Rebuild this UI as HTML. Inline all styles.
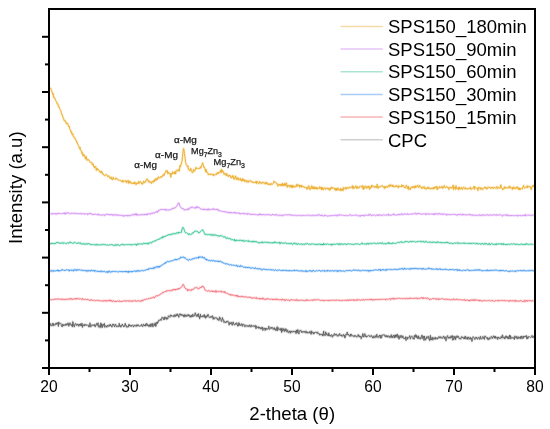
<!DOCTYPE html>
<html><head><meta charset="utf-8"><style>
html,body{margin:0;padding:0;background:#fff;}
svg{display:block;}
text{font-family:"Liberation Sans",sans-serif;fill:#000;}
.tk{font-size:15.6px;}
.al{font-size:18.6px;}
.lg{font-size:18.5px;}
.an{font-size:8.8px;fill:#1a1a1a;stroke:#1a1a1a;stroke-width:0.25px;}
.sb{font-size:6.6px;}
</style></head><body>
<svg width="550" height="429" viewBox="0 0 550 429">
<rect width="550" height="429" fill="#fff"/>
<g>
<polyline fill="none" stroke="#5c5c5c" stroke-opacity="0.22" stroke-width="2.2" stroke-linejoin="round" points="49.6,326.2 50.0,326.0 50.4,323.5 50.8,324.5 51.2,325.3 51.6,326.0 52.0,325.2 52.4,324.0 52.8,323.2 53.2,325.9 53.6,323.7 54.0,324.5 54.4,324.9 54.8,325.4 55.2,324.0 55.6,323.4 56.0,324.4 56.4,323.3 56.8,324.3 57.2,322.7 57.6,323.5 58.0,322.6 58.4,326.4 58.8,322.1 59.2,323.5 59.6,323.8 60.0,323.7 60.4,323.1 60.8,323.5 61.2,324.6 61.6,326.3 62.0,326.1 62.4,326.7 62.8,324.0 63.2,324.7 63.6,325.9 64.0,325.1 64.4,324.9 64.8,324.8 65.2,325.5 65.6,323.9 66.0,324.9 66.4,323.8 66.8,325.3 67.2,325.1 67.6,324.3 68.0,322.9 68.4,324.1 68.8,326.2 69.2,324.1 69.6,325.0 70.0,322.8 70.4,323.6 70.8,324.7 71.2,325.6 71.6,325.6 72.0,324.3 72.4,326.9 72.8,321.7 73.2,323.2 73.6,325.8 74.0,326.2 74.4,326.9 74.8,324.2 75.2,323.6 75.6,323.5 76.0,324.0 76.4,325.5 76.8,324.4 77.2,324.1 77.6,325.2 78.0,324.4 78.4,324.8 78.8,326.3 79.2,324.0 79.6,325.1 80.0,324.1 80.4,325.7 80.8,323.6 81.2,324.1 81.6,326.0 82.0,323.3 82.4,327.4 82.8,325.9 83.2,325.0 83.6,324.7 84.0,325.8 84.4,325.8 84.8,324.2 85.2,325.5 85.6,324.4 86.0,324.8 86.4,325.1 86.8,325.3 87.2,324.8 87.6,325.3 88.0,325.0 88.4,325.2 88.8,327.0 89.2,326.9 89.6,324.4 90.0,322.9 90.4,326.3 90.8,327.1 91.2,324.8 91.6,325.3 92.0,325.1 92.4,325.5 92.8,324.7 93.2,325.5 93.6,325.3 94.0,325.3 94.4,325.9 94.8,324.3 95.2,326.9 95.6,325.8 96.0,325.6 96.4,324.6 96.8,323.3 97.2,325.3 97.6,325.0 98.0,322.9 98.4,326.8 98.8,327.1 99.2,325.4 99.6,326.5 100.0,327.6 100.4,326.8 100.8,322.9 101.2,327.3 101.6,324.0 102.0,325.4 102.4,327.5 102.8,324.8 103.2,324.1 103.6,325.6 104.0,325.3 104.4,323.4 104.8,327.3 105.2,325.9 105.6,325.9 106.0,326.1 106.4,326.0 106.8,327.3 107.2,325.6 107.6,325.2 108.0,326.3 108.4,326.1 108.8,326.3 109.2,324.7 109.6,326.1 110.0,325.9 110.4,324.4 110.8,326.0 111.2,325.5 111.6,326.8 112.0,327.1 112.4,325.5 112.8,324.1 113.2,325.3 113.6,324.3 114.0,324.4 114.4,326.7 114.8,326.0 115.2,325.1 115.6,324.2 116.0,325.5 116.4,326.9 116.8,326.2 117.2,325.9 117.6,325.9 118.0,327.0 118.4,326.6 118.8,325.8 119.2,323.4 119.6,326.4 120.0,326.0 120.4,325.8 120.8,327.2 121.2,325.0 121.6,325.8 122.0,325.7 122.4,324.1 122.8,325.2 123.2,325.8 123.6,327.0 124.0,326.4 124.4,325.7 124.8,326.4 125.2,323.4 125.6,325.2 126.0,324.9 126.4,326.2 126.8,327.4 127.2,326.4 127.6,326.8 128.0,326.5 128.4,327.1 128.8,324.4 129.2,326.0 129.6,324.7 130.0,325.2 130.4,326.3 130.8,326.2 131.2,325.2 131.6,326.4 132.0,325.3 132.4,325.2 132.8,325.3 133.2,325.6 133.6,326.8 134.0,326.5 134.4,325.0 134.8,325.4 135.2,325.2 135.6,326.2 136.0,326.1 136.4,326.3 136.8,324.7 137.2,326.2 137.6,325.1 138.0,324.6 138.4,325.8 138.8,325.4 139.2,326.3 139.6,326.2 140.0,325.6 140.4,325.9 140.8,325.6 141.2,325.5 141.6,324.4 142.0,326.3 142.4,326.4 142.8,326.6 143.2,324.4 143.6,324.3 144.0,325.4 144.4,325.9 144.8,324.9 145.2,326.2 145.6,324.1 146.0,325.8 146.4,323.4 146.8,324.2 147.2,323.8 147.6,325.8 148.0,324.8 148.4,325.4 148.8,326.5 149.2,325.0 149.6,326.3 150.0,324.4 150.4,326.6 150.8,323.9 151.2,323.7 151.6,325.5 152.0,326.6 152.4,323.5 152.8,326.4 153.2,326.7 153.6,325.7 154.0,323.7 154.4,324.4 154.8,325.7 155.2,322.8 155.6,326.3 156.0,326.3 156.4,322.5 156.8,322.4 157.2,323.9 157.6,321.8 158.0,322.6 158.4,320.7 158.8,320.0 159.2,320.2 159.6,320.5 160.0,320.2 160.4,319.2 160.8,320.3 161.2,320.4 161.6,319.4 162.0,317.1 162.4,317.5 162.8,317.7 163.2,318.5 163.6,319.6 164.0,317.5 164.4,319.6 164.8,316.9 165.2,318.5 165.6,317.5 166.0,317.9 166.4,319.4 166.8,317.5 167.2,317.8 167.6,319.2 168.0,317.7 168.4,315.8 168.8,316.2 169.2,316.7 169.6,317.2 170.0,317.2 170.4,314.8 170.8,315.5 171.2,315.0 171.6,316.1 172.0,316.4 172.4,315.8 172.8,316.3 173.2,315.6 173.6,315.6 174.0,317.0 174.4,316.1 174.8,314.6 175.2,314.8 175.6,316.5 176.0,315.4 176.4,314.6 176.8,315.9 177.2,313.8 177.6,315.4 178.0,314.7 178.4,315.4 178.8,317.3 179.2,315.4 179.6,314.1 180.0,313.7 180.4,315.4 180.8,315.0 181.2,314.1 181.6,315.1 182.0,315.7 182.4,314.6 182.8,315.5 183.2,316.1 183.6,314.9 184.0,317.1 184.4,314.8 184.8,314.5 185.2,316.7 185.6,315.1 186.0,315.0 186.4,315.0 186.8,316.5 187.2,315.5 187.6,315.7 188.0,314.4 188.4,314.9 188.8,316.1 189.2,314.8 189.6,315.7 190.0,317.1 190.4,316.2 190.8,317.3 191.2,315.0 191.6,316.6 192.0,315.5 192.4,316.6 192.8,314.2 193.2,315.5 193.6,316.5 194.0,315.6 194.4,315.7 194.8,315.1 195.2,312.8 195.6,314.6 196.0,314.9 196.4,316.5 196.8,315.5 197.2,314.3 197.6,316.4 198.0,315.9 198.4,313.7 198.8,316.9 199.2,316.2 199.6,318.8 200.0,316.9 200.4,314.2 200.8,317.1 201.2,316.5 201.6,316.0 202.0,316.7 202.4,317.1 202.8,315.7 203.2,315.2 203.6,316.7 204.0,316.3 204.4,314.5 204.8,317.4 205.2,315.7 205.6,318.1 206.0,317.8 206.4,316.1 206.8,317.2 207.2,315.1 207.6,316.2 208.0,314.3 208.4,315.2 208.8,316.5 209.2,317.4 209.6,317.5 210.0,317.7 210.4,317.6 210.8,316.4 211.2,317.1 211.6,316.6 212.0,317.6 212.4,315.7 212.8,316.7 213.2,319.3 213.6,318.0 214.0,317.3 214.4,318.9 214.8,318.6 215.2,318.3 215.6,318.0 216.0,317.4 216.4,318.4 216.8,318.5 217.2,318.4 217.6,319.9 218.0,318.6 218.4,319.3 218.8,320.6 219.2,320.0 219.6,316.9 220.0,319.1 220.4,318.4 220.8,318.9 221.2,321.0 221.6,321.5 222.0,320.4 222.4,317.6 222.8,319.4 223.2,319.8 223.6,319.8 224.0,322.5 224.4,321.6 224.8,322.0 225.2,321.9 225.6,322.9 226.0,322.1 226.4,321.2 226.8,322.3 227.2,321.7 227.6,321.2 228.0,321.0 228.4,322.7 228.8,322.9 229.2,325.1 229.6,322.5 230.0,322.6 230.4,323.2 230.8,324.1 231.2,322.2 231.6,323.2 232.0,325.0 232.4,325.2 232.8,322.7 233.2,321.9 233.6,323.7 234.0,323.7 234.4,325.0 234.8,324.8 235.2,324.2 235.6,323.3 236.0,324.5 236.4,323.0 236.8,322.8 237.2,324.0 237.6,326.1 238.0,326.1 238.4,325.8 238.8,322.6 239.2,325.4 239.6,323.7 240.0,325.2 240.4,325.5 240.8,325.5 241.2,324.1 241.6,323.7 242.0,325.6 242.4,326.3 242.8,324.3 243.2,324.2 243.6,325.0 244.0,324.6 244.4,326.4 244.8,326.8 245.2,326.7 245.6,325.2 246.0,325.0 246.4,325.5 246.8,325.9 247.2,326.6 247.6,325.9 248.0,325.3 248.4,326.4 248.8,326.8 249.2,325.8 249.6,324.9 250.0,326.4 250.4,327.0 250.8,326.8 251.2,324.9 251.6,326.7 252.0,326.4 252.4,326.1 252.8,326.2 253.2,325.7 253.6,325.7 254.0,326.8 254.4,326.5 254.8,326.6 255.2,325.3 255.6,327.2 256.0,328.7 256.4,325.9 256.8,327.2 257.2,327.2 257.6,327.7 258.0,328.1 258.4,326.7 258.8,328.3 259.2,328.1 259.6,327.0 260.0,328.1 260.4,328.9 260.8,329.1 261.2,327.4 261.6,328.8 262.0,328.0 262.4,327.0 262.8,330.5 263.2,329.3 263.6,329.1 264.0,327.9 264.4,328.6 264.8,328.2 265.2,330.5 265.6,328.0 266.0,328.5 266.4,329.4 266.8,328.4 267.2,329.4 267.6,328.8 268.0,328.6 268.4,328.6 268.8,326.2 269.2,329.5 269.6,329.2 270.0,328.8 270.4,328.4 270.8,327.3 271.2,328.6 271.6,327.5 272.0,328.2 272.4,327.5 272.8,328.2 273.2,329.5 273.6,329.1 274.0,327.6 274.4,327.8 274.8,329.9 275.2,328.6 275.6,329.8 276.0,330.7 276.4,330.1 276.8,327.9 277.2,326.7 277.6,330.7 278.0,327.7 278.4,327.8 278.8,329.1 279.2,329.2 279.6,330.0 280.0,328.8 280.4,328.5 280.8,330.5 281.2,328.7 281.6,332.5 282.0,328.2 282.4,329.9 282.8,331.1 283.2,330.1 283.6,328.6 284.0,330.3 284.4,331.6 284.8,329.6 285.2,328.8 285.6,330.8 286.0,328.8 286.4,331.7 286.8,331.9 287.2,331.2 287.6,329.9 288.0,332.4 288.4,332.8 288.8,332.5 289.2,331.0 289.6,332.1 290.0,330.9 290.4,333.2 290.8,331.5 291.2,330.9 291.6,331.8 292.0,332.4 292.4,331.9 292.8,331.6 293.2,330.9 293.6,332.1 294.0,331.7 294.4,331.7 294.8,331.3 295.2,331.6 295.6,331.0 296.0,333.6 296.4,330.0 296.8,332.0 297.2,333.0 297.6,329.7 298.0,329.8 298.4,332.4 298.8,334.0 299.2,332.5 299.6,330.7 300.0,330.8 300.4,330.8 300.8,330.2 301.2,331.0 301.6,332.5 302.0,331.3 302.4,332.1 302.8,332.5 303.2,331.4 303.6,331.8 304.0,332.2 304.4,331.3 304.8,332.4 305.2,332.9 305.6,332.5 306.0,330.9 306.4,333.1 306.8,332.6 307.2,333.1 307.6,331.9 308.0,333.2 308.4,332.9 308.8,332.4 309.2,332.3 309.6,332.8 310.0,331.2 310.4,333.4 310.8,332.6 311.2,334.3 311.6,330.9 312.0,332.1 312.4,333.0 312.8,333.1 313.2,332.5 313.6,334.1 314.0,332.5 314.4,333.4 314.8,332.5 315.2,332.5 315.6,332.0 316.0,332.0 316.4,332.3 316.8,333.2 317.2,332.4 317.6,332.0 318.0,333.9 318.4,333.4 318.8,333.9 319.2,333.5 319.6,335.2 320.0,334.5 320.4,334.2 320.8,334.4 321.2,335.1 321.6,334.4 322.0,334.9 322.4,333.9 322.8,336.0 323.2,334.5 323.6,331.1 324.0,335.3 324.4,334.4 324.8,334.8 325.2,335.7 325.6,331.9 326.0,332.8 326.4,334.5 326.8,333.4 327.2,335.4 327.6,335.2 328.0,334.5 328.4,336.0 328.8,332.9 329.2,335.0 329.6,335.8 330.0,336.1 330.4,335.3 330.8,336.4 331.2,335.2 331.6,334.6 332.0,335.1 332.4,337.2 332.8,336.8 333.2,335.0 333.6,335.1 334.0,335.5 334.4,333.5 334.8,334.6 335.2,335.3 335.6,334.3 336.0,334.9 336.4,333.9 336.8,334.7 337.2,336.1 337.6,335.3 338.0,336.3 338.4,335.3 338.8,334.6 339.2,335.5 339.6,333.5 340.0,334.7 340.4,335.3 340.8,335.0 341.2,336.0 341.6,334.8 342.0,336.5 342.4,336.3 342.8,335.5 343.2,334.8 343.6,334.3 344.0,336.2 344.4,335.2 344.8,338.0 345.2,336.2 345.6,336.6 346.0,334.0 346.4,334.7 346.8,334.3 347.2,332.1 347.6,334.9 348.0,334.3 348.4,334.3 348.8,335.1 349.2,335.9 349.6,335.5 350.0,336.5 350.4,334.2 350.8,335.7 351.2,334.1 351.6,334.7 352.0,336.2 352.4,335.8 352.8,335.5 353.2,335.6 353.6,336.2 354.0,337.0 354.4,336.2 354.8,335.2 355.2,336.4 355.6,336.0 356.0,336.4 356.4,336.3 356.8,337.2 357.2,336.5 357.6,335.7 358.0,334.6 358.4,334.8 358.8,336.6 359.2,335.6 359.6,337.1 360.0,336.3 360.4,336.6 360.8,336.0 361.2,338.8 361.6,337.2 362.0,336.4 362.4,336.6 362.8,333.6 363.2,335.1 363.6,337.0 364.0,337.0 364.4,335.0 364.8,333.7 365.2,334.7 365.6,336.5 366.0,336.0 366.4,337.2 366.8,335.8 367.2,336.3 367.6,336.4 368.0,335.8 368.4,335.4 368.8,335.2 369.2,335.7 369.6,336.0 370.0,337.0 370.4,336.3 370.8,335.7 371.2,335.2 371.6,335.6 372.0,337.1 372.4,336.9 372.8,338.1 373.2,336.4 373.6,336.0 374.0,337.9 374.4,337.5 374.8,338.0 375.2,335.6 375.6,337.0 376.0,337.1 376.4,337.2 376.8,334.3 377.2,336.7 377.6,336.8 378.0,337.7 378.4,336.2 378.8,336.3 379.2,336.1 379.6,335.1 380.0,337.0 380.4,338.2 380.8,335.2 381.2,337.8 381.6,338.0 382.0,334.9 382.4,335.1 382.8,335.4 383.2,335.1 383.6,335.1 384.0,334.5 384.4,335.2 384.8,336.1 385.2,336.8 385.6,335.9 386.0,335.2 386.4,336.9 386.8,337.1 387.2,335.8 387.6,337.2 388.0,335.5 388.4,335.8 388.8,336.6 389.2,336.3 389.6,337.6 390.0,336.2 390.4,336.7 390.8,337.5 391.2,334.7 391.6,337.1 392.0,337.6 392.4,336.3 392.8,337.7 393.2,335.4 393.6,335.6 394.0,335.1 394.4,337.9 394.8,335.5 395.2,337.1 395.6,334.8 396.0,337.4 396.4,335.0 396.8,335.9 397.2,334.0 397.6,335.4 398.0,337.8 398.4,335.6 398.8,338.7 399.2,339.2 399.6,336.8 400.0,335.6 400.4,336.8 400.8,337.7 401.2,335.4 401.6,336.7 402.0,337.5 402.4,337.9 402.8,335.8 403.2,337.6 403.6,337.7 404.0,338.7 404.4,338.0 404.8,338.9 405.2,338.3 405.6,336.7 406.0,340.5 406.4,338.3 406.8,337.6 407.2,337.1 407.6,339.2 408.0,337.5 408.4,338.0 408.8,337.6 409.2,337.3 409.6,335.7 410.0,336.7 410.4,339.1 410.8,337.5 411.2,336.4 411.6,336.2 412.0,336.2 412.4,336.8 412.8,337.2 413.2,339.0 413.6,337.8 414.0,339.3 414.4,335.5 414.8,337.0 415.2,335.2 415.6,334.7 416.0,337.5 416.4,335.3 416.8,337.5 417.2,336.4 417.6,338.5 418.0,338.6 418.4,335.8 418.8,338.5 419.2,337.8 419.6,338.4 420.0,337.4 420.4,339.2 420.8,338.6 421.2,337.4 421.6,335.6 422.0,335.0 422.4,338.6 422.8,337.8 423.2,336.0 423.6,336.6 424.0,340.4 424.4,336.1 424.8,337.9 425.2,339.0 425.6,340.2 426.0,338.2 426.4,338.3 426.8,336.6 427.2,338.3 427.6,337.6 428.0,336.4 428.4,336.4 428.8,338.9 429.2,338.9 429.6,340.6 430.0,337.5 430.4,335.4 430.8,340.0 431.2,338.7 431.6,339.8 432.0,337.2 432.4,337.7 432.8,340.1 433.2,337.6 433.6,338.3 434.0,338.2 434.4,339.2 434.8,339.2 435.2,337.2 435.6,339.2 436.0,337.8 436.4,338.0 436.8,338.2 437.2,339.2 437.6,337.9 438.0,338.5 438.4,337.2 438.8,336.5 439.2,336.6 439.6,338.0 440.0,338.0 440.4,338.1 440.8,336.6 441.2,336.9 441.6,337.8 442.0,338.5 442.4,338.3 442.8,337.3 443.2,337.1 443.6,336.0 444.0,336.9 444.4,338.8 444.8,337.2 445.2,336.8 445.6,337.9 446.0,340.8 446.4,337.4 446.8,336.8 447.2,336.0 447.6,335.6 448.0,338.3 448.4,338.2 448.8,337.1 449.2,338.0 449.6,338.3 450.0,336.7 450.4,337.7 450.8,338.3 451.2,335.8 451.6,337.3 452.0,337.6 452.4,335.6 452.8,340.2 453.2,338.8 453.6,339.8 454.0,336.0 454.4,337.4 454.8,338.6 455.2,336.9 455.6,339.7 456.0,336.4 456.4,337.6 456.8,337.1 457.2,335.7 457.6,337.4 458.0,337.4 458.4,336.3 458.8,337.1 459.2,338.8 459.6,338.7 460.0,338.2 460.4,338.5 460.8,339.2 461.2,337.3 461.6,336.5 462.0,337.7 462.4,337.8 462.8,337.0 463.2,338.0 463.6,338.1 464.0,338.9 464.4,336.7 464.8,339.0 465.2,337.5 465.6,336.2 466.0,339.0 466.4,338.8 466.8,338.5 467.2,337.2 467.6,339.3 468.0,337.2 468.4,337.0 468.8,338.1 469.2,339.3 469.6,338.3 470.0,338.6 470.4,337.2 470.8,339.3 471.2,338.0 471.6,339.1 472.0,341.4 472.4,338.5 472.8,337.2 473.2,336.7 473.6,337.2 474.0,337.3 474.4,338.7 474.8,339.5 475.2,338.0 475.6,337.5 476.0,338.5 476.4,337.1 476.8,338.0 477.2,338.9 477.6,339.2 478.0,337.5 478.4,337.5 478.8,337.4 479.2,338.1 479.6,339.4 480.0,337.8 480.4,336.3 480.8,338.9 481.2,338.8 481.6,339.0 482.0,338.8 482.4,337.3 482.8,336.5 483.2,338.4 483.6,337.5 484.0,338.1 484.4,339.4 484.8,336.0 485.2,336.0 485.6,336.5 486.0,337.1 486.4,337.9 486.8,338.3 487.2,337.4 487.6,339.5 488.0,337.8 488.4,338.8 488.8,339.8 489.2,339.2 489.6,337.6 490.0,337.9 490.4,338.3 490.8,338.6 491.2,336.4 491.6,336.5 492.0,336.8 492.4,338.5 492.8,337.5 493.2,337.4 493.6,335.9 494.0,336.0 494.4,338.0 494.8,336.4 495.2,338.5 495.6,336.3 496.0,337.6 496.4,338.2 496.8,337.8 497.2,337.2 497.6,339.5 498.0,337.2 498.4,337.8 498.8,337.0 499.2,338.4 499.6,338.5 500.0,338.5 500.4,337.8 500.8,338.5 501.2,336.4 501.6,336.9 502.0,338.0 502.4,334.9 502.8,335.8 503.2,338.2 503.6,337.6 504.0,337.1 504.4,337.0 504.8,339.0 505.2,338.0 505.6,337.1 506.0,335.8 506.4,337.7 506.8,336.3 507.2,337.4 507.6,336.7 508.0,339.0 508.4,336.7 508.8,337.2 509.2,338.8 509.6,335.0 510.0,336.8 510.4,335.7 510.8,339.0 511.2,337.4 511.6,336.9 512.0,337.5 512.4,338.2 512.8,338.0 513.2,337.4 513.6,338.4 514.0,337.8 514.4,339.5 514.8,335.9 515.2,336.6 515.6,337.7 516.0,337.9 516.4,336.4 516.8,338.5 517.2,338.2 517.6,338.9 518.0,336.6 518.4,338.5 518.8,337.1 519.2,337.6 519.6,338.3 520.0,336.8 520.4,336.7 520.8,338.8 521.2,336.0 521.6,337.7 522.0,338.4 522.4,338.8 522.8,336.9 523.2,336.0 523.6,338.2 524.0,336.4 524.4,337.0 524.8,336.4 525.2,335.9 525.6,336.7 526.0,337.1 526.4,335.5 526.8,338.8 527.2,336.8 527.6,338.8 528.0,338.3 528.4,336.5 528.8,336.9 529.2,336.6 529.6,337.0 530.0,337.2 530.4,337.5 530.8,337.4 531.2,337.2 531.6,336.4 532.0,335.5 532.4,337.4 532.8,336.9 533.2,337.5 533.6,335.7"/>
<polyline fill="none" stroke="#5c5c5c" stroke-width="0.85" stroke-linejoin="round" points="49.6,326.2 50.0,326.0 50.4,323.5 50.8,324.5 51.2,325.3 51.6,326.0 52.0,325.2 52.4,324.0 52.8,323.2 53.2,325.9 53.6,323.7 54.0,324.5 54.4,324.9 54.8,325.4 55.2,324.0 55.6,323.4 56.0,324.4 56.4,323.3 56.8,324.3 57.2,322.7 57.6,323.5 58.0,322.6 58.4,326.4 58.8,322.1 59.2,323.5 59.6,323.8 60.0,323.7 60.4,323.1 60.8,323.5 61.2,324.6 61.6,326.3 62.0,326.1 62.4,326.7 62.8,324.0 63.2,324.7 63.6,325.9 64.0,325.1 64.4,324.9 64.8,324.8 65.2,325.5 65.6,323.9 66.0,324.9 66.4,323.8 66.8,325.3 67.2,325.1 67.6,324.3 68.0,322.9 68.4,324.1 68.8,326.2 69.2,324.1 69.6,325.0 70.0,322.8 70.4,323.6 70.8,324.7 71.2,325.6 71.6,325.6 72.0,324.3 72.4,326.9 72.8,321.7 73.2,323.2 73.6,325.8 74.0,326.2 74.4,326.9 74.8,324.2 75.2,323.6 75.6,323.5 76.0,324.0 76.4,325.5 76.8,324.4 77.2,324.1 77.6,325.2 78.0,324.4 78.4,324.8 78.8,326.3 79.2,324.0 79.6,325.1 80.0,324.1 80.4,325.7 80.8,323.6 81.2,324.1 81.6,326.0 82.0,323.3 82.4,327.4 82.8,325.9 83.2,325.0 83.6,324.7 84.0,325.8 84.4,325.8 84.8,324.2 85.2,325.5 85.6,324.4 86.0,324.8 86.4,325.1 86.8,325.3 87.2,324.8 87.6,325.3 88.0,325.0 88.4,325.2 88.8,327.0 89.2,326.9 89.6,324.4 90.0,322.9 90.4,326.3 90.8,327.1 91.2,324.8 91.6,325.3 92.0,325.1 92.4,325.5 92.8,324.7 93.2,325.5 93.6,325.3 94.0,325.3 94.4,325.9 94.8,324.3 95.2,326.9 95.6,325.8 96.0,325.6 96.4,324.6 96.8,323.3 97.2,325.3 97.6,325.0 98.0,322.9 98.4,326.8 98.8,327.1 99.2,325.4 99.6,326.5 100.0,327.6 100.4,326.8 100.8,322.9 101.2,327.3 101.6,324.0 102.0,325.4 102.4,327.5 102.8,324.8 103.2,324.1 103.6,325.6 104.0,325.3 104.4,323.4 104.8,327.3 105.2,325.9 105.6,325.9 106.0,326.1 106.4,326.0 106.8,327.3 107.2,325.6 107.6,325.2 108.0,326.3 108.4,326.1 108.8,326.3 109.2,324.7 109.6,326.1 110.0,325.9 110.4,324.4 110.8,326.0 111.2,325.5 111.6,326.8 112.0,327.1 112.4,325.5 112.8,324.1 113.2,325.3 113.6,324.3 114.0,324.4 114.4,326.7 114.8,326.0 115.2,325.1 115.6,324.2 116.0,325.5 116.4,326.9 116.8,326.2 117.2,325.9 117.6,325.9 118.0,327.0 118.4,326.6 118.8,325.8 119.2,323.4 119.6,326.4 120.0,326.0 120.4,325.8 120.8,327.2 121.2,325.0 121.6,325.8 122.0,325.7 122.4,324.1 122.8,325.2 123.2,325.8 123.6,327.0 124.0,326.4 124.4,325.7 124.8,326.4 125.2,323.4 125.6,325.2 126.0,324.9 126.4,326.2 126.8,327.4 127.2,326.4 127.6,326.8 128.0,326.5 128.4,327.1 128.8,324.4 129.2,326.0 129.6,324.7 130.0,325.2 130.4,326.3 130.8,326.2 131.2,325.2 131.6,326.4 132.0,325.3 132.4,325.2 132.8,325.3 133.2,325.6 133.6,326.8 134.0,326.5 134.4,325.0 134.8,325.4 135.2,325.2 135.6,326.2 136.0,326.1 136.4,326.3 136.8,324.7 137.2,326.2 137.6,325.1 138.0,324.6 138.4,325.8 138.8,325.4 139.2,326.3 139.6,326.2 140.0,325.6 140.4,325.9 140.8,325.6 141.2,325.5 141.6,324.4 142.0,326.3 142.4,326.4 142.8,326.6 143.2,324.4 143.6,324.3 144.0,325.4 144.4,325.9 144.8,324.9 145.2,326.2 145.6,324.1 146.0,325.8 146.4,323.4 146.8,324.2 147.2,323.8 147.6,325.8 148.0,324.8 148.4,325.4 148.8,326.5 149.2,325.0 149.6,326.3 150.0,324.4 150.4,326.6 150.8,323.9 151.2,323.7 151.6,325.5 152.0,326.6 152.4,323.5 152.8,326.4 153.2,326.7 153.6,325.7 154.0,323.7 154.4,324.4 154.8,325.7 155.2,322.8 155.6,326.3 156.0,326.3 156.4,322.5 156.8,322.4 157.2,323.9 157.6,321.8 158.0,322.6 158.4,320.7 158.8,320.0 159.2,320.2 159.6,320.5 160.0,320.2 160.4,319.2 160.8,320.3 161.2,320.4 161.6,319.4 162.0,317.1 162.4,317.5 162.8,317.7 163.2,318.5 163.6,319.6 164.0,317.5 164.4,319.6 164.8,316.9 165.2,318.5 165.6,317.5 166.0,317.9 166.4,319.4 166.8,317.5 167.2,317.8 167.6,319.2 168.0,317.7 168.4,315.8 168.8,316.2 169.2,316.7 169.6,317.2 170.0,317.2 170.4,314.8 170.8,315.5 171.2,315.0 171.6,316.1 172.0,316.4 172.4,315.8 172.8,316.3 173.2,315.6 173.6,315.6 174.0,317.0 174.4,316.1 174.8,314.6 175.2,314.8 175.6,316.5 176.0,315.4 176.4,314.6 176.8,315.9 177.2,313.8 177.6,315.4 178.0,314.7 178.4,315.4 178.8,317.3 179.2,315.4 179.6,314.1 180.0,313.7 180.4,315.4 180.8,315.0 181.2,314.1 181.6,315.1 182.0,315.7 182.4,314.6 182.8,315.5 183.2,316.1 183.6,314.9 184.0,317.1 184.4,314.8 184.8,314.5 185.2,316.7 185.6,315.1 186.0,315.0 186.4,315.0 186.8,316.5 187.2,315.5 187.6,315.7 188.0,314.4 188.4,314.9 188.8,316.1 189.2,314.8 189.6,315.7 190.0,317.1 190.4,316.2 190.8,317.3 191.2,315.0 191.6,316.6 192.0,315.5 192.4,316.6 192.8,314.2 193.2,315.5 193.6,316.5 194.0,315.6 194.4,315.7 194.8,315.1 195.2,312.8 195.6,314.6 196.0,314.9 196.4,316.5 196.8,315.5 197.2,314.3 197.6,316.4 198.0,315.9 198.4,313.7 198.8,316.9 199.2,316.2 199.6,318.8 200.0,316.9 200.4,314.2 200.8,317.1 201.2,316.5 201.6,316.0 202.0,316.7 202.4,317.1 202.8,315.7 203.2,315.2 203.6,316.7 204.0,316.3 204.4,314.5 204.8,317.4 205.2,315.7 205.6,318.1 206.0,317.8 206.4,316.1 206.8,317.2 207.2,315.1 207.6,316.2 208.0,314.3 208.4,315.2 208.8,316.5 209.2,317.4 209.6,317.5 210.0,317.7 210.4,317.6 210.8,316.4 211.2,317.1 211.6,316.6 212.0,317.6 212.4,315.7 212.8,316.7 213.2,319.3 213.6,318.0 214.0,317.3 214.4,318.9 214.8,318.6 215.2,318.3 215.6,318.0 216.0,317.4 216.4,318.4 216.8,318.5 217.2,318.4 217.6,319.9 218.0,318.6 218.4,319.3 218.8,320.6 219.2,320.0 219.6,316.9 220.0,319.1 220.4,318.4 220.8,318.9 221.2,321.0 221.6,321.5 222.0,320.4 222.4,317.6 222.8,319.4 223.2,319.8 223.6,319.8 224.0,322.5 224.4,321.6 224.8,322.0 225.2,321.9 225.6,322.9 226.0,322.1 226.4,321.2 226.8,322.3 227.2,321.7 227.6,321.2 228.0,321.0 228.4,322.7 228.8,322.9 229.2,325.1 229.6,322.5 230.0,322.6 230.4,323.2 230.8,324.1 231.2,322.2 231.6,323.2 232.0,325.0 232.4,325.2 232.8,322.7 233.2,321.9 233.6,323.7 234.0,323.7 234.4,325.0 234.8,324.8 235.2,324.2 235.6,323.3 236.0,324.5 236.4,323.0 236.8,322.8 237.2,324.0 237.6,326.1 238.0,326.1 238.4,325.8 238.8,322.6 239.2,325.4 239.6,323.7 240.0,325.2 240.4,325.5 240.8,325.5 241.2,324.1 241.6,323.7 242.0,325.6 242.4,326.3 242.8,324.3 243.2,324.2 243.6,325.0 244.0,324.6 244.4,326.4 244.8,326.8 245.2,326.7 245.6,325.2 246.0,325.0 246.4,325.5 246.8,325.9 247.2,326.6 247.6,325.9 248.0,325.3 248.4,326.4 248.8,326.8 249.2,325.8 249.6,324.9 250.0,326.4 250.4,327.0 250.8,326.8 251.2,324.9 251.6,326.7 252.0,326.4 252.4,326.1 252.8,326.2 253.2,325.7 253.6,325.7 254.0,326.8 254.4,326.5 254.8,326.6 255.2,325.3 255.6,327.2 256.0,328.7 256.4,325.9 256.8,327.2 257.2,327.2 257.6,327.7 258.0,328.1 258.4,326.7 258.8,328.3 259.2,328.1 259.6,327.0 260.0,328.1 260.4,328.9 260.8,329.1 261.2,327.4 261.6,328.8 262.0,328.0 262.4,327.0 262.8,330.5 263.2,329.3 263.6,329.1 264.0,327.9 264.4,328.6 264.8,328.2 265.2,330.5 265.6,328.0 266.0,328.5 266.4,329.4 266.8,328.4 267.2,329.4 267.6,328.8 268.0,328.6 268.4,328.6 268.8,326.2 269.2,329.5 269.6,329.2 270.0,328.8 270.4,328.4 270.8,327.3 271.2,328.6 271.6,327.5 272.0,328.2 272.4,327.5 272.8,328.2 273.2,329.5 273.6,329.1 274.0,327.6 274.4,327.8 274.8,329.9 275.2,328.6 275.6,329.8 276.0,330.7 276.4,330.1 276.8,327.9 277.2,326.7 277.6,330.7 278.0,327.7 278.4,327.8 278.8,329.1 279.2,329.2 279.6,330.0 280.0,328.8 280.4,328.5 280.8,330.5 281.2,328.7 281.6,332.5 282.0,328.2 282.4,329.9 282.8,331.1 283.2,330.1 283.6,328.6 284.0,330.3 284.4,331.6 284.8,329.6 285.2,328.8 285.6,330.8 286.0,328.8 286.4,331.7 286.8,331.9 287.2,331.2 287.6,329.9 288.0,332.4 288.4,332.8 288.8,332.5 289.2,331.0 289.6,332.1 290.0,330.9 290.4,333.2 290.8,331.5 291.2,330.9 291.6,331.8 292.0,332.4 292.4,331.9 292.8,331.6 293.2,330.9 293.6,332.1 294.0,331.7 294.4,331.7 294.8,331.3 295.2,331.6 295.6,331.0 296.0,333.6 296.4,330.0 296.8,332.0 297.2,333.0 297.6,329.7 298.0,329.8 298.4,332.4 298.8,334.0 299.2,332.5 299.6,330.7 300.0,330.8 300.4,330.8 300.8,330.2 301.2,331.0 301.6,332.5 302.0,331.3 302.4,332.1 302.8,332.5 303.2,331.4 303.6,331.8 304.0,332.2 304.4,331.3 304.8,332.4 305.2,332.9 305.6,332.5 306.0,330.9 306.4,333.1 306.8,332.6 307.2,333.1 307.6,331.9 308.0,333.2 308.4,332.9 308.8,332.4 309.2,332.3 309.6,332.8 310.0,331.2 310.4,333.4 310.8,332.6 311.2,334.3 311.6,330.9 312.0,332.1 312.4,333.0 312.8,333.1 313.2,332.5 313.6,334.1 314.0,332.5 314.4,333.4 314.8,332.5 315.2,332.5 315.6,332.0 316.0,332.0 316.4,332.3 316.8,333.2 317.2,332.4 317.6,332.0 318.0,333.9 318.4,333.4 318.8,333.9 319.2,333.5 319.6,335.2 320.0,334.5 320.4,334.2 320.8,334.4 321.2,335.1 321.6,334.4 322.0,334.9 322.4,333.9 322.8,336.0 323.2,334.5 323.6,331.1 324.0,335.3 324.4,334.4 324.8,334.8 325.2,335.7 325.6,331.9 326.0,332.8 326.4,334.5 326.8,333.4 327.2,335.4 327.6,335.2 328.0,334.5 328.4,336.0 328.8,332.9 329.2,335.0 329.6,335.8 330.0,336.1 330.4,335.3 330.8,336.4 331.2,335.2 331.6,334.6 332.0,335.1 332.4,337.2 332.8,336.8 333.2,335.0 333.6,335.1 334.0,335.5 334.4,333.5 334.8,334.6 335.2,335.3 335.6,334.3 336.0,334.9 336.4,333.9 336.8,334.7 337.2,336.1 337.6,335.3 338.0,336.3 338.4,335.3 338.8,334.6 339.2,335.5 339.6,333.5 340.0,334.7 340.4,335.3 340.8,335.0 341.2,336.0 341.6,334.8 342.0,336.5 342.4,336.3 342.8,335.5 343.2,334.8 343.6,334.3 344.0,336.2 344.4,335.2 344.8,338.0 345.2,336.2 345.6,336.6 346.0,334.0 346.4,334.7 346.8,334.3 347.2,332.1 347.6,334.9 348.0,334.3 348.4,334.3 348.8,335.1 349.2,335.9 349.6,335.5 350.0,336.5 350.4,334.2 350.8,335.7 351.2,334.1 351.6,334.7 352.0,336.2 352.4,335.8 352.8,335.5 353.2,335.6 353.6,336.2 354.0,337.0 354.4,336.2 354.8,335.2 355.2,336.4 355.6,336.0 356.0,336.4 356.4,336.3 356.8,337.2 357.2,336.5 357.6,335.7 358.0,334.6 358.4,334.8 358.8,336.6 359.2,335.6 359.6,337.1 360.0,336.3 360.4,336.6 360.8,336.0 361.2,338.8 361.6,337.2 362.0,336.4 362.4,336.6 362.8,333.6 363.2,335.1 363.6,337.0 364.0,337.0 364.4,335.0 364.8,333.7 365.2,334.7 365.6,336.5 366.0,336.0 366.4,337.2 366.8,335.8 367.2,336.3 367.6,336.4 368.0,335.8 368.4,335.4 368.8,335.2 369.2,335.7 369.6,336.0 370.0,337.0 370.4,336.3 370.8,335.7 371.2,335.2 371.6,335.6 372.0,337.1 372.4,336.9 372.8,338.1 373.2,336.4 373.6,336.0 374.0,337.9 374.4,337.5 374.8,338.0 375.2,335.6 375.6,337.0 376.0,337.1 376.4,337.2 376.8,334.3 377.2,336.7 377.6,336.8 378.0,337.7 378.4,336.2 378.8,336.3 379.2,336.1 379.6,335.1 380.0,337.0 380.4,338.2 380.8,335.2 381.2,337.8 381.6,338.0 382.0,334.9 382.4,335.1 382.8,335.4 383.2,335.1 383.6,335.1 384.0,334.5 384.4,335.2 384.8,336.1 385.2,336.8 385.6,335.9 386.0,335.2 386.4,336.9 386.8,337.1 387.2,335.8 387.6,337.2 388.0,335.5 388.4,335.8 388.8,336.6 389.2,336.3 389.6,337.6 390.0,336.2 390.4,336.7 390.8,337.5 391.2,334.7 391.6,337.1 392.0,337.6 392.4,336.3 392.8,337.7 393.2,335.4 393.6,335.6 394.0,335.1 394.4,337.9 394.8,335.5 395.2,337.1 395.6,334.8 396.0,337.4 396.4,335.0 396.8,335.9 397.2,334.0 397.6,335.4 398.0,337.8 398.4,335.6 398.8,338.7 399.2,339.2 399.6,336.8 400.0,335.6 400.4,336.8 400.8,337.7 401.2,335.4 401.6,336.7 402.0,337.5 402.4,337.9 402.8,335.8 403.2,337.6 403.6,337.7 404.0,338.7 404.4,338.0 404.8,338.9 405.2,338.3 405.6,336.7 406.0,340.5 406.4,338.3 406.8,337.6 407.2,337.1 407.6,339.2 408.0,337.5 408.4,338.0 408.8,337.6 409.2,337.3 409.6,335.7 410.0,336.7 410.4,339.1 410.8,337.5 411.2,336.4 411.6,336.2 412.0,336.2 412.4,336.8 412.8,337.2 413.2,339.0 413.6,337.8 414.0,339.3 414.4,335.5 414.8,337.0 415.2,335.2 415.6,334.7 416.0,337.5 416.4,335.3 416.8,337.5 417.2,336.4 417.6,338.5 418.0,338.6 418.4,335.8 418.8,338.5 419.2,337.8 419.6,338.4 420.0,337.4 420.4,339.2 420.8,338.6 421.2,337.4 421.6,335.6 422.0,335.0 422.4,338.6 422.8,337.8 423.2,336.0 423.6,336.6 424.0,340.4 424.4,336.1 424.8,337.9 425.2,339.0 425.6,340.2 426.0,338.2 426.4,338.3 426.8,336.6 427.2,338.3 427.6,337.6 428.0,336.4 428.4,336.4 428.8,338.9 429.2,338.9 429.6,340.6 430.0,337.5 430.4,335.4 430.8,340.0 431.2,338.7 431.6,339.8 432.0,337.2 432.4,337.7 432.8,340.1 433.2,337.6 433.6,338.3 434.0,338.2 434.4,339.2 434.8,339.2 435.2,337.2 435.6,339.2 436.0,337.8 436.4,338.0 436.8,338.2 437.2,339.2 437.6,337.9 438.0,338.5 438.4,337.2 438.8,336.5 439.2,336.6 439.6,338.0 440.0,338.0 440.4,338.1 440.8,336.6 441.2,336.9 441.6,337.8 442.0,338.5 442.4,338.3 442.8,337.3 443.2,337.1 443.6,336.0 444.0,336.9 444.4,338.8 444.8,337.2 445.2,336.8 445.6,337.9 446.0,340.8 446.4,337.4 446.8,336.8 447.2,336.0 447.6,335.6 448.0,338.3 448.4,338.2 448.8,337.1 449.2,338.0 449.6,338.3 450.0,336.7 450.4,337.7 450.8,338.3 451.2,335.8 451.6,337.3 452.0,337.6 452.4,335.6 452.8,340.2 453.2,338.8 453.6,339.8 454.0,336.0 454.4,337.4 454.8,338.6 455.2,336.9 455.6,339.7 456.0,336.4 456.4,337.6 456.8,337.1 457.2,335.7 457.6,337.4 458.0,337.4 458.4,336.3 458.8,337.1 459.2,338.8 459.6,338.7 460.0,338.2 460.4,338.5 460.8,339.2 461.2,337.3 461.6,336.5 462.0,337.7 462.4,337.8 462.8,337.0 463.2,338.0 463.6,338.1 464.0,338.9 464.4,336.7 464.8,339.0 465.2,337.5 465.6,336.2 466.0,339.0 466.4,338.8 466.8,338.5 467.2,337.2 467.6,339.3 468.0,337.2 468.4,337.0 468.8,338.1 469.2,339.3 469.6,338.3 470.0,338.6 470.4,337.2 470.8,339.3 471.2,338.0 471.6,339.1 472.0,341.4 472.4,338.5 472.8,337.2 473.2,336.7 473.6,337.2 474.0,337.3 474.4,338.7 474.8,339.5 475.2,338.0 475.6,337.5 476.0,338.5 476.4,337.1 476.8,338.0 477.2,338.9 477.6,339.2 478.0,337.5 478.4,337.5 478.8,337.4 479.2,338.1 479.6,339.4 480.0,337.8 480.4,336.3 480.8,338.9 481.2,338.8 481.6,339.0 482.0,338.8 482.4,337.3 482.8,336.5 483.2,338.4 483.6,337.5 484.0,338.1 484.4,339.4 484.8,336.0 485.2,336.0 485.6,336.5 486.0,337.1 486.4,337.9 486.8,338.3 487.2,337.4 487.6,339.5 488.0,337.8 488.4,338.8 488.8,339.8 489.2,339.2 489.6,337.6 490.0,337.9 490.4,338.3 490.8,338.6 491.2,336.4 491.6,336.5 492.0,336.8 492.4,338.5 492.8,337.5 493.2,337.4 493.6,335.9 494.0,336.0 494.4,338.0 494.8,336.4 495.2,338.5 495.6,336.3 496.0,337.6 496.4,338.2 496.8,337.8 497.2,337.2 497.6,339.5 498.0,337.2 498.4,337.8 498.8,337.0 499.2,338.4 499.6,338.5 500.0,338.5 500.4,337.8 500.8,338.5 501.2,336.4 501.6,336.9 502.0,338.0 502.4,334.9 502.8,335.8 503.2,338.2 503.6,337.6 504.0,337.1 504.4,337.0 504.8,339.0 505.2,338.0 505.6,337.1 506.0,335.8 506.4,337.7 506.8,336.3 507.2,337.4 507.6,336.7 508.0,339.0 508.4,336.7 508.8,337.2 509.2,338.8 509.6,335.0 510.0,336.8 510.4,335.7 510.8,339.0 511.2,337.4 511.6,336.9 512.0,337.5 512.4,338.2 512.8,338.0 513.2,337.4 513.6,338.4 514.0,337.8 514.4,339.5 514.8,335.9 515.2,336.6 515.6,337.7 516.0,337.9 516.4,336.4 516.8,338.5 517.2,338.2 517.6,338.9 518.0,336.6 518.4,338.5 518.8,337.1 519.2,337.6 519.6,338.3 520.0,336.8 520.4,336.7 520.8,338.8 521.2,336.0 521.6,337.7 522.0,338.4 522.4,338.8 522.8,336.9 523.2,336.0 523.6,338.2 524.0,336.4 524.4,337.0 524.8,336.4 525.2,335.9 525.6,336.7 526.0,337.1 526.4,335.5 526.8,338.8 527.2,336.8 527.6,338.8 528.0,338.3 528.4,336.5 528.8,336.9 529.2,336.6 529.6,337.0 530.0,337.2 530.4,337.5 530.8,337.4 531.2,337.2 531.6,336.4 532.0,335.5 532.4,337.4 532.8,336.9 533.2,337.5 533.6,335.7"/>
<polyline fill="none" stroke="#F36E78" stroke-opacity="0.22" stroke-width="2.3" stroke-linejoin="round" points="49.6,299.3 50.0,299.8 50.4,299.5 50.8,299.7 51.2,300.0 51.6,299.7 52.0,299.7 52.4,299.3 52.8,299.7 53.2,299.6 53.6,299.1 54.0,299.6 54.4,299.2 54.8,298.6 55.2,299.2 55.6,299.4 56.0,299.4 56.4,299.2 56.8,299.1 57.2,299.3 57.6,299.3 58.0,298.5 58.4,298.9 58.8,299.2 59.2,299.1 59.6,299.3 60.0,299.4 60.4,299.0 60.8,298.9 61.2,299.6 61.6,298.8 62.0,299.1 62.4,299.8 62.8,299.3 63.2,299.3 63.6,299.1 64.0,299.4 64.4,300.0 64.8,299.2 65.2,299.0 65.6,299.6 66.0,299.8 66.4,299.3 66.8,298.8 67.2,299.2 67.6,298.9 68.0,299.5 68.4,299.0 68.8,299.3 69.2,299.1 69.6,299.3 70.0,298.3 70.4,299.1 70.8,299.1 71.2,299.1 71.6,298.5 72.0,299.6 72.4,298.9 72.8,299.3 73.2,298.9 73.6,299.1 74.0,298.9 74.4,298.5 74.8,298.8 75.2,299.4 75.6,298.6 76.0,298.9 76.4,298.3 76.8,299.3 77.2,298.4 77.6,298.6 78.0,298.9 78.4,299.1 78.8,298.5 79.2,298.8 79.6,299.1 80.0,298.9 80.4,298.6 80.8,299.0 81.2,299.2 81.6,299.6 82.0,299.3 82.4,298.4 82.8,299.5 83.2,299.4 83.6,299.3 84.0,299.5 84.4,299.7 84.8,299.3 85.2,299.1 85.6,299.4 86.0,299.7 86.4,299.4 86.8,299.4 87.2,299.2 87.6,299.9 88.0,299.4 88.4,299.8 88.8,299.6 89.2,300.3 89.6,300.4 90.0,300.8 90.4,299.9 90.8,299.7 91.2,300.3 91.6,299.7 92.0,300.0 92.4,300.4 92.8,300.2 93.2,300.5 93.6,300.0 94.0,300.1 94.4,300.2 94.8,300.6 95.2,300.7 95.6,300.8 96.0,300.6 96.4,300.3 96.8,300.4 97.2,300.7 97.6,300.3 98.0,300.4 98.4,300.2 98.8,300.9 99.2,300.8 99.6,300.4 100.0,301.1 100.4,300.9 100.8,300.8 101.2,301.1 101.6,301.0 102.0,300.6 102.4,300.7 102.8,300.5 103.2,301.2 103.6,300.9 104.0,301.2 104.4,300.6 104.8,300.4 105.2,301.2 105.6,301.1 106.0,300.3 106.4,301.2 106.8,300.5 107.2,301.3 107.6,301.0 108.0,300.6 108.4,300.7 108.8,300.7 109.2,299.9 109.6,301.1 110.0,300.7 110.4,301.1 110.8,300.0 111.2,301.2 111.6,300.9 112.0,300.5 112.4,301.6 112.8,301.2 113.2,300.7 113.6,300.7 114.0,301.2 114.4,301.6 114.8,301.2 115.2,300.9 115.6,301.8 116.0,301.0 116.4,301.6 116.8,301.3 117.2,301.1 117.6,301.0 118.0,300.9 118.4,301.1 118.8,301.6 119.2,301.0 119.6,300.7 120.0,301.6 120.4,301.5 120.8,301.2 121.2,301.6 121.6,301.2 122.0,301.7 122.4,301.0 122.8,300.8 123.2,300.8 123.6,301.0 124.0,301.0 124.4,300.8 124.8,300.8 125.2,300.6 125.6,300.8 126.0,301.5 126.4,301.0 126.8,300.7 127.2,300.7 127.6,300.8 128.0,301.0 128.4,300.7 128.8,301.4 129.2,300.7 129.6,300.8 130.0,301.3 130.4,300.8 130.8,301.3 131.2,300.8 131.6,301.2 132.0,301.7 132.4,300.7 132.8,301.2 133.2,300.6 133.6,301.0 134.0,300.8 134.4,301.0 134.8,300.6 135.2,300.3 135.6,301.2 136.0,301.0 136.4,301.4 136.8,301.1 137.2,301.0 137.6,300.7 138.0,300.5 138.4,301.1 138.8,300.6 139.2,301.5 139.6,301.5 140.0,301.1 140.4,301.1 140.8,300.6 141.2,300.3 141.6,301.3 142.0,300.3 142.4,300.8 142.8,300.0 143.2,300.3 143.6,300.4 144.0,299.4 144.4,299.4 144.8,299.5 145.2,299.5 145.6,299.5 146.0,299.2 146.4,299.1 146.8,298.9 147.2,298.9 147.6,299.3 148.0,298.8 148.4,298.5 148.8,298.5 149.2,298.5 149.6,298.1 150.0,298.6 150.4,298.6 150.8,297.8 151.2,298.0 151.6,297.9 152.0,298.2 152.4,297.5 152.8,297.5 153.2,297.1 153.6,296.9 154.0,296.9 154.4,298.1 154.8,297.2 155.2,296.7 155.6,296.5 156.0,295.7 156.4,295.7 156.8,296.2 157.2,295.7 157.6,295.9 158.0,295.4 158.4,295.5 158.8,295.2 159.2,295.1 159.6,294.8 160.0,294.8 160.4,294.0 160.8,293.9 161.2,293.6 161.6,293.5 162.0,293.5 162.4,293.2 162.8,292.2 163.2,292.4 163.6,292.3 164.0,292.1 164.4,291.8 164.8,291.7 165.2,292.0 165.6,291.6 166.0,291.8 166.4,290.6 166.8,290.7 167.2,290.5 167.6,291.1 168.0,290.9 168.4,290.5 168.8,290.5 169.2,290.7 169.6,291.0 170.0,291.0 170.4,290.2 170.8,290.5 171.2,290.2 171.6,290.7 172.0,291.0 172.4,290.3 172.8,290.2 173.2,289.1 173.6,290.1 174.0,289.2 174.4,289.5 174.8,289.9 175.2,289.0 175.6,290.2 176.0,289.1 176.4,289.6 176.8,289.1 177.2,289.4 177.6,289.0 178.0,289.1 178.4,288.2 178.8,289.3 179.2,289.1 179.6,288.6 180.0,288.4 180.4,287.9 180.8,287.6 181.2,287.5 181.6,286.9 182.0,286.2 182.4,285.5 182.8,284.6 183.2,284.2 183.6,284.8 184.0,285.7 184.4,287.2 184.8,287.3 185.2,287.9 185.6,288.7 186.0,288.4 186.4,289.1 186.8,288.9 187.2,289.3 187.6,291.0 188.0,289.3 188.4,290.3 188.8,289.9 189.2,289.8 189.6,289.7 190.0,290.5 190.4,290.2 190.8,290.2 191.2,290.6 191.6,289.4 192.0,289.0 192.4,289.6 192.8,289.7 193.2,289.0 193.6,289.2 194.0,288.7 194.4,288.2 194.8,287.5 195.2,287.7 195.6,287.9 196.0,287.6 196.4,287.4 196.8,287.6 197.2,287.7 197.6,288.3 198.0,288.2 198.4,289.1 198.8,288.7 199.2,288.6 199.6,287.8 200.0,287.4 200.4,287.8 200.8,287.4 201.2,288.0 201.6,286.8 202.0,286.4 202.4,286.9 202.8,285.9 203.2,286.9 203.6,287.0 204.0,287.2 204.4,288.3 204.8,289.6 205.2,290.2 205.6,290.3 206.0,290.2 206.4,290.7 206.8,290.8 207.2,290.9 207.6,291.4 208.0,291.3 208.4,290.6 208.8,290.8 209.2,290.7 209.6,291.0 210.0,291.4 210.4,291.6 210.8,291.2 211.2,291.0 211.6,290.8 212.0,290.7 212.4,291.8 212.8,291.1 213.2,291.0 213.6,291.9 214.0,291.1 214.4,291.3 214.8,291.5 215.2,290.7 215.6,290.8 216.0,292.5 216.4,291.6 216.8,290.8 217.2,291.3 217.6,291.5 218.0,291.8 218.4,291.5 218.8,291.1 219.2,291.6 219.6,292.0 220.0,291.4 220.4,291.2 220.8,291.3 221.2,290.9 221.6,292.2 222.0,292.0 222.4,291.8 222.8,291.9 223.2,292.3 223.6,291.8 224.0,291.6 224.4,292.6 224.8,291.5 225.2,292.4 225.6,293.1 226.0,293.4 226.4,293.0 226.8,293.1 227.2,293.2 227.6,293.4 228.0,293.6 228.4,294.3 228.8,294.1 229.2,294.7 229.6,294.4 230.0,294.2 230.4,294.4 230.8,295.4 231.2,294.6 231.6,295.3 232.0,294.7 232.4,295.3 232.8,295.1 233.2,295.1 233.6,295.1 234.0,295.2 234.4,295.6 234.8,296.1 235.2,295.8 235.6,295.5 236.0,296.0 236.4,295.0 236.8,295.9 237.2,296.8 237.6,295.3 238.0,296.0 238.4,296.6 238.8,296.9 239.2,296.8 239.6,296.2 240.0,297.0 240.4,297.0 240.8,296.4 241.2,296.5 241.6,296.2 242.0,296.5 242.4,297.0 242.8,296.2 243.2,297.1 243.6,296.9 244.0,296.9 244.4,296.7 244.8,297.1 245.2,296.9 245.6,296.9 246.0,296.5 246.4,297.1 246.8,297.0 247.2,297.5 247.6,297.2 248.0,297.2 248.4,297.1 248.8,297.1 249.2,297.0 249.6,297.6 250.0,296.9 250.4,297.0 250.8,297.6 251.2,298.1 251.6,297.8 252.0,297.7 252.4,298.5 252.8,297.8 253.2,297.5 253.6,297.9 254.0,298.2 254.4,297.7 254.8,298.3 255.2,297.9 255.6,298.2 256.0,298.3 256.4,297.4 256.8,298.7 257.2,298.5 257.6,298.5 258.0,298.5 258.4,298.4 258.8,299.0 259.2,298.6 259.6,298.9 260.0,298.0 260.4,299.4 260.8,298.8 261.2,298.9 261.6,298.6 262.0,298.7 262.4,299.1 262.8,297.8 263.2,299.3 263.6,298.6 264.0,298.5 264.4,298.9 264.8,299.6 265.2,299.1 265.6,299.5 266.0,298.7 266.4,298.9 266.8,299.4 267.2,298.7 267.6,298.2 268.0,298.9 268.4,299.0 268.8,299.0 269.2,299.4 269.6,299.4 270.0,298.9 270.4,299.3 270.8,299.1 271.2,299.3 271.6,299.0 272.0,299.5 272.4,299.3 272.8,299.9 273.2,298.9 273.6,299.9 274.0,299.1 274.4,299.5 274.8,299.0 275.2,299.1 275.6,299.6 276.0,298.7 276.4,299.7 276.8,300.1 277.2,299.7 277.6,298.9 278.0,299.7 278.4,299.5 278.8,299.6 279.2,299.5 279.6,299.9 280.0,300.1 280.4,299.7 280.8,300.0 281.2,299.3 281.6,300.3 282.0,299.1 282.4,299.1 282.8,299.4 283.2,299.9 283.6,300.1 284.0,299.2 284.4,299.9 284.8,300.1 285.2,300.9 285.6,299.8 286.0,299.5 286.4,299.4 286.8,300.0 287.2,300.2 287.6,300.2 288.0,300.0 288.4,299.8 288.8,300.1 289.2,300.2 289.6,301.1 290.0,300.2 290.4,299.8 290.8,300.0 291.2,300.1 291.6,299.4 292.0,300.1 292.4,300.1 292.8,300.1 293.2,299.7 293.6,300.1 294.0,300.3 294.4,300.4 294.8,300.2 295.2,299.7 295.6,300.4 296.0,300.7 296.4,300.1 296.8,299.3 297.2,300.5 297.6,300.5 298.0,300.2 298.4,300.0 298.8,300.7 299.2,300.5 299.6,300.3 300.0,300.2 300.4,300.4 300.8,300.7 301.2,300.3 301.6,299.8 302.0,300.0 302.4,300.3 302.8,300.5 303.2,300.1 303.6,300.6 304.0,300.1 304.4,300.7 304.8,300.9 305.2,300.6 305.6,300.3 306.0,300.5 306.4,299.6 306.8,300.9 307.2,300.0 307.6,300.0 308.0,300.2 308.4,300.0 308.8,300.4 309.2,300.3 309.6,300.4 310.0,300.8 310.4,300.4 310.8,300.1 311.2,300.1 311.6,299.9 312.0,300.4 312.4,299.7 312.8,299.9 313.2,300.6 313.6,299.9 314.0,300.1 314.4,300.2 314.8,299.3 315.2,299.9 315.6,300.2 316.0,299.9 316.4,300.1 316.8,299.6 317.2,299.8 317.6,299.7 318.0,299.9 318.4,299.5 318.8,299.8 319.2,300.2 319.6,299.8 320.0,300.3 320.4,300.7 320.8,300.3 321.2,300.3 321.6,300.6 322.0,300.0 322.4,300.2 322.8,300.1 323.2,300.2 323.6,301.1 324.0,300.3 324.4,300.6 324.8,300.4 325.2,300.4 325.6,300.4 326.0,300.4 326.4,300.5 326.8,300.3 327.2,300.5 327.6,300.3 328.0,300.3 328.4,300.3 328.8,301.0 329.2,300.0 329.6,300.4 330.0,300.7 330.4,300.7 330.8,300.0 331.2,299.9 331.6,300.3 332.0,300.6 332.4,300.5 332.8,300.2 333.2,300.2 333.6,300.2 334.0,300.3 334.4,299.9 334.8,299.9 335.2,300.3 335.6,300.9 336.0,300.4 336.4,299.8 336.8,300.1 337.2,300.4 337.6,300.1 338.0,300.5 338.4,300.1 338.8,300.1 339.2,299.9 339.6,300.5 340.0,300.5 340.4,300.6 340.8,300.7 341.2,300.4 341.6,300.8 342.0,300.0 342.4,300.7 342.8,300.3 343.2,300.2 343.6,300.1 344.0,300.5 344.4,300.4 344.8,300.6 345.2,299.9 345.6,300.3 346.0,299.9 346.4,300.4 346.8,300.7 347.2,299.8 347.6,300.5 348.0,299.8 348.4,300.6 348.8,300.2 349.2,300.2 349.6,299.6 350.0,300.6 350.4,300.0 350.8,299.9 351.2,300.3 351.6,299.7 352.0,299.9 352.4,299.9 352.8,299.7 353.2,300.3 353.6,300.6 354.0,299.6 354.4,300.5 354.8,300.2 355.2,299.7 355.6,300.0 356.0,300.5 356.4,299.6 356.8,299.7 357.2,299.5 357.6,300.5 358.0,300.2 358.4,299.5 358.8,299.7 359.2,300.0 359.6,299.7 360.0,300.3 360.4,300.0 360.8,300.4 361.2,300.1 361.6,300.0 362.0,299.7 362.4,300.0 362.8,300.1 363.2,299.3 363.6,300.1 364.0,300.3 364.4,300.2 364.8,300.0 365.2,299.7 365.6,299.4 366.0,299.5 366.4,299.6 366.8,299.4 367.2,299.9 367.6,299.7 368.0,299.6 368.4,300.0 368.8,299.7 369.2,299.7 369.6,298.9 370.0,299.7 370.4,299.3 370.8,300.1 371.2,299.1 371.6,299.3 372.0,299.8 372.4,300.3 372.8,299.1 373.2,299.5 373.6,299.4 374.0,300.1 374.4,300.2 374.8,299.6 375.2,299.8 375.6,299.2 376.0,299.0 376.4,299.6 376.8,299.3 377.2,299.7 377.6,299.3 378.0,299.9 378.4,299.3 378.8,299.4 379.2,299.7 379.6,299.5 380.0,299.9 380.4,299.2 380.8,299.1 381.2,299.7 381.6,299.6 382.0,299.2 382.4,299.0 382.8,299.2 383.2,299.4 383.6,299.4 384.0,299.0 384.4,299.1 384.8,299.5 385.2,299.7 385.6,299.9 386.0,299.1 386.4,298.9 386.8,299.4 387.2,299.1 387.6,299.5 388.0,299.5 388.4,299.1 388.8,299.1 389.2,298.6 389.6,298.6 390.0,299.4 390.4,299.7 390.8,298.5 391.2,298.5 391.6,298.8 392.0,299.2 392.4,298.3 392.8,298.9 393.2,299.3 393.6,298.0 394.0,298.4 394.4,299.0 394.8,299.2 395.2,298.5 395.6,299.0 396.0,299.0 396.4,298.1 396.8,298.5 397.2,298.4 397.6,298.6 398.0,298.7 398.4,298.3 398.8,298.0 399.2,298.1 399.6,298.1 400.0,298.5 400.4,298.9 400.8,298.5 401.2,298.4 401.6,298.4 402.0,298.8 402.4,298.6 402.8,298.6 403.2,298.3 403.6,298.5 404.0,298.4 404.4,298.8 404.8,298.5 405.2,299.0 405.6,298.7 406.0,298.6 406.4,297.9 406.8,298.4 407.2,298.2 407.6,298.8 408.0,298.6 408.4,298.6 408.8,298.4 409.2,298.9 409.6,297.8 410.0,298.7 410.4,298.3 410.8,298.0 411.2,298.1 411.6,298.4 412.0,298.5 412.4,298.9 412.8,298.3 413.2,298.2 413.6,298.7 414.0,298.7 414.4,298.0 414.8,298.1 415.2,298.4 415.6,298.2 416.0,298.4 416.4,297.9 416.8,297.9 417.2,299.1 417.6,298.5 418.0,298.7 418.4,298.3 418.8,297.9 419.2,298.6 419.6,298.7 420.0,298.1 420.4,298.0 420.8,298.3 421.2,298.0 421.6,297.5 422.0,298.3 422.4,298.4 422.8,297.5 423.2,298.7 423.6,297.8 424.0,297.8 424.4,298.1 424.8,298.4 425.2,298.4 425.6,297.8 426.0,298.5 426.4,298.6 426.8,298.3 427.2,297.8 427.6,298.2 428.0,298.4 428.4,299.0 428.8,298.6 429.2,298.9 429.6,299.8 430.0,298.9 430.4,298.8 430.8,299.1 431.2,299.3 431.6,299.4 432.0,298.9 432.4,298.5 432.8,298.2 433.2,298.6 433.6,298.9 434.0,298.6 434.4,298.5 434.8,298.8 435.2,298.8 435.6,298.8 436.0,299.5 436.4,299.3 436.8,298.5 437.2,299.3 437.6,298.9 438.0,298.6 438.4,298.7 438.8,299.9 439.2,299.0 439.6,298.7 440.0,298.9 440.4,299.2 440.8,299.0 441.2,298.9 441.6,298.6 442.0,298.8 442.4,298.5 442.8,299.1 443.2,299.3 443.6,299.2 444.0,299.0 444.4,299.6 444.8,299.3 445.2,299.4 445.6,298.8 446.0,299.0 446.4,299.1 446.8,299.7 447.2,299.2 447.6,299.1 448.0,299.2 448.4,299.9 448.8,299.3 449.2,299.2 449.6,299.6 450.0,299.5 450.4,300.0 450.8,299.9 451.2,299.6 451.6,299.4 452.0,299.5 452.4,300.1 452.8,299.7 453.2,299.8 453.6,298.7 454.0,299.2 454.4,299.6 454.8,299.8 455.2,299.8 455.6,299.7 456.0,299.1 456.4,299.8 456.8,299.4 457.2,298.8 457.6,299.4 458.0,299.5 458.4,299.7 458.8,300.0 459.2,299.8 459.6,299.7 460.0,299.6 460.4,299.8 460.8,299.4 461.2,300.1 461.6,299.9 462.0,300.3 462.4,300.1 462.8,299.8 463.2,299.9 463.6,300.0 464.0,300.0 464.4,299.2 464.8,299.7 465.2,300.8 465.6,300.2 466.0,300.6 466.4,300.0 466.8,299.6 467.2,300.1 467.6,300.1 468.0,300.0 468.4,300.7 468.8,300.8 469.2,300.1 469.6,301.1 470.0,300.6 470.4,299.8 470.8,300.6 471.2,300.3 471.6,300.2 472.0,299.6 472.4,300.3 472.8,299.9 473.2,300.8 473.6,299.7 474.0,299.5 474.4,300.2 474.8,299.6 475.2,300.6 475.6,299.8 476.0,300.4 476.4,299.8 476.8,299.9 477.2,300.1 477.6,299.9 478.0,300.4 478.4,300.0 478.8,300.8 479.2,300.7 479.6,299.9 480.0,301.2 480.4,300.6 480.8,300.2 481.2,300.7 481.6,300.7 482.0,301.0 482.4,301.1 482.8,301.2 483.2,300.4 483.6,300.9 484.0,300.5 484.4,300.2 484.8,300.5 485.2,300.4 485.6,300.9 486.0,300.7 486.4,300.9 486.8,300.7 487.2,300.8 487.6,300.8 488.0,300.4 488.4,300.6 488.8,300.5 489.2,300.4 489.6,300.3 490.0,300.7 490.4,300.8 490.8,301.2 491.2,300.6 491.6,300.7 492.0,300.2 492.4,300.5 492.8,301.0 493.2,301.3 493.6,300.8 494.0,301.3 494.4,301.3 494.8,301.4 495.2,300.9 495.6,300.4 496.0,300.7 496.4,301.1 496.8,300.5 497.2,300.7 497.6,300.4 498.0,300.4 498.4,300.2 498.8,301.2 499.2,300.5 499.6,300.7 500.0,300.8 500.4,300.6 500.8,300.3 501.2,300.4 501.6,300.3 502.0,300.7 502.4,300.4 502.8,301.0 503.2,300.5 503.6,300.9 504.0,300.4 504.4,300.1 504.8,300.5 505.2,301.0 505.6,301.0 506.0,301.1 506.4,300.6 506.8,300.5 507.2,300.7 507.6,300.7 508.0,301.0 508.4,301.2 508.8,301.2 509.2,300.6 509.6,301.4 510.0,300.2 510.4,300.8 510.8,300.7 511.2,300.9 511.6,300.7 512.0,301.2 512.4,300.5 512.8,301.0 513.2,300.5 513.6,300.9 514.0,301.0 514.4,301.3 514.8,300.5 515.2,300.2 515.6,301.5 516.0,300.6 516.4,300.8 516.8,300.8 517.2,301.3 517.6,301.0 518.0,301.2 518.4,301.2 518.8,300.9 519.2,300.7 519.6,301.3 520.0,301.1 520.4,300.9 520.8,300.3 521.2,300.7 521.6,301.1 522.0,300.9 522.4,301.3 522.8,301.8 523.2,301.0 523.6,301.1 524.0,301.2 524.4,301.5 524.8,300.1 525.2,300.8 525.6,301.5 526.0,301.0 526.4,300.4 526.8,301.1 527.2,300.4 527.6,301.3 528.0,301.2 528.4,300.8 528.8,300.4 529.2,301.0 529.6,300.7 530.0,300.8 530.4,300.6 530.8,300.8 531.2,300.6 531.6,301.3 532.0,301.3 532.4,300.6 532.8,300.4 533.2,301.1 533.6,301.2"/>
<polyline fill="none" stroke="#F36E78" stroke-width="0.9" stroke-linejoin="round" points="49.6,299.3 50.0,299.8 50.4,299.5 50.8,299.7 51.2,300.0 51.6,299.7 52.0,299.7 52.4,299.3 52.8,299.7 53.2,299.6 53.6,299.1 54.0,299.6 54.4,299.2 54.8,298.6 55.2,299.2 55.6,299.4 56.0,299.4 56.4,299.2 56.8,299.1 57.2,299.3 57.6,299.3 58.0,298.5 58.4,298.9 58.8,299.2 59.2,299.1 59.6,299.3 60.0,299.4 60.4,299.0 60.8,298.9 61.2,299.6 61.6,298.8 62.0,299.1 62.4,299.8 62.8,299.3 63.2,299.3 63.6,299.1 64.0,299.4 64.4,300.0 64.8,299.2 65.2,299.0 65.6,299.6 66.0,299.8 66.4,299.3 66.8,298.8 67.2,299.2 67.6,298.9 68.0,299.5 68.4,299.0 68.8,299.3 69.2,299.1 69.6,299.3 70.0,298.3 70.4,299.1 70.8,299.1 71.2,299.1 71.6,298.5 72.0,299.6 72.4,298.9 72.8,299.3 73.2,298.9 73.6,299.1 74.0,298.9 74.4,298.5 74.8,298.8 75.2,299.4 75.6,298.6 76.0,298.9 76.4,298.3 76.8,299.3 77.2,298.4 77.6,298.6 78.0,298.9 78.4,299.1 78.8,298.5 79.2,298.8 79.6,299.1 80.0,298.9 80.4,298.6 80.8,299.0 81.2,299.2 81.6,299.6 82.0,299.3 82.4,298.4 82.8,299.5 83.2,299.4 83.6,299.3 84.0,299.5 84.4,299.7 84.8,299.3 85.2,299.1 85.6,299.4 86.0,299.7 86.4,299.4 86.8,299.4 87.2,299.2 87.6,299.9 88.0,299.4 88.4,299.8 88.8,299.6 89.2,300.3 89.6,300.4 90.0,300.8 90.4,299.9 90.8,299.7 91.2,300.3 91.6,299.7 92.0,300.0 92.4,300.4 92.8,300.2 93.2,300.5 93.6,300.0 94.0,300.1 94.4,300.2 94.8,300.6 95.2,300.7 95.6,300.8 96.0,300.6 96.4,300.3 96.8,300.4 97.2,300.7 97.6,300.3 98.0,300.4 98.4,300.2 98.8,300.9 99.2,300.8 99.6,300.4 100.0,301.1 100.4,300.9 100.8,300.8 101.2,301.1 101.6,301.0 102.0,300.6 102.4,300.7 102.8,300.5 103.2,301.2 103.6,300.9 104.0,301.2 104.4,300.6 104.8,300.4 105.2,301.2 105.6,301.1 106.0,300.3 106.4,301.2 106.8,300.5 107.2,301.3 107.6,301.0 108.0,300.6 108.4,300.7 108.8,300.7 109.2,299.9 109.6,301.1 110.0,300.7 110.4,301.1 110.8,300.0 111.2,301.2 111.6,300.9 112.0,300.5 112.4,301.6 112.8,301.2 113.2,300.7 113.6,300.7 114.0,301.2 114.4,301.6 114.8,301.2 115.2,300.9 115.6,301.8 116.0,301.0 116.4,301.6 116.8,301.3 117.2,301.1 117.6,301.0 118.0,300.9 118.4,301.1 118.8,301.6 119.2,301.0 119.6,300.7 120.0,301.6 120.4,301.5 120.8,301.2 121.2,301.6 121.6,301.2 122.0,301.7 122.4,301.0 122.8,300.8 123.2,300.8 123.6,301.0 124.0,301.0 124.4,300.8 124.8,300.8 125.2,300.6 125.6,300.8 126.0,301.5 126.4,301.0 126.8,300.7 127.2,300.7 127.6,300.8 128.0,301.0 128.4,300.7 128.8,301.4 129.2,300.7 129.6,300.8 130.0,301.3 130.4,300.8 130.8,301.3 131.2,300.8 131.6,301.2 132.0,301.7 132.4,300.7 132.8,301.2 133.2,300.6 133.6,301.0 134.0,300.8 134.4,301.0 134.8,300.6 135.2,300.3 135.6,301.2 136.0,301.0 136.4,301.4 136.8,301.1 137.2,301.0 137.6,300.7 138.0,300.5 138.4,301.1 138.8,300.6 139.2,301.5 139.6,301.5 140.0,301.1 140.4,301.1 140.8,300.6 141.2,300.3 141.6,301.3 142.0,300.3 142.4,300.8 142.8,300.0 143.2,300.3 143.6,300.4 144.0,299.4 144.4,299.4 144.8,299.5 145.2,299.5 145.6,299.5 146.0,299.2 146.4,299.1 146.8,298.9 147.2,298.9 147.6,299.3 148.0,298.8 148.4,298.5 148.8,298.5 149.2,298.5 149.6,298.1 150.0,298.6 150.4,298.6 150.8,297.8 151.2,298.0 151.6,297.9 152.0,298.2 152.4,297.5 152.8,297.5 153.2,297.1 153.6,296.9 154.0,296.9 154.4,298.1 154.8,297.2 155.2,296.7 155.6,296.5 156.0,295.7 156.4,295.7 156.8,296.2 157.2,295.7 157.6,295.9 158.0,295.4 158.4,295.5 158.8,295.2 159.2,295.1 159.6,294.8 160.0,294.8 160.4,294.0 160.8,293.9 161.2,293.6 161.6,293.5 162.0,293.5 162.4,293.2 162.8,292.2 163.2,292.4 163.6,292.3 164.0,292.1 164.4,291.8 164.8,291.7 165.2,292.0 165.6,291.6 166.0,291.8 166.4,290.6 166.8,290.7 167.2,290.5 167.6,291.1 168.0,290.9 168.4,290.5 168.8,290.5 169.2,290.7 169.6,291.0 170.0,291.0 170.4,290.2 170.8,290.5 171.2,290.2 171.6,290.7 172.0,291.0 172.4,290.3 172.8,290.2 173.2,289.1 173.6,290.1 174.0,289.2 174.4,289.5 174.8,289.9 175.2,289.0 175.6,290.2 176.0,289.1 176.4,289.6 176.8,289.1 177.2,289.4 177.6,289.0 178.0,289.1 178.4,288.2 178.8,289.3 179.2,289.1 179.6,288.6 180.0,288.4 180.4,287.9 180.8,287.6 181.2,287.5 181.6,286.9 182.0,286.2 182.4,285.5 182.8,284.6 183.2,284.2 183.6,284.8 184.0,285.7 184.4,287.2 184.8,287.3 185.2,287.9 185.6,288.7 186.0,288.4 186.4,289.1 186.8,288.9 187.2,289.3 187.6,291.0 188.0,289.3 188.4,290.3 188.8,289.9 189.2,289.8 189.6,289.7 190.0,290.5 190.4,290.2 190.8,290.2 191.2,290.6 191.6,289.4 192.0,289.0 192.4,289.6 192.8,289.7 193.2,289.0 193.6,289.2 194.0,288.7 194.4,288.2 194.8,287.5 195.2,287.7 195.6,287.9 196.0,287.6 196.4,287.4 196.8,287.6 197.2,287.7 197.6,288.3 198.0,288.2 198.4,289.1 198.8,288.7 199.2,288.6 199.6,287.8 200.0,287.4 200.4,287.8 200.8,287.4 201.2,288.0 201.6,286.8 202.0,286.4 202.4,286.9 202.8,285.9 203.2,286.9 203.6,287.0 204.0,287.2 204.4,288.3 204.8,289.6 205.2,290.2 205.6,290.3 206.0,290.2 206.4,290.7 206.8,290.8 207.2,290.9 207.6,291.4 208.0,291.3 208.4,290.6 208.8,290.8 209.2,290.7 209.6,291.0 210.0,291.4 210.4,291.6 210.8,291.2 211.2,291.0 211.6,290.8 212.0,290.7 212.4,291.8 212.8,291.1 213.2,291.0 213.6,291.9 214.0,291.1 214.4,291.3 214.8,291.5 215.2,290.7 215.6,290.8 216.0,292.5 216.4,291.6 216.8,290.8 217.2,291.3 217.6,291.5 218.0,291.8 218.4,291.5 218.8,291.1 219.2,291.6 219.6,292.0 220.0,291.4 220.4,291.2 220.8,291.3 221.2,290.9 221.6,292.2 222.0,292.0 222.4,291.8 222.8,291.9 223.2,292.3 223.6,291.8 224.0,291.6 224.4,292.6 224.8,291.5 225.2,292.4 225.6,293.1 226.0,293.4 226.4,293.0 226.8,293.1 227.2,293.2 227.6,293.4 228.0,293.6 228.4,294.3 228.8,294.1 229.2,294.7 229.6,294.4 230.0,294.2 230.4,294.4 230.8,295.4 231.2,294.6 231.6,295.3 232.0,294.7 232.4,295.3 232.8,295.1 233.2,295.1 233.6,295.1 234.0,295.2 234.4,295.6 234.8,296.1 235.2,295.8 235.6,295.5 236.0,296.0 236.4,295.0 236.8,295.9 237.2,296.8 237.6,295.3 238.0,296.0 238.4,296.6 238.8,296.9 239.2,296.8 239.6,296.2 240.0,297.0 240.4,297.0 240.8,296.4 241.2,296.5 241.6,296.2 242.0,296.5 242.4,297.0 242.8,296.2 243.2,297.1 243.6,296.9 244.0,296.9 244.4,296.7 244.8,297.1 245.2,296.9 245.6,296.9 246.0,296.5 246.4,297.1 246.8,297.0 247.2,297.5 247.6,297.2 248.0,297.2 248.4,297.1 248.8,297.1 249.2,297.0 249.6,297.6 250.0,296.9 250.4,297.0 250.8,297.6 251.2,298.1 251.6,297.8 252.0,297.7 252.4,298.5 252.8,297.8 253.2,297.5 253.6,297.9 254.0,298.2 254.4,297.7 254.8,298.3 255.2,297.9 255.6,298.2 256.0,298.3 256.4,297.4 256.8,298.7 257.2,298.5 257.6,298.5 258.0,298.5 258.4,298.4 258.8,299.0 259.2,298.6 259.6,298.9 260.0,298.0 260.4,299.4 260.8,298.8 261.2,298.9 261.6,298.6 262.0,298.7 262.4,299.1 262.8,297.8 263.2,299.3 263.6,298.6 264.0,298.5 264.4,298.9 264.8,299.6 265.2,299.1 265.6,299.5 266.0,298.7 266.4,298.9 266.8,299.4 267.2,298.7 267.6,298.2 268.0,298.9 268.4,299.0 268.8,299.0 269.2,299.4 269.6,299.4 270.0,298.9 270.4,299.3 270.8,299.1 271.2,299.3 271.6,299.0 272.0,299.5 272.4,299.3 272.8,299.9 273.2,298.9 273.6,299.9 274.0,299.1 274.4,299.5 274.8,299.0 275.2,299.1 275.6,299.6 276.0,298.7 276.4,299.7 276.8,300.1 277.2,299.7 277.6,298.9 278.0,299.7 278.4,299.5 278.8,299.6 279.2,299.5 279.6,299.9 280.0,300.1 280.4,299.7 280.8,300.0 281.2,299.3 281.6,300.3 282.0,299.1 282.4,299.1 282.8,299.4 283.2,299.9 283.6,300.1 284.0,299.2 284.4,299.9 284.8,300.1 285.2,300.9 285.6,299.8 286.0,299.5 286.4,299.4 286.8,300.0 287.2,300.2 287.6,300.2 288.0,300.0 288.4,299.8 288.8,300.1 289.2,300.2 289.6,301.1 290.0,300.2 290.4,299.8 290.8,300.0 291.2,300.1 291.6,299.4 292.0,300.1 292.4,300.1 292.8,300.1 293.2,299.7 293.6,300.1 294.0,300.3 294.4,300.4 294.8,300.2 295.2,299.7 295.6,300.4 296.0,300.7 296.4,300.1 296.8,299.3 297.2,300.5 297.6,300.5 298.0,300.2 298.4,300.0 298.8,300.7 299.2,300.5 299.6,300.3 300.0,300.2 300.4,300.4 300.8,300.7 301.2,300.3 301.6,299.8 302.0,300.0 302.4,300.3 302.8,300.5 303.2,300.1 303.6,300.6 304.0,300.1 304.4,300.7 304.8,300.9 305.2,300.6 305.6,300.3 306.0,300.5 306.4,299.6 306.8,300.9 307.2,300.0 307.6,300.0 308.0,300.2 308.4,300.0 308.8,300.4 309.2,300.3 309.6,300.4 310.0,300.8 310.4,300.4 310.8,300.1 311.2,300.1 311.6,299.9 312.0,300.4 312.4,299.7 312.8,299.9 313.2,300.6 313.6,299.9 314.0,300.1 314.4,300.2 314.8,299.3 315.2,299.9 315.6,300.2 316.0,299.9 316.4,300.1 316.8,299.6 317.2,299.8 317.6,299.7 318.0,299.9 318.4,299.5 318.8,299.8 319.2,300.2 319.6,299.8 320.0,300.3 320.4,300.7 320.8,300.3 321.2,300.3 321.6,300.6 322.0,300.0 322.4,300.2 322.8,300.1 323.2,300.2 323.6,301.1 324.0,300.3 324.4,300.6 324.8,300.4 325.2,300.4 325.6,300.4 326.0,300.4 326.4,300.5 326.8,300.3 327.2,300.5 327.6,300.3 328.0,300.3 328.4,300.3 328.8,301.0 329.2,300.0 329.6,300.4 330.0,300.7 330.4,300.7 330.8,300.0 331.2,299.9 331.6,300.3 332.0,300.6 332.4,300.5 332.8,300.2 333.2,300.2 333.6,300.2 334.0,300.3 334.4,299.9 334.8,299.9 335.2,300.3 335.6,300.9 336.0,300.4 336.4,299.8 336.8,300.1 337.2,300.4 337.6,300.1 338.0,300.5 338.4,300.1 338.8,300.1 339.2,299.9 339.6,300.5 340.0,300.5 340.4,300.6 340.8,300.7 341.2,300.4 341.6,300.8 342.0,300.0 342.4,300.7 342.8,300.3 343.2,300.2 343.6,300.1 344.0,300.5 344.4,300.4 344.8,300.6 345.2,299.9 345.6,300.3 346.0,299.9 346.4,300.4 346.8,300.7 347.2,299.8 347.6,300.5 348.0,299.8 348.4,300.6 348.8,300.2 349.2,300.2 349.6,299.6 350.0,300.6 350.4,300.0 350.8,299.9 351.2,300.3 351.6,299.7 352.0,299.9 352.4,299.9 352.8,299.7 353.2,300.3 353.6,300.6 354.0,299.6 354.4,300.5 354.8,300.2 355.2,299.7 355.6,300.0 356.0,300.5 356.4,299.6 356.8,299.7 357.2,299.5 357.6,300.5 358.0,300.2 358.4,299.5 358.8,299.7 359.2,300.0 359.6,299.7 360.0,300.3 360.4,300.0 360.8,300.4 361.2,300.1 361.6,300.0 362.0,299.7 362.4,300.0 362.8,300.1 363.2,299.3 363.6,300.1 364.0,300.3 364.4,300.2 364.8,300.0 365.2,299.7 365.6,299.4 366.0,299.5 366.4,299.6 366.8,299.4 367.2,299.9 367.6,299.7 368.0,299.6 368.4,300.0 368.8,299.7 369.2,299.7 369.6,298.9 370.0,299.7 370.4,299.3 370.8,300.1 371.2,299.1 371.6,299.3 372.0,299.8 372.4,300.3 372.8,299.1 373.2,299.5 373.6,299.4 374.0,300.1 374.4,300.2 374.8,299.6 375.2,299.8 375.6,299.2 376.0,299.0 376.4,299.6 376.8,299.3 377.2,299.7 377.6,299.3 378.0,299.9 378.4,299.3 378.8,299.4 379.2,299.7 379.6,299.5 380.0,299.9 380.4,299.2 380.8,299.1 381.2,299.7 381.6,299.6 382.0,299.2 382.4,299.0 382.8,299.2 383.2,299.4 383.6,299.4 384.0,299.0 384.4,299.1 384.8,299.5 385.2,299.7 385.6,299.9 386.0,299.1 386.4,298.9 386.8,299.4 387.2,299.1 387.6,299.5 388.0,299.5 388.4,299.1 388.8,299.1 389.2,298.6 389.6,298.6 390.0,299.4 390.4,299.7 390.8,298.5 391.2,298.5 391.6,298.8 392.0,299.2 392.4,298.3 392.8,298.9 393.2,299.3 393.6,298.0 394.0,298.4 394.4,299.0 394.8,299.2 395.2,298.5 395.6,299.0 396.0,299.0 396.4,298.1 396.8,298.5 397.2,298.4 397.6,298.6 398.0,298.7 398.4,298.3 398.8,298.0 399.2,298.1 399.6,298.1 400.0,298.5 400.4,298.9 400.8,298.5 401.2,298.4 401.6,298.4 402.0,298.8 402.4,298.6 402.8,298.6 403.2,298.3 403.6,298.5 404.0,298.4 404.4,298.8 404.8,298.5 405.2,299.0 405.6,298.7 406.0,298.6 406.4,297.9 406.8,298.4 407.2,298.2 407.6,298.8 408.0,298.6 408.4,298.6 408.8,298.4 409.2,298.9 409.6,297.8 410.0,298.7 410.4,298.3 410.8,298.0 411.2,298.1 411.6,298.4 412.0,298.5 412.4,298.9 412.8,298.3 413.2,298.2 413.6,298.7 414.0,298.7 414.4,298.0 414.8,298.1 415.2,298.4 415.6,298.2 416.0,298.4 416.4,297.9 416.8,297.9 417.2,299.1 417.6,298.5 418.0,298.7 418.4,298.3 418.8,297.9 419.2,298.6 419.6,298.7 420.0,298.1 420.4,298.0 420.8,298.3 421.2,298.0 421.6,297.5 422.0,298.3 422.4,298.4 422.8,297.5 423.2,298.7 423.6,297.8 424.0,297.8 424.4,298.1 424.8,298.4 425.2,298.4 425.6,297.8 426.0,298.5 426.4,298.6 426.8,298.3 427.2,297.8 427.6,298.2 428.0,298.4 428.4,299.0 428.8,298.6 429.2,298.9 429.6,299.8 430.0,298.9 430.4,298.8 430.8,299.1 431.2,299.3 431.6,299.4 432.0,298.9 432.4,298.5 432.8,298.2 433.2,298.6 433.6,298.9 434.0,298.6 434.4,298.5 434.8,298.8 435.2,298.8 435.6,298.8 436.0,299.5 436.4,299.3 436.8,298.5 437.2,299.3 437.6,298.9 438.0,298.6 438.4,298.7 438.8,299.9 439.2,299.0 439.6,298.7 440.0,298.9 440.4,299.2 440.8,299.0 441.2,298.9 441.6,298.6 442.0,298.8 442.4,298.5 442.8,299.1 443.2,299.3 443.6,299.2 444.0,299.0 444.4,299.6 444.8,299.3 445.2,299.4 445.6,298.8 446.0,299.0 446.4,299.1 446.8,299.7 447.2,299.2 447.6,299.1 448.0,299.2 448.4,299.9 448.8,299.3 449.2,299.2 449.6,299.6 450.0,299.5 450.4,300.0 450.8,299.9 451.2,299.6 451.6,299.4 452.0,299.5 452.4,300.1 452.8,299.7 453.2,299.8 453.6,298.7 454.0,299.2 454.4,299.6 454.8,299.8 455.2,299.8 455.6,299.7 456.0,299.1 456.4,299.8 456.8,299.4 457.2,298.8 457.6,299.4 458.0,299.5 458.4,299.7 458.8,300.0 459.2,299.8 459.6,299.7 460.0,299.6 460.4,299.8 460.8,299.4 461.2,300.1 461.6,299.9 462.0,300.3 462.4,300.1 462.8,299.8 463.2,299.9 463.6,300.0 464.0,300.0 464.4,299.2 464.8,299.7 465.2,300.8 465.6,300.2 466.0,300.6 466.4,300.0 466.8,299.6 467.2,300.1 467.6,300.1 468.0,300.0 468.4,300.7 468.8,300.8 469.2,300.1 469.6,301.1 470.0,300.6 470.4,299.8 470.8,300.6 471.2,300.3 471.6,300.2 472.0,299.6 472.4,300.3 472.8,299.9 473.2,300.8 473.6,299.7 474.0,299.5 474.4,300.2 474.8,299.6 475.2,300.6 475.6,299.8 476.0,300.4 476.4,299.8 476.8,299.9 477.2,300.1 477.6,299.9 478.0,300.4 478.4,300.0 478.8,300.8 479.2,300.7 479.6,299.9 480.0,301.2 480.4,300.6 480.8,300.2 481.2,300.7 481.6,300.7 482.0,301.0 482.4,301.1 482.8,301.2 483.2,300.4 483.6,300.9 484.0,300.5 484.4,300.2 484.8,300.5 485.2,300.4 485.6,300.9 486.0,300.7 486.4,300.9 486.8,300.7 487.2,300.8 487.6,300.8 488.0,300.4 488.4,300.6 488.8,300.5 489.2,300.4 489.6,300.3 490.0,300.7 490.4,300.8 490.8,301.2 491.2,300.6 491.6,300.7 492.0,300.2 492.4,300.5 492.8,301.0 493.2,301.3 493.6,300.8 494.0,301.3 494.4,301.3 494.8,301.4 495.2,300.9 495.6,300.4 496.0,300.7 496.4,301.1 496.8,300.5 497.2,300.7 497.6,300.4 498.0,300.4 498.4,300.2 498.8,301.2 499.2,300.5 499.6,300.7 500.0,300.8 500.4,300.6 500.8,300.3 501.2,300.4 501.6,300.3 502.0,300.7 502.4,300.4 502.8,301.0 503.2,300.5 503.6,300.9 504.0,300.4 504.4,300.1 504.8,300.5 505.2,301.0 505.6,301.0 506.0,301.1 506.4,300.6 506.8,300.5 507.2,300.7 507.6,300.7 508.0,301.0 508.4,301.2 508.8,301.2 509.2,300.6 509.6,301.4 510.0,300.2 510.4,300.8 510.8,300.7 511.2,300.9 511.6,300.7 512.0,301.2 512.4,300.5 512.8,301.0 513.2,300.5 513.6,300.9 514.0,301.0 514.4,301.3 514.8,300.5 515.2,300.2 515.6,301.5 516.0,300.6 516.4,300.8 516.8,300.8 517.2,301.3 517.6,301.0 518.0,301.2 518.4,301.2 518.8,300.9 519.2,300.7 519.6,301.3 520.0,301.1 520.4,300.9 520.8,300.3 521.2,300.7 521.6,301.1 522.0,300.9 522.4,301.3 522.8,301.8 523.2,301.0 523.6,301.1 524.0,301.2 524.4,301.5 524.8,300.1 525.2,300.8 525.6,301.5 526.0,301.0 526.4,300.4 526.8,301.1 527.2,300.4 527.6,301.3 528.0,301.2 528.4,300.8 528.8,300.4 529.2,301.0 529.6,300.7 530.0,300.8 530.4,300.6 530.8,300.8 531.2,300.6 531.6,301.3 532.0,301.3 532.4,300.6 532.8,300.4 533.2,301.1 533.6,301.2"/>
<polyline fill="none" stroke="#3F95EE" stroke-opacity="0.22" stroke-width="2.3" stroke-linejoin="round" points="49.6,271.3 50.0,271.0 50.4,270.7 50.8,271.3 51.2,270.5 51.6,270.5 52.0,271.4 52.4,271.0 52.8,271.1 53.2,271.3 53.6,270.3 54.0,271.2 54.4,270.8 54.8,270.9 55.2,271.0 55.6,270.9 56.0,270.5 56.4,270.6 56.8,270.7 57.2,270.9 57.6,269.8 58.0,271.0 58.4,270.2 58.8,271.3 59.2,270.6 59.6,271.1 60.0,270.4 60.4,271.0 60.8,270.5 61.2,270.5 61.6,270.5 62.0,269.3 62.4,269.7 62.8,269.6 63.2,270.3 63.6,270.1 64.0,270.5 64.4,270.3 64.8,270.6 65.2,270.0 65.6,270.4 66.0,270.0 66.4,269.8 66.8,269.6 67.2,270.1 67.6,269.9 68.0,270.0 68.4,269.8 68.8,269.8 69.2,271.2 69.6,270.2 70.0,269.8 70.4,270.2 70.8,270.3 71.2,269.8 71.6,270.6 72.0,270.0 72.4,270.4 72.8,270.1 73.2,269.9 73.6,271.2 74.0,269.8 74.4,269.5 74.8,269.8 75.2,269.6 75.6,270.4 76.0,270.2 76.4,269.6 76.8,270.7 77.2,270.0 77.6,269.5 78.0,270.3 78.4,270.1 78.8,269.6 79.2,269.6 79.6,270.0 80.0,269.8 80.4,270.3 80.8,270.2 81.2,269.8 81.6,269.9 82.0,270.3 82.4,270.9 82.8,270.3 83.2,270.8 83.6,270.4 84.0,270.7 84.4,270.3 84.8,270.8 85.2,270.4 85.6,270.4 86.0,271.4 86.4,271.1 86.8,270.3 87.2,271.2 87.6,270.7 88.0,271.3 88.4,270.3 88.8,270.7 89.2,270.6 89.6,270.5 90.0,270.3 90.4,271.4 90.8,270.6 91.2,270.4 91.6,270.0 92.0,270.9 92.4,270.9 92.8,270.5 93.2,270.1 93.6,270.8 94.0,270.7 94.4,270.3 94.8,271.6 95.2,271.2 95.6,270.5 96.0,270.7 96.4,271.2 96.8,271.4 97.2,271.2 97.6,271.2 98.0,270.9 98.4,271.9 98.8,271.1 99.2,271.3 99.6,271.4 100.0,271.2 100.4,271.7 100.8,272.0 101.2,270.7 101.6,271.4 102.0,271.9 102.4,271.9 102.8,271.2 103.2,271.6 103.6,271.4 104.0,271.5 104.4,271.2 104.8,271.8 105.2,271.9 105.6,272.1 106.0,271.7 106.4,271.6 106.8,271.9 107.2,272.7 107.6,271.5 108.0,271.6 108.4,272.3 108.8,271.2 109.2,270.8 109.6,272.0 110.0,272.2 110.4,272.2 110.8,272.1 111.2,272.1 111.6,271.4 112.0,272.1 112.4,271.4 112.8,271.2 113.2,271.6 113.6,271.3 114.0,271.2 114.4,271.4 114.8,271.5 115.2,271.7 115.6,271.2 116.0,271.4 116.4,271.5 116.8,271.6 117.2,271.7 117.6,271.8 118.0,271.6 118.4,271.8 118.8,271.7 119.2,271.4 119.6,271.5 120.0,271.1 120.4,271.6 120.8,271.8 121.2,271.3 121.6,271.9 122.0,271.2 122.4,271.9 122.8,272.1 123.2,271.6 123.6,271.5 124.0,271.9 124.4,271.6 124.8,271.4 125.2,272.0 125.6,271.0 126.0,272.1 126.4,271.4 126.8,271.9 127.2,271.4 127.6,272.3 128.0,271.5 128.4,270.9 128.8,272.6 129.2,271.6 129.6,271.5 130.0,271.5 130.4,271.5 130.8,271.7 131.2,271.2 131.6,272.2 132.0,271.1 132.4,271.6 132.8,271.7 133.2,271.1 133.6,271.4 134.0,271.0 134.4,270.7 134.8,270.8 135.2,271.5 135.6,271.5 136.0,270.8 136.4,271.5 136.8,270.7 137.2,271.1 137.6,271.3 138.0,270.3 138.4,271.3 138.8,270.9 139.2,270.5 139.6,271.3 140.0,271.2 140.4,271.1 140.8,270.8 141.2,270.7 141.6,270.4 142.0,270.8 142.4,270.4 142.8,270.5 143.2,270.7 143.6,270.8 144.0,270.5 144.4,270.3 144.8,270.0 145.2,270.4 145.6,270.4 146.0,269.7 146.4,269.6 146.8,269.3 147.2,269.4 147.6,269.2 148.0,270.0 148.4,269.6 148.8,268.5 149.2,269.2 149.6,268.7 150.0,268.1 150.4,268.6 150.8,268.2 151.2,268.5 151.6,268.6 152.0,268.0 152.4,268.7 152.8,268.2 153.2,267.8 153.6,267.3 154.0,268.7 154.4,267.4 154.8,267.7 155.2,267.7 155.6,267.8 156.0,266.9 156.4,266.4 156.8,267.2 157.2,266.5 157.6,266.8 158.0,267.5 158.4,266.4 158.8,266.8 159.2,266.0 159.6,267.3 160.0,266.0 160.4,266.1 160.8,265.7 161.2,265.4 161.6,265.8 162.0,265.2 162.4,264.7 162.8,264.5 163.2,264.3 163.6,264.2 164.0,263.9 164.4,263.2 164.8,262.9 165.2,263.6 165.6,262.4 166.0,262.7 166.4,262.0 166.8,262.1 167.2,261.7 167.6,261.1 168.0,261.5 168.4,261.9 168.8,262.0 169.2,261.8 169.6,261.2 170.0,261.2 170.4,260.9 170.8,261.2 171.2,261.2 171.6,260.9 172.0,260.5 172.4,260.8 172.8,260.5 173.2,260.5 173.6,260.2 174.0,260.2 174.4,259.7 174.8,259.7 175.2,259.0 175.6,259.9 176.0,259.7 176.4,259.2 176.8,260.0 177.2,259.7 177.6,259.7 178.0,258.9 178.4,258.8 178.8,258.8 179.2,258.9 179.6,258.9 180.0,257.9 180.4,257.9 180.8,256.9 181.2,257.3 181.6,257.5 182.0,257.0 182.4,257.5 182.8,257.0 183.2,256.8 183.6,256.9 184.0,257.5 184.4,258.2 184.8,257.5 185.2,257.9 185.6,258.5 186.0,258.7 186.4,259.3 186.8,259.1 187.2,259.5 187.6,259.7 188.0,259.9 188.4,260.4 188.8,259.6 189.2,259.4 189.6,259.4 190.0,259.7 190.4,259.9 190.8,259.9 191.2,259.7 191.6,259.4 192.0,258.7 192.4,258.9 192.8,259.2 193.2,258.4 193.6,258.6 194.0,258.4 194.4,258.6 194.8,258.0 195.2,257.7 195.6,258.1 196.0,258.0 196.4,258.3 196.8,257.7 197.2,257.8 197.6,257.6 198.0,257.5 198.4,258.3 198.8,256.6 199.2,257.6 199.6,257.0 200.0,257.3 200.4,256.7 200.8,257.3 201.2,256.9 201.6,257.3 202.0,257.7 202.4,256.8 202.8,256.8 203.2,257.9 203.6,258.3 204.0,257.9 204.4,257.4 204.8,257.9 205.2,259.1 205.6,259.6 206.0,259.2 206.4,259.1 206.8,260.3 207.2,259.6 207.6,260.0 208.0,260.1 208.4,260.2 208.8,260.7 209.2,260.1 209.6,260.6 210.0,260.9 210.4,260.9 210.8,261.0 211.2,260.4 211.6,260.0 212.0,260.7 212.4,260.8 212.8,260.8 213.2,260.5 213.6,260.9 214.0,260.4 214.4,261.1 214.8,261.5 215.2,260.9 215.6,260.9 216.0,261.2 216.4,261.2 216.8,261.2 217.2,261.1 217.6,261.0 218.0,261.7 218.4,260.8 218.8,261.7 219.2,261.1 219.6,261.7 220.0,261.2 220.4,261.1 220.8,261.3 221.2,261.5 221.6,262.4 222.0,262.0 222.4,262.2 222.8,262.3 223.2,262.9 223.6,263.1 224.0,263.4 224.4,263.0 224.8,263.1 225.2,263.7 225.6,264.1 226.0,264.2 226.4,263.6 226.8,263.8 227.2,264.2 227.6,264.0 228.0,263.8 228.4,264.4 228.8,264.3 229.2,264.7 229.6,265.0 230.0,264.7 230.4,264.5 230.8,264.7 231.2,265.2 231.6,265.0 232.0,265.3 232.4,264.9 232.8,265.4 233.2,265.0 233.6,265.0 234.0,265.3 234.4,265.4 234.8,265.4 235.2,265.5 235.6,265.9 236.0,265.4 236.4,265.1 236.8,266.0 237.2,266.6 237.6,266.4 238.0,265.5 238.4,266.1 238.8,266.4 239.2,266.3 239.6,266.8 240.0,266.5 240.4,265.4 240.8,266.6 241.2,266.2 241.6,266.1 242.0,265.9 242.4,266.2 242.8,266.6 243.2,267.2 243.6,267.3 244.0,267.2 244.4,267.4 244.8,266.9 245.2,266.8 245.6,267.7 246.0,267.3 246.4,267.1 246.8,267.6 247.2,267.1 247.6,268.0 248.0,267.0 248.4,267.4 248.8,267.5 249.2,267.7 249.6,267.3 250.0,268.2 250.4,268.2 250.8,268.0 251.2,268.2 251.6,267.8 252.0,268.3 252.4,267.8 252.8,267.7 253.2,268.0 253.6,268.0 254.0,268.3 254.4,268.4 254.8,268.8 255.2,267.7 255.6,267.7 256.0,268.5 256.4,268.9 256.8,268.7 257.2,268.4 257.6,268.5 258.0,268.6 258.4,269.3 258.8,268.6 259.2,268.9 259.6,268.4 260.0,269.3 260.4,269.0 260.8,268.9 261.2,269.0 261.6,269.1 262.0,270.2 262.4,269.6 262.8,269.6 263.2,269.1 263.6,269.0 264.0,268.7 264.4,269.3 264.8,269.5 265.2,269.6 265.6,269.0 266.0,269.8 266.4,269.4 266.8,270.0 267.2,269.5 267.6,269.7 268.0,269.4 268.4,269.4 268.8,269.7 269.2,269.9 269.6,270.0 270.0,269.5 270.4,269.3 270.8,269.9 271.2,270.3 271.6,269.7 272.0,269.7 272.4,269.7 272.8,270.1 273.2,270.4 273.6,269.7 274.0,270.2 274.4,270.5 274.8,270.2 275.2,269.8 275.6,269.6 276.0,270.1 276.4,270.6 276.8,270.4 277.2,270.7 277.6,270.1 278.0,270.2 278.4,269.9 278.8,270.4 279.2,270.1 279.6,269.9 280.0,270.0 280.4,270.4 280.8,270.6 281.2,270.5 281.6,271.0 282.0,270.5 282.4,269.9 282.8,270.7 283.2,270.1 283.6,270.0 284.0,270.7 284.4,270.3 284.8,270.4 285.2,270.3 285.6,270.4 286.0,269.9 286.4,270.8 286.8,270.9 287.2,270.4 287.6,270.9 288.0,270.8 288.4,270.9 288.8,270.9 289.2,270.0 289.6,270.7 290.0,270.4 290.4,270.8 290.8,270.5 291.2,271.2 291.6,271.1 292.0,270.5 292.4,270.6 292.8,270.5 293.2,270.5 293.6,270.7 294.0,270.0 294.4,269.9 294.8,270.9 295.2,270.7 295.6,270.5 296.0,270.5 296.4,270.2 296.8,270.7 297.2,270.2 297.6,270.8 298.0,270.9 298.4,270.6 298.8,271.2 299.2,271.1 299.6,271.0 300.0,270.8 300.4,270.8 300.8,270.7 301.2,270.4 301.6,271.1 302.0,271.4 302.4,270.7 302.8,271.3 303.2,271.1 303.6,271.2 304.0,271.4 304.4,271.4 304.8,270.9 305.2,271.4 305.6,271.0 306.0,270.3 306.4,271.9 306.8,271.2 307.2,271.1 307.6,271.6 308.0,271.2 308.4,270.8 308.8,271.1 309.2,271.2 309.6,271.0 310.0,270.3 310.4,271.2 310.8,270.7 311.2,270.7 311.6,271.0 312.0,271.7 312.4,270.5 312.8,271.1 313.2,270.5 313.6,270.5 314.0,270.9 314.4,271.3 314.8,271.0 315.2,271.0 315.6,271.3 316.0,271.1 316.4,270.6 316.8,270.5 317.2,270.7 317.6,270.9 318.0,270.7 318.4,270.6 318.8,270.5 319.2,270.5 319.6,270.4 320.0,270.5 320.4,271.4 320.8,271.1 321.2,271.2 321.6,270.7 322.0,270.6 322.4,270.9 322.8,270.5 323.2,271.1 323.6,270.7 324.0,271.0 324.4,270.5 324.8,271.5 325.2,270.9 325.6,271.1 326.0,270.6 326.4,270.7 326.8,271.1 327.2,270.3 327.6,271.3 328.0,270.5 328.4,271.1 328.8,270.6 329.2,270.8 329.6,270.9 330.0,271.3 330.4,270.6 330.8,271.0 331.2,270.9 331.6,271.1 332.0,270.5 332.4,270.9 332.8,270.6 333.2,270.7 333.6,271.3 334.0,271.3 334.4,270.5 334.8,270.8 335.2,270.9 335.6,270.6 336.0,270.8 336.4,270.7 336.8,271.3 337.2,270.7 337.6,271.6 338.0,270.4 338.4,271.2 338.8,271.2 339.2,270.8 339.6,270.4 340.0,271.1 340.4,270.6 340.8,271.4 341.2,271.0 341.6,270.9 342.0,270.9 342.4,271.1 342.8,270.9 343.2,271.0 343.6,271.0 344.0,270.7 344.4,271.3 344.8,271.5 345.2,271.2 345.6,270.8 346.0,271.0 346.4,270.4 346.8,270.5 347.2,270.5 347.6,270.5 348.0,271.0 348.4,270.4 348.8,270.5 349.2,270.2 349.6,270.5 350.0,270.1 350.4,270.9 350.8,270.5 351.2,270.8 351.6,270.9 352.0,270.5 352.4,270.5 352.8,270.5 353.2,270.3 353.6,269.7 354.0,270.5 354.4,270.2 354.8,270.0 355.2,270.1 355.6,270.3 356.0,270.5 356.4,270.0 356.8,269.9 357.2,270.7 357.6,270.5 358.0,270.6 358.4,270.2 358.8,269.8 359.2,270.8 359.6,270.8 360.0,270.2 360.4,270.6 360.8,270.7 361.2,271.2 361.6,270.7 362.0,270.5 362.4,270.2 362.8,270.2 363.2,270.4 363.6,270.2 364.0,270.7 364.4,270.6 364.8,270.4 365.2,270.1 365.6,270.6 366.0,270.4 366.4,270.6 366.8,270.3 367.2,270.8 367.6,270.5 368.0,271.2 368.4,270.2 368.8,271.2 369.2,271.5 369.6,270.5 370.0,271.1 370.4,270.8 370.8,270.0 371.2,270.2 371.6,270.7 372.0,270.5 372.4,270.6 372.8,270.3 373.2,270.7 373.6,270.0 374.0,269.7 374.4,269.8 374.8,270.1 375.2,269.7 375.6,270.0 376.0,269.9 376.4,269.9 376.8,270.0 377.2,269.9 377.6,270.3 378.0,270.0 378.4,270.2 378.8,269.4 379.2,270.0 379.6,269.8 380.0,269.3 380.4,270.7 380.8,269.6 381.2,270.3 381.6,270.3 382.0,270.4 382.4,269.9 382.8,269.1 383.2,270.1 383.6,269.9 384.0,270.1 384.4,269.8 384.8,270.3 385.2,270.0 385.6,269.7 386.0,270.6 386.4,269.6 386.8,269.0 387.2,269.7 387.6,269.8 388.0,269.8 388.4,269.4 388.8,269.6 389.2,269.2 389.6,269.3 390.0,269.8 390.4,269.4 390.8,269.7 391.2,269.4 391.6,269.6 392.0,269.4 392.4,270.0 392.8,269.6 393.2,269.2 393.6,269.5 394.0,269.8 394.4,269.5 394.8,269.0 395.2,269.1 395.6,269.0 396.0,269.9 396.4,269.5 396.8,269.7 397.2,269.7 397.6,269.3 398.0,269.8 398.4,269.3 398.8,269.4 399.2,268.6 399.6,269.2 400.0,269.0 400.4,268.9 400.8,269.2 401.2,268.7 401.6,269.0 402.0,268.2 402.4,269.0 402.8,268.8 403.2,269.6 403.6,269.1 404.0,269.2 404.4,267.9 404.8,268.8 405.2,268.5 405.6,269.3 406.0,269.2 406.4,268.9 406.8,268.9 407.2,268.8 407.6,268.8 408.0,269.0 408.4,269.1 408.8,268.8 409.2,268.5 409.6,269.3 410.0,268.5 410.4,268.4 410.8,269.4 411.2,268.7 411.6,268.7 412.0,268.2 412.4,268.3 412.8,269.1 413.2,268.5 413.6,269.0 414.0,268.2 414.4,268.9 414.8,268.5 415.2,268.4 415.6,268.0 416.0,269.0 416.4,268.6 416.8,268.6 417.2,268.8 417.6,268.3 418.0,269.2 418.4,268.9 418.8,268.8 419.2,268.8 419.6,268.4 420.0,268.6 420.4,268.8 420.8,268.5 421.2,269.2 421.6,269.1 422.0,269.2 422.4,268.2 422.8,269.3 423.2,268.6 423.6,268.5 424.0,268.7 424.4,269.3 424.8,268.9 425.2,268.8 425.6,269.1 426.0,269.1 426.4,269.1 426.8,269.1 427.2,268.9 427.6,268.9 428.0,268.2 428.4,268.6 428.8,267.8 429.2,268.7 429.6,268.8 430.0,268.5 430.4,268.5 430.8,269.1 431.2,268.6 431.6,268.7 432.0,269.5 432.4,268.9 432.8,269.2 433.2,269.1 433.6,269.1 434.0,269.3 434.4,268.9 434.8,269.3 435.2,268.9 435.6,268.9 436.0,269.4 436.4,269.0 436.8,268.4 437.2,269.3 437.6,269.8 438.0,268.9 438.4,269.4 438.8,269.1 439.2,268.8 439.6,269.2 440.0,268.5 440.4,269.7 440.8,269.2 441.2,269.5 441.6,269.4 442.0,269.0 442.4,269.4 442.8,269.9 443.2,269.8 443.6,269.3 444.0,269.2 444.4,269.4 444.8,269.0 445.2,269.6 445.6,268.9 446.0,269.2 446.4,269.8 446.8,269.6 447.2,269.4 447.6,269.7 448.0,269.6 448.4,269.9 448.8,270.1 449.2,269.7 449.6,269.1 450.0,269.8 450.4,269.3 450.8,270.0 451.2,269.9 451.6,269.6 452.0,269.9 452.4,269.2 452.8,269.2 453.2,269.6 453.6,269.9 454.0,270.3 454.4,269.7 454.8,269.6 455.2,269.6 455.6,269.7 456.0,270.0 456.4,269.5 456.8,270.2 457.2,269.5 457.6,270.8 458.0,270.1 458.4,270.2 458.8,269.7 459.2,270.4 459.6,269.6 460.0,270.6 460.4,270.0 460.8,270.4 461.2,270.5 461.6,270.7 462.0,270.8 462.4,270.7 462.8,270.5 463.2,270.1 463.6,269.9 464.0,270.5 464.4,270.4 464.8,270.1 465.2,270.3 465.6,270.6 466.0,270.6 466.4,270.0 466.8,269.8 467.2,269.5 467.6,270.0 468.0,270.1 468.4,269.8 468.8,270.7 469.2,271.0 469.6,270.1 470.0,270.6 470.4,270.4 470.8,270.6 471.2,270.4 471.6,270.4 472.0,270.7 472.4,270.5 472.8,270.1 473.2,270.5 473.6,270.0 474.0,270.2 474.4,270.4 474.8,270.3 475.2,269.7 475.6,270.4 476.0,269.8 476.4,270.3 476.8,270.4 477.2,269.6 477.6,269.8 478.0,270.4 478.4,270.2 478.8,269.4 479.2,270.4 479.6,270.0 480.0,269.7 480.4,270.2 480.8,270.0 481.2,270.2 481.6,270.3 482.0,271.2 482.4,270.7 482.8,270.5 483.2,270.5 483.6,270.6 484.0,270.8 484.4,270.4 484.8,270.8 485.2,270.4 485.6,270.5 486.0,270.6 486.4,271.0 486.8,270.9 487.2,269.7 487.6,271.0 488.0,270.6 488.4,270.6 488.8,271.1 489.2,270.3 489.6,270.2 490.0,269.8 490.4,270.1 490.8,270.8 491.2,270.2 491.6,270.1 492.0,270.6 492.4,270.1 492.8,270.2 493.2,270.2 493.6,270.6 494.0,270.2 494.4,270.2 494.8,270.4 495.2,269.8 495.6,270.3 496.0,269.9 496.4,270.1 496.8,270.3 497.2,270.6 497.6,270.5 498.0,270.9 498.4,270.6 498.8,270.8 499.2,270.4 499.6,270.4 500.0,271.2 500.4,270.0 500.8,271.0 501.2,270.4 501.6,270.8 502.0,270.1 502.4,270.8 502.8,270.8 503.2,270.0 503.6,270.5 504.0,271.0 504.4,271.1 504.8,270.9 505.2,270.7 505.6,270.8 506.0,270.4 506.4,270.6 506.8,271.1 507.2,271.1 507.6,271.3 508.0,271.2 508.4,271.3 508.8,271.1 509.2,271.2 509.6,271.8 510.0,270.7 510.4,271.0 510.8,270.8 511.2,271.2 511.6,271.2 512.0,270.7 512.4,271.0 512.8,271.1 513.2,271.0 513.6,271.1 514.0,271.5 514.4,271.2 514.8,270.9 515.2,271.1 515.6,271.6 516.0,270.7 516.4,271.3 516.8,270.7 517.2,270.4 517.6,270.7 518.0,271.1 518.4,270.9 518.8,270.7 519.2,270.7 519.6,270.5 520.0,270.5 520.4,270.6 520.8,270.0 521.2,271.0 521.6,270.9 522.0,270.9 522.4,271.1 522.8,270.6 523.2,270.8 523.6,269.9 524.0,270.9 524.4,270.6 524.8,271.0 525.2,271.1 525.6,270.7 526.0,270.4 526.4,270.9 526.8,271.0 527.2,271.1 527.6,270.6 528.0,270.5 528.4,270.8 528.8,270.5 529.2,270.1 529.6,270.9 530.0,270.8 530.4,270.9 530.8,270.4 531.2,270.7 531.6,270.3 532.0,270.2 532.4,270.9 532.8,270.1 533.2,270.6 533.6,271.5"/>
<polyline fill="none" stroke="#3F95EE" stroke-width="0.9" stroke-linejoin="round" points="49.6,271.3 50.0,271.0 50.4,270.7 50.8,271.3 51.2,270.5 51.6,270.5 52.0,271.4 52.4,271.0 52.8,271.1 53.2,271.3 53.6,270.3 54.0,271.2 54.4,270.8 54.8,270.9 55.2,271.0 55.6,270.9 56.0,270.5 56.4,270.6 56.8,270.7 57.2,270.9 57.6,269.8 58.0,271.0 58.4,270.2 58.8,271.3 59.2,270.6 59.6,271.1 60.0,270.4 60.4,271.0 60.8,270.5 61.2,270.5 61.6,270.5 62.0,269.3 62.4,269.7 62.8,269.6 63.2,270.3 63.6,270.1 64.0,270.5 64.4,270.3 64.8,270.6 65.2,270.0 65.6,270.4 66.0,270.0 66.4,269.8 66.8,269.6 67.2,270.1 67.6,269.9 68.0,270.0 68.4,269.8 68.8,269.8 69.2,271.2 69.6,270.2 70.0,269.8 70.4,270.2 70.8,270.3 71.2,269.8 71.6,270.6 72.0,270.0 72.4,270.4 72.8,270.1 73.2,269.9 73.6,271.2 74.0,269.8 74.4,269.5 74.8,269.8 75.2,269.6 75.6,270.4 76.0,270.2 76.4,269.6 76.8,270.7 77.2,270.0 77.6,269.5 78.0,270.3 78.4,270.1 78.8,269.6 79.2,269.6 79.6,270.0 80.0,269.8 80.4,270.3 80.8,270.2 81.2,269.8 81.6,269.9 82.0,270.3 82.4,270.9 82.8,270.3 83.2,270.8 83.6,270.4 84.0,270.7 84.4,270.3 84.8,270.8 85.2,270.4 85.6,270.4 86.0,271.4 86.4,271.1 86.8,270.3 87.2,271.2 87.6,270.7 88.0,271.3 88.4,270.3 88.8,270.7 89.2,270.6 89.6,270.5 90.0,270.3 90.4,271.4 90.8,270.6 91.2,270.4 91.6,270.0 92.0,270.9 92.4,270.9 92.8,270.5 93.2,270.1 93.6,270.8 94.0,270.7 94.4,270.3 94.8,271.6 95.2,271.2 95.6,270.5 96.0,270.7 96.4,271.2 96.8,271.4 97.2,271.2 97.6,271.2 98.0,270.9 98.4,271.9 98.8,271.1 99.2,271.3 99.6,271.4 100.0,271.2 100.4,271.7 100.8,272.0 101.2,270.7 101.6,271.4 102.0,271.9 102.4,271.9 102.8,271.2 103.2,271.6 103.6,271.4 104.0,271.5 104.4,271.2 104.8,271.8 105.2,271.9 105.6,272.1 106.0,271.7 106.4,271.6 106.8,271.9 107.2,272.7 107.6,271.5 108.0,271.6 108.4,272.3 108.8,271.2 109.2,270.8 109.6,272.0 110.0,272.2 110.4,272.2 110.8,272.1 111.2,272.1 111.6,271.4 112.0,272.1 112.4,271.4 112.8,271.2 113.2,271.6 113.6,271.3 114.0,271.2 114.4,271.4 114.8,271.5 115.2,271.7 115.6,271.2 116.0,271.4 116.4,271.5 116.8,271.6 117.2,271.7 117.6,271.8 118.0,271.6 118.4,271.8 118.8,271.7 119.2,271.4 119.6,271.5 120.0,271.1 120.4,271.6 120.8,271.8 121.2,271.3 121.6,271.9 122.0,271.2 122.4,271.9 122.8,272.1 123.2,271.6 123.6,271.5 124.0,271.9 124.4,271.6 124.8,271.4 125.2,272.0 125.6,271.0 126.0,272.1 126.4,271.4 126.8,271.9 127.2,271.4 127.6,272.3 128.0,271.5 128.4,270.9 128.8,272.6 129.2,271.6 129.6,271.5 130.0,271.5 130.4,271.5 130.8,271.7 131.2,271.2 131.6,272.2 132.0,271.1 132.4,271.6 132.8,271.7 133.2,271.1 133.6,271.4 134.0,271.0 134.4,270.7 134.8,270.8 135.2,271.5 135.6,271.5 136.0,270.8 136.4,271.5 136.8,270.7 137.2,271.1 137.6,271.3 138.0,270.3 138.4,271.3 138.8,270.9 139.2,270.5 139.6,271.3 140.0,271.2 140.4,271.1 140.8,270.8 141.2,270.7 141.6,270.4 142.0,270.8 142.4,270.4 142.8,270.5 143.2,270.7 143.6,270.8 144.0,270.5 144.4,270.3 144.8,270.0 145.2,270.4 145.6,270.4 146.0,269.7 146.4,269.6 146.8,269.3 147.2,269.4 147.6,269.2 148.0,270.0 148.4,269.6 148.8,268.5 149.2,269.2 149.6,268.7 150.0,268.1 150.4,268.6 150.8,268.2 151.2,268.5 151.6,268.6 152.0,268.0 152.4,268.7 152.8,268.2 153.2,267.8 153.6,267.3 154.0,268.7 154.4,267.4 154.8,267.7 155.2,267.7 155.6,267.8 156.0,266.9 156.4,266.4 156.8,267.2 157.2,266.5 157.6,266.8 158.0,267.5 158.4,266.4 158.8,266.8 159.2,266.0 159.6,267.3 160.0,266.0 160.4,266.1 160.8,265.7 161.2,265.4 161.6,265.8 162.0,265.2 162.4,264.7 162.8,264.5 163.2,264.3 163.6,264.2 164.0,263.9 164.4,263.2 164.8,262.9 165.2,263.6 165.6,262.4 166.0,262.7 166.4,262.0 166.8,262.1 167.2,261.7 167.6,261.1 168.0,261.5 168.4,261.9 168.8,262.0 169.2,261.8 169.6,261.2 170.0,261.2 170.4,260.9 170.8,261.2 171.2,261.2 171.6,260.9 172.0,260.5 172.4,260.8 172.8,260.5 173.2,260.5 173.6,260.2 174.0,260.2 174.4,259.7 174.8,259.7 175.2,259.0 175.6,259.9 176.0,259.7 176.4,259.2 176.8,260.0 177.2,259.7 177.6,259.7 178.0,258.9 178.4,258.8 178.8,258.8 179.2,258.9 179.6,258.9 180.0,257.9 180.4,257.9 180.8,256.9 181.2,257.3 181.6,257.5 182.0,257.0 182.4,257.5 182.8,257.0 183.2,256.8 183.6,256.9 184.0,257.5 184.4,258.2 184.8,257.5 185.2,257.9 185.6,258.5 186.0,258.7 186.4,259.3 186.8,259.1 187.2,259.5 187.6,259.7 188.0,259.9 188.4,260.4 188.8,259.6 189.2,259.4 189.6,259.4 190.0,259.7 190.4,259.9 190.8,259.9 191.2,259.7 191.6,259.4 192.0,258.7 192.4,258.9 192.8,259.2 193.2,258.4 193.6,258.6 194.0,258.4 194.4,258.6 194.8,258.0 195.2,257.7 195.6,258.1 196.0,258.0 196.4,258.3 196.8,257.7 197.2,257.8 197.6,257.6 198.0,257.5 198.4,258.3 198.8,256.6 199.2,257.6 199.6,257.0 200.0,257.3 200.4,256.7 200.8,257.3 201.2,256.9 201.6,257.3 202.0,257.7 202.4,256.8 202.8,256.8 203.2,257.9 203.6,258.3 204.0,257.9 204.4,257.4 204.8,257.9 205.2,259.1 205.6,259.6 206.0,259.2 206.4,259.1 206.8,260.3 207.2,259.6 207.6,260.0 208.0,260.1 208.4,260.2 208.8,260.7 209.2,260.1 209.6,260.6 210.0,260.9 210.4,260.9 210.8,261.0 211.2,260.4 211.6,260.0 212.0,260.7 212.4,260.8 212.8,260.8 213.2,260.5 213.6,260.9 214.0,260.4 214.4,261.1 214.8,261.5 215.2,260.9 215.6,260.9 216.0,261.2 216.4,261.2 216.8,261.2 217.2,261.1 217.6,261.0 218.0,261.7 218.4,260.8 218.8,261.7 219.2,261.1 219.6,261.7 220.0,261.2 220.4,261.1 220.8,261.3 221.2,261.5 221.6,262.4 222.0,262.0 222.4,262.2 222.8,262.3 223.2,262.9 223.6,263.1 224.0,263.4 224.4,263.0 224.8,263.1 225.2,263.7 225.6,264.1 226.0,264.2 226.4,263.6 226.8,263.8 227.2,264.2 227.6,264.0 228.0,263.8 228.4,264.4 228.8,264.3 229.2,264.7 229.6,265.0 230.0,264.7 230.4,264.5 230.8,264.7 231.2,265.2 231.6,265.0 232.0,265.3 232.4,264.9 232.8,265.4 233.2,265.0 233.6,265.0 234.0,265.3 234.4,265.4 234.8,265.4 235.2,265.5 235.6,265.9 236.0,265.4 236.4,265.1 236.8,266.0 237.2,266.6 237.6,266.4 238.0,265.5 238.4,266.1 238.8,266.4 239.2,266.3 239.6,266.8 240.0,266.5 240.4,265.4 240.8,266.6 241.2,266.2 241.6,266.1 242.0,265.9 242.4,266.2 242.8,266.6 243.2,267.2 243.6,267.3 244.0,267.2 244.4,267.4 244.8,266.9 245.2,266.8 245.6,267.7 246.0,267.3 246.4,267.1 246.8,267.6 247.2,267.1 247.6,268.0 248.0,267.0 248.4,267.4 248.8,267.5 249.2,267.7 249.6,267.3 250.0,268.2 250.4,268.2 250.8,268.0 251.2,268.2 251.6,267.8 252.0,268.3 252.4,267.8 252.8,267.7 253.2,268.0 253.6,268.0 254.0,268.3 254.4,268.4 254.8,268.8 255.2,267.7 255.6,267.7 256.0,268.5 256.4,268.9 256.8,268.7 257.2,268.4 257.6,268.5 258.0,268.6 258.4,269.3 258.8,268.6 259.2,268.9 259.6,268.4 260.0,269.3 260.4,269.0 260.8,268.9 261.2,269.0 261.6,269.1 262.0,270.2 262.4,269.6 262.8,269.6 263.2,269.1 263.6,269.0 264.0,268.7 264.4,269.3 264.8,269.5 265.2,269.6 265.6,269.0 266.0,269.8 266.4,269.4 266.8,270.0 267.2,269.5 267.6,269.7 268.0,269.4 268.4,269.4 268.8,269.7 269.2,269.9 269.6,270.0 270.0,269.5 270.4,269.3 270.8,269.9 271.2,270.3 271.6,269.7 272.0,269.7 272.4,269.7 272.8,270.1 273.2,270.4 273.6,269.7 274.0,270.2 274.4,270.5 274.8,270.2 275.2,269.8 275.6,269.6 276.0,270.1 276.4,270.6 276.8,270.4 277.2,270.7 277.6,270.1 278.0,270.2 278.4,269.9 278.8,270.4 279.2,270.1 279.6,269.9 280.0,270.0 280.4,270.4 280.8,270.6 281.2,270.5 281.6,271.0 282.0,270.5 282.4,269.9 282.8,270.7 283.2,270.1 283.6,270.0 284.0,270.7 284.4,270.3 284.8,270.4 285.2,270.3 285.6,270.4 286.0,269.9 286.4,270.8 286.8,270.9 287.2,270.4 287.6,270.9 288.0,270.8 288.4,270.9 288.8,270.9 289.2,270.0 289.6,270.7 290.0,270.4 290.4,270.8 290.8,270.5 291.2,271.2 291.6,271.1 292.0,270.5 292.4,270.6 292.8,270.5 293.2,270.5 293.6,270.7 294.0,270.0 294.4,269.9 294.8,270.9 295.2,270.7 295.6,270.5 296.0,270.5 296.4,270.2 296.8,270.7 297.2,270.2 297.6,270.8 298.0,270.9 298.4,270.6 298.8,271.2 299.2,271.1 299.6,271.0 300.0,270.8 300.4,270.8 300.8,270.7 301.2,270.4 301.6,271.1 302.0,271.4 302.4,270.7 302.8,271.3 303.2,271.1 303.6,271.2 304.0,271.4 304.4,271.4 304.8,270.9 305.2,271.4 305.6,271.0 306.0,270.3 306.4,271.9 306.8,271.2 307.2,271.1 307.6,271.6 308.0,271.2 308.4,270.8 308.8,271.1 309.2,271.2 309.6,271.0 310.0,270.3 310.4,271.2 310.8,270.7 311.2,270.7 311.6,271.0 312.0,271.7 312.4,270.5 312.8,271.1 313.2,270.5 313.6,270.5 314.0,270.9 314.4,271.3 314.8,271.0 315.2,271.0 315.6,271.3 316.0,271.1 316.4,270.6 316.8,270.5 317.2,270.7 317.6,270.9 318.0,270.7 318.4,270.6 318.8,270.5 319.2,270.5 319.6,270.4 320.0,270.5 320.4,271.4 320.8,271.1 321.2,271.2 321.6,270.7 322.0,270.6 322.4,270.9 322.8,270.5 323.2,271.1 323.6,270.7 324.0,271.0 324.4,270.5 324.8,271.5 325.2,270.9 325.6,271.1 326.0,270.6 326.4,270.7 326.8,271.1 327.2,270.3 327.6,271.3 328.0,270.5 328.4,271.1 328.8,270.6 329.2,270.8 329.6,270.9 330.0,271.3 330.4,270.6 330.8,271.0 331.2,270.9 331.6,271.1 332.0,270.5 332.4,270.9 332.8,270.6 333.2,270.7 333.6,271.3 334.0,271.3 334.4,270.5 334.8,270.8 335.2,270.9 335.6,270.6 336.0,270.8 336.4,270.7 336.8,271.3 337.2,270.7 337.6,271.6 338.0,270.4 338.4,271.2 338.8,271.2 339.2,270.8 339.6,270.4 340.0,271.1 340.4,270.6 340.8,271.4 341.2,271.0 341.6,270.9 342.0,270.9 342.4,271.1 342.8,270.9 343.2,271.0 343.6,271.0 344.0,270.7 344.4,271.3 344.8,271.5 345.2,271.2 345.6,270.8 346.0,271.0 346.4,270.4 346.8,270.5 347.2,270.5 347.6,270.5 348.0,271.0 348.4,270.4 348.8,270.5 349.2,270.2 349.6,270.5 350.0,270.1 350.4,270.9 350.8,270.5 351.2,270.8 351.6,270.9 352.0,270.5 352.4,270.5 352.8,270.5 353.2,270.3 353.6,269.7 354.0,270.5 354.4,270.2 354.8,270.0 355.2,270.1 355.6,270.3 356.0,270.5 356.4,270.0 356.8,269.9 357.2,270.7 357.6,270.5 358.0,270.6 358.4,270.2 358.8,269.8 359.2,270.8 359.6,270.8 360.0,270.2 360.4,270.6 360.8,270.7 361.2,271.2 361.6,270.7 362.0,270.5 362.4,270.2 362.8,270.2 363.2,270.4 363.6,270.2 364.0,270.7 364.4,270.6 364.8,270.4 365.2,270.1 365.6,270.6 366.0,270.4 366.4,270.6 366.8,270.3 367.2,270.8 367.6,270.5 368.0,271.2 368.4,270.2 368.8,271.2 369.2,271.5 369.6,270.5 370.0,271.1 370.4,270.8 370.8,270.0 371.2,270.2 371.6,270.7 372.0,270.5 372.4,270.6 372.8,270.3 373.2,270.7 373.6,270.0 374.0,269.7 374.4,269.8 374.8,270.1 375.2,269.7 375.6,270.0 376.0,269.9 376.4,269.9 376.8,270.0 377.2,269.9 377.6,270.3 378.0,270.0 378.4,270.2 378.8,269.4 379.2,270.0 379.6,269.8 380.0,269.3 380.4,270.7 380.8,269.6 381.2,270.3 381.6,270.3 382.0,270.4 382.4,269.9 382.8,269.1 383.2,270.1 383.6,269.9 384.0,270.1 384.4,269.8 384.8,270.3 385.2,270.0 385.6,269.7 386.0,270.6 386.4,269.6 386.8,269.0 387.2,269.7 387.6,269.8 388.0,269.8 388.4,269.4 388.8,269.6 389.2,269.2 389.6,269.3 390.0,269.8 390.4,269.4 390.8,269.7 391.2,269.4 391.6,269.6 392.0,269.4 392.4,270.0 392.8,269.6 393.2,269.2 393.6,269.5 394.0,269.8 394.4,269.5 394.8,269.0 395.2,269.1 395.6,269.0 396.0,269.9 396.4,269.5 396.8,269.7 397.2,269.7 397.6,269.3 398.0,269.8 398.4,269.3 398.8,269.4 399.2,268.6 399.6,269.2 400.0,269.0 400.4,268.9 400.8,269.2 401.2,268.7 401.6,269.0 402.0,268.2 402.4,269.0 402.8,268.8 403.2,269.6 403.6,269.1 404.0,269.2 404.4,267.9 404.8,268.8 405.2,268.5 405.6,269.3 406.0,269.2 406.4,268.9 406.8,268.9 407.2,268.8 407.6,268.8 408.0,269.0 408.4,269.1 408.8,268.8 409.2,268.5 409.6,269.3 410.0,268.5 410.4,268.4 410.8,269.4 411.2,268.7 411.6,268.7 412.0,268.2 412.4,268.3 412.8,269.1 413.2,268.5 413.6,269.0 414.0,268.2 414.4,268.9 414.8,268.5 415.2,268.4 415.6,268.0 416.0,269.0 416.4,268.6 416.8,268.6 417.2,268.8 417.6,268.3 418.0,269.2 418.4,268.9 418.8,268.8 419.2,268.8 419.6,268.4 420.0,268.6 420.4,268.8 420.8,268.5 421.2,269.2 421.6,269.1 422.0,269.2 422.4,268.2 422.8,269.3 423.2,268.6 423.6,268.5 424.0,268.7 424.4,269.3 424.8,268.9 425.2,268.8 425.6,269.1 426.0,269.1 426.4,269.1 426.8,269.1 427.2,268.9 427.6,268.9 428.0,268.2 428.4,268.6 428.8,267.8 429.2,268.7 429.6,268.8 430.0,268.5 430.4,268.5 430.8,269.1 431.2,268.6 431.6,268.7 432.0,269.5 432.4,268.9 432.8,269.2 433.2,269.1 433.6,269.1 434.0,269.3 434.4,268.9 434.8,269.3 435.2,268.9 435.6,268.9 436.0,269.4 436.4,269.0 436.8,268.4 437.2,269.3 437.6,269.8 438.0,268.9 438.4,269.4 438.8,269.1 439.2,268.8 439.6,269.2 440.0,268.5 440.4,269.7 440.8,269.2 441.2,269.5 441.6,269.4 442.0,269.0 442.4,269.4 442.8,269.9 443.2,269.8 443.6,269.3 444.0,269.2 444.4,269.4 444.8,269.0 445.2,269.6 445.6,268.9 446.0,269.2 446.4,269.8 446.8,269.6 447.2,269.4 447.6,269.7 448.0,269.6 448.4,269.9 448.8,270.1 449.2,269.7 449.6,269.1 450.0,269.8 450.4,269.3 450.8,270.0 451.2,269.9 451.6,269.6 452.0,269.9 452.4,269.2 452.8,269.2 453.2,269.6 453.6,269.9 454.0,270.3 454.4,269.7 454.8,269.6 455.2,269.6 455.6,269.7 456.0,270.0 456.4,269.5 456.8,270.2 457.2,269.5 457.6,270.8 458.0,270.1 458.4,270.2 458.8,269.7 459.2,270.4 459.6,269.6 460.0,270.6 460.4,270.0 460.8,270.4 461.2,270.5 461.6,270.7 462.0,270.8 462.4,270.7 462.8,270.5 463.2,270.1 463.6,269.9 464.0,270.5 464.4,270.4 464.8,270.1 465.2,270.3 465.6,270.6 466.0,270.6 466.4,270.0 466.8,269.8 467.2,269.5 467.6,270.0 468.0,270.1 468.4,269.8 468.8,270.7 469.2,271.0 469.6,270.1 470.0,270.6 470.4,270.4 470.8,270.6 471.2,270.4 471.6,270.4 472.0,270.7 472.4,270.5 472.8,270.1 473.2,270.5 473.6,270.0 474.0,270.2 474.4,270.4 474.8,270.3 475.2,269.7 475.6,270.4 476.0,269.8 476.4,270.3 476.8,270.4 477.2,269.6 477.6,269.8 478.0,270.4 478.4,270.2 478.8,269.4 479.2,270.4 479.6,270.0 480.0,269.7 480.4,270.2 480.8,270.0 481.2,270.2 481.6,270.3 482.0,271.2 482.4,270.7 482.8,270.5 483.2,270.5 483.6,270.6 484.0,270.8 484.4,270.4 484.8,270.8 485.2,270.4 485.6,270.5 486.0,270.6 486.4,271.0 486.8,270.9 487.2,269.7 487.6,271.0 488.0,270.6 488.4,270.6 488.8,271.1 489.2,270.3 489.6,270.2 490.0,269.8 490.4,270.1 490.8,270.8 491.2,270.2 491.6,270.1 492.0,270.6 492.4,270.1 492.8,270.2 493.2,270.2 493.6,270.6 494.0,270.2 494.4,270.2 494.8,270.4 495.2,269.8 495.6,270.3 496.0,269.9 496.4,270.1 496.8,270.3 497.2,270.6 497.6,270.5 498.0,270.9 498.4,270.6 498.8,270.8 499.2,270.4 499.6,270.4 500.0,271.2 500.4,270.0 500.8,271.0 501.2,270.4 501.6,270.8 502.0,270.1 502.4,270.8 502.8,270.8 503.2,270.0 503.6,270.5 504.0,271.0 504.4,271.1 504.8,270.9 505.2,270.7 505.6,270.8 506.0,270.4 506.4,270.6 506.8,271.1 507.2,271.1 507.6,271.3 508.0,271.2 508.4,271.3 508.8,271.1 509.2,271.2 509.6,271.8 510.0,270.7 510.4,271.0 510.8,270.8 511.2,271.2 511.6,271.2 512.0,270.7 512.4,271.0 512.8,271.1 513.2,271.0 513.6,271.1 514.0,271.5 514.4,271.2 514.8,270.9 515.2,271.1 515.6,271.6 516.0,270.7 516.4,271.3 516.8,270.7 517.2,270.4 517.6,270.7 518.0,271.1 518.4,270.9 518.8,270.7 519.2,270.7 519.6,270.5 520.0,270.5 520.4,270.6 520.8,270.0 521.2,271.0 521.6,270.9 522.0,270.9 522.4,271.1 522.8,270.6 523.2,270.8 523.6,269.9 524.0,270.9 524.4,270.6 524.8,271.0 525.2,271.1 525.6,270.7 526.0,270.4 526.4,270.9 526.8,271.0 527.2,271.1 527.6,270.6 528.0,270.5 528.4,270.8 528.8,270.5 529.2,270.1 529.6,270.9 530.0,270.8 530.4,270.9 530.8,270.4 531.2,270.7 531.6,270.3 532.0,270.2 532.4,270.9 532.8,270.1 533.2,270.6 533.6,271.5"/>
<polyline fill="none" stroke="#34C393" stroke-opacity="0.22" stroke-width="2.3" stroke-linejoin="round" points="49.6,244.0 50.0,243.8 50.4,244.0 50.8,243.2 51.2,243.8 51.6,243.2 52.0,243.1 52.4,243.8 52.8,243.2 53.2,243.4 53.6,243.7 54.0,243.0 54.4,243.5 54.8,243.9 55.2,243.0 55.6,243.4 56.0,243.3 56.4,242.5 56.8,242.5 57.2,242.9 57.6,242.2 58.0,242.9 58.4,242.9 58.8,243.0 59.2,243.0 59.6,243.3 60.0,242.8 60.4,243.4 60.8,243.1 61.2,243.2 61.6,242.9 62.0,243.3 62.4,242.6 62.8,243.2 63.2,243.5 63.6,242.8 64.0,242.6 64.4,242.7 64.8,243.1 65.2,243.3 65.6,243.4 66.0,243.8 66.4,243.7 66.8,243.2 67.2,242.9 67.6,242.7 68.0,243.4 68.4,243.2 68.8,242.8 69.2,242.8 69.6,242.7 70.0,241.8 70.4,242.8 70.8,242.9 71.2,242.8 71.6,242.4 72.0,242.9 72.4,243.1 72.8,243.5 73.2,243.1 73.6,242.9 74.0,242.8 74.4,242.3 74.8,242.7 75.2,242.4 75.6,242.9 76.0,243.3 76.4,243.3 76.8,243.3 77.2,243.0 77.6,243.4 78.0,243.1 78.4,242.6 78.8,243.3 79.2,243.4 79.6,242.8 80.0,243.3 80.4,242.7 80.8,243.5 81.2,244.1 81.6,243.6 82.0,244.3 82.4,243.9 82.8,243.6 83.2,243.3 83.6,244.2 84.0,244.2 84.4,243.6 84.8,243.9 85.2,244.5 85.6,243.9 86.0,244.3 86.4,243.5 86.8,243.8 87.2,244.3 87.6,243.6 88.0,243.6 88.4,243.7 88.8,244.0 89.2,243.5 89.6,244.1 90.0,244.3 90.4,244.8 90.8,244.1 91.2,244.8 91.6,244.4 92.0,244.2 92.4,244.4 92.8,244.8 93.2,244.8 93.6,244.6 94.0,244.4 94.4,244.7 94.8,244.5 95.2,244.6 95.6,244.7 96.0,245.3 96.4,244.2 96.8,244.5 97.2,244.2 97.6,245.0 98.0,245.1 98.4,245.2 98.8,244.6 99.2,244.7 99.6,244.9 100.0,244.7 100.4,244.8 100.8,244.7 101.2,244.8 101.6,244.6 102.0,244.9 102.4,244.1 102.8,244.5 103.2,244.2 103.6,244.6 104.0,244.4 104.4,244.8 104.8,245.1 105.2,244.3 105.6,244.5 106.0,244.9 106.4,245.3 106.8,245.0 107.2,244.9 107.6,244.9 108.0,244.8 108.4,245.1 108.8,245.2 109.2,245.1 109.6,244.8 110.0,244.5 110.4,244.7 110.8,244.9 111.2,244.5 111.6,245.0 112.0,244.4 112.4,244.9 112.8,245.2 113.2,245.4 113.6,245.2 114.0,245.5 114.4,244.9 114.8,244.8 115.2,245.5 115.6,244.8 116.0,245.0 116.4,244.5 116.8,245.5 117.2,245.3 117.6,244.8 118.0,244.4 118.4,245.1 118.8,245.1 119.2,245.4 119.6,245.7 120.0,245.1 120.4,244.9 120.8,244.8 121.2,244.8 121.6,244.4 122.0,244.5 122.4,244.8 122.8,244.1 123.2,244.3 123.6,245.1 124.0,244.5 124.4,245.0 124.8,245.0 125.2,244.7 125.6,245.0 126.0,244.6 126.4,244.4 126.8,244.7 127.2,244.7 127.6,244.7 128.0,244.7 128.4,244.5 128.8,245.0 129.2,244.6 129.6,244.5 130.0,244.9 130.4,244.2 130.8,244.6 131.2,245.2 131.6,244.7 132.0,245.2 132.4,244.6 132.8,244.4 133.2,244.6 133.6,244.3 134.0,244.3 134.4,244.3 134.8,244.7 135.2,244.5 135.6,244.2 136.0,244.1 136.4,245.5 136.8,244.2 137.2,244.7 137.6,243.7 138.0,243.9 138.4,244.5 138.8,243.7 139.2,243.7 139.6,243.9 140.0,243.6 140.4,243.8 140.8,244.0 141.2,244.2 141.6,243.9 142.0,243.9 142.4,244.2 142.8,244.2 143.2,243.6 143.6,243.0 144.0,243.3 144.4,244.0 144.8,243.3 145.2,243.2 145.6,243.4 146.0,244.0 146.4,243.5 146.8,243.3 147.2,243.1 147.6,242.9 148.0,244.3 148.4,243.2 148.8,243.2 149.2,243.0 149.6,243.4 150.0,242.6 150.4,242.2 150.8,242.4 151.2,242.6 151.6,243.2 152.0,242.2 152.4,241.7 152.8,241.8 153.2,241.6 153.6,241.4 154.0,241.5 154.4,241.3 154.8,240.7 155.2,241.2 155.6,240.6 156.0,240.5 156.4,240.0 156.8,240.1 157.2,239.9 157.6,239.8 158.0,239.1 158.4,239.4 158.8,238.9 159.2,239.0 159.6,239.1 160.0,239.1 160.4,238.3 160.8,237.8 161.2,238.0 161.6,238.0 162.0,237.3 162.4,238.1 162.8,236.4 163.2,237.4 163.6,237.1 164.0,236.8 164.4,236.0 164.8,236.7 165.2,236.5 165.6,236.4 166.0,235.8 166.4,235.6 166.8,236.0 167.2,235.4 167.6,235.1 168.0,234.8 168.4,235.1 168.8,234.4 169.2,235.0 169.6,234.8 170.0,234.2 170.4,234.9 170.8,235.0 171.2,234.5 171.6,233.9 172.0,234.0 172.4,234.4 172.8,233.5 173.2,233.6 173.6,234.1 174.0,233.5 174.4,233.3 174.8,233.8 175.2,234.1 175.6,233.6 176.0,233.0 176.4,232.8 176.8,233.2 177.2,232.6 177.6,233.1 178.0,233.5 178.4,232.1 178.8,232.9 179.2,233.0 179.6,232.6 180.0,232.7 180.4,232.5 180.8,232.4 181.2,232.5 181.6,231.0 182.0,229.6 182.4,228.3 182.8,227.2 183.2,227.7 183.6,228.2 184.0,229.4 184.4,230.4 184.8,231.8 185.2,232.3 185.6,232.8 186.0,232.6 186.4,233.0 186.8,232.9 187.2,233.3 187.6,233.7 188.0,233.4 188.4,233.8 188.8,234.9 189.2,234.2 189.6,233.8 190.0,233.9 190.4,234.3 190.8,234.6 191.2,234.1 191.6,234.2 192.0,233.7 192.4,232.9 192.8,233.3 193.2,232.4 193.6,232.9 194.0,231.7 194.4,231.5 194.8,231.2 195.2,231.0 195.6,231.2 196.0,230.9 196.4,231.3 196.8,231.1 197.2,231.7 197.6,231.5 198.0,232.3 198.4,232.6 198.8,232.2 199.2,233.1 199.6,232.6 200.0,232.1 200.4,231.5 200.8,231.1 201.2,230.8 201.6,230.6 202.0,229.8 202.4,230.1 202.8,229.9 203.2,230.9 203.6,231.3 204.0,232.4 204.4,233.5 204.8,233.6 205.2,234.8 205.6,234.4 206.0,234.5 206.4,234.0 206.8,234.4 207.2,235.0 207.6,234.6 208.0,234.4 208.4,234.6 208.8,234.4 209.2,234.4 209.6,234.2 210.0,235.1 210.4,235.2 210.8,234.7 211.2,234.3 211.6,234.8 212.0,235.6 212.4,234.5 212.8,234.9 213.2,235.0 213.6,235.4 214.0,234.5 214.4,235.2 214.8,234.8 215.2,235.1 215.6,234.8 216.0,235.6 216.4,235.2 216.8,235.3 217.2,235.9 217.6,235.6 218.0,236.2 218.4,235.7 218.8,235.5 219.2,235.6 219.6,236.5 220.0,236.0 220.4,235.5 220.8,235.7 221.2,235.5 221.6,236.0 222.0,235.8 222.4,236.0 222.8,236.6 223.2,237.1 223.6,237.0 224.0,237.2 224.4,237.1 224.8,236.5 225.2,237.4 225.6,237.5 226.0,237.9 226.4,238.6 226.8,238.3 227.2,237.5 227.6,238.3 228.0,238.4 228.4,238.8 228.8,238.7 229.2,238.2 229.6,238.7 230.0,239.0 230.4,238.5 230.8,239.3 231.2,239.3 231.6,239.9 232.0,239.6 232.4,239.5 232.8,239.7 233.2,239.8 233.6,240.3 234.0,239.7 234.4,239.2 234.8,241.1 235.2,240.4 235.6,240.2 236.0,241.1 236.4,239.9 236.8,240.0 237.2,240.2 237.6,240.5 238.0,240.2 238.4,240.6 238.8,240.2 239.2,240.8 239.6,240.5 240.0,239.8 240.4,240.4 240.8,240.1 241.2,240.5 241.6,240.6 242.0,241.3 242.4,240.5 242.8,240.0 243.2,240.7 243.6,240.3 244.0,241.5 244.4,241.1 244.8,241.4 245.2,240.8 245.6,240.6 246.0,241.1 246.4,240.7 246.8,240.9 247.2,241.0 247.6,241.2 248.0,240.8 248.4,240.5 248.8,241.8 249.2,241.0 249.6,241.1 250.0,241.5 250.4,241.6 250.8,241.2 251.2,241.3 251.6,242.0 252.0,241.9 252.4,241.7 252.8,242.2 253.2,240.9 253.6,241.7 254.0,241.6 254.4,241.0 254.8,241.9 255.2,242.1 255.6,242.0 256.0,241.3 256.4,241.9 256.8,242.2 257.2,242.0 257.6,242.4 258.0,242.5 258.4,242.7 258.8,242.3 259.2,243.3 259.6,242.5 260.0,242.6 260.4,242.7 260.8,242.5 261.2,242.3 261.6,242.9 262.0,241.7 262.4,241.8 262.8,243.1 263.2,242.6 263.6,242.5 264.0,242.4 264.4,242.4 264.8,242.0 265.2,242.2 265.6,241.9 266.0,242.7 266.4,242.5 266.8,242.5 267.2,242.6 267.6,242.3 268.0,241.9 268.4,243.0 268.8,242.6 269.2,242.3 269.6,242.7 270.0,243.0 270.4,243.0 270.8,242.9 271.2,243.0 271.6,242.5 272.0,243.1 272.4,243.0 272.8,243.1 273.2,242.2 273.6,242.9 274.0,242.9 274.4,242.9 274.8,241.7 275.2,242.0 275.6,242.8 276.0,242.4 276.4,242.9 276.8,242.7 277.2,243.1 277.6,242.6 278.0,242.4 278.4,242.9 278.8,242.7 279.2,242.4 279.6,242.1 280.0,244.0 280.4,242.8 280.8,242.9 281.2,242.3 281.6,242.7 282.0,243.0 282.4,243.2 282.8,243.4 283.2,242.8 283.6,243.3 284.0,243.5 284.4,243.0 284.8,243.1 285.2,242.6 285.6,242.9 286.0,242.7 286.4,243.5 286.8,243.3 287.2,243.9 287.6,243.4 288.0,243.7 288.4,243.7 288.8,243.5 289.2,243.1 289.6,244.1 290.0,243.5 290.4,242.9 290.8,243.3 291.2,243.1 291.6,244.0 292.0,244.1 292.4,244.3 292.8,244.5 293.2,243.5 293.6,243.1 294.0,243.4 294.4,243.9 294.8,242.8 295.2,243.6 295.6,244.2 296.0,243.6 296.4,243.8 296.8,243.5 297.2,244.5 297.6,244.6 298.0,243.5 298.4,243.5 298.8,243.9 299.2,244.2 299.6,244.1 300.0,244.1 300.4,244.2 300.8,244.2 301.2,244.5 301.6,243.9 302.0,243.7 302.4,243.8 302.8,244.6 303.2,244.2 303.6,244.1 304.0,244.3 304.4,244.3 304.8,244.7 305.2,243.5 305.6,243.9 306.0,244.1 306.4,244.2 306.8,243.7 307.2,243.3 307.6,243.8 308.0,243.7 308.4,244.0 308.8,244.6 309.2,244.4 309.6,243.8 310.0,243.9 310.4,244.2 310.8,244.6 311.2,244.1 311.6,244.2 312.0,243.6 312.4,244.0 312.8,244.0 313.2,244.3 313.6,244.2 314.0,243.9 314.4,243.9 314.8,244.4 315.2,244.1 315.6,244.8 316.0,244.5 316.4,244.3 316.8,244.6 317.2,243.9 317.6,244.6 318.0,244.0 318.4,244.6 318.8,244.1 319.2,244.1 319.6,243.8 320.0,244.5 320.4,244.6 320.8,243.9 321.2,245.0 321.6,244.3 322.0,244.0 322.4,245.1 322.8,244.1 323.2,244.8 323.6,243.3 324.0,245.0 324.4,244.3 324.8,244.2 325.2,244.4 325.6,243.8 326.0,244.5 326.4,244.3 326.8,244.3 327.2,244.0 327.6,243.8 328.0,244.3 328.4,244.5 328.8,244.3 329.2,244.2 329.6,244.1 330.0,244.6 330.4,244.9 330.8,244.3 331.2,244.1 331.6,245.3 332.0,243.8 332.4,244.5 332.8,244.4 333.2,244.9 333.6,244.4 334.0,243.8 334.4,244.1 334.8,244.5 335.2,244.5 335.6,244.2 336.0,244.1 336.4,243.8 336.8,243.8 337.2,244.1 337.6,244.0 338.0,244.2 338.4,243.8 338.8,244.7 339.2,243.5 339.6,244.4 340.0,244.3 340.4,244.8 340.8,244.6 341.2,243.5 341.6,244.2 342.0,244.3 342.4,244.3 342.8,244.2 343.2,243.8 343.6,244.5 344.0,244.0 344.4,243.9 344.8,244.0 345.2,243.9 345.6,243.8 346.0,244.2 346.4,245.0 346.8,244.2 347.2,244.1 347.6,243.9 348.0,244.2 348.4,243.6 348.8,244.1 349.2,244.1 349.6,244.1 350.0,244.2 350.4,243.9 350.8,244.4 351.2,244.3 351.6,244.2 352.0,244.0 352.4,244.3 352.8,244.0 353.2,244.6 353.6,244.0 354.0,244.5 354.4,244.1 354.8,244.0 355.2,243.6 355.6,244.2 356.0,244.2 356.4,244.1 356.8,244.2 357.2,244.1 357.6,243.7 358.0,243.6 358.4,244.3 358.8,244.1 359.2,244.5 359.6,244.7 360.0,244.2 360.4,244.1 360.8,244.0 361.2,243.8 361.6,243.5 362.0,242.8 362.4,244.1 362.8,244.0 363.2,243.8 363.6,243.8 364.0,244.1 364.4,244.1 364.8,243.8 365.2,243.6 365.6,243.9 366.0,244.0 366.4,244.5 366.8,243.3 367.2,243.7 367.6,243.2 368.0,243.4 368.4,244.4 368.8,243.4 369.2,243.6 369.6,243.5 370.0,243.9 370.4,243.4 370.8,242.9 371.2,243.6 371.6,243.9 372.0,243.5 372.4,243.5 372.8,243.1 373.2,243.1 373.6,243.4 374.0,243.0 374.4,243.2 374.8,243.0 375.2,243.3 375.6,243.7 376.0,243.3 376.4,243.8 376.8,243.5 377.2,243.4 377.6,243.0 378.0,243.5 378.4,243.0 378.8,243.7 379.2,243.0 379.6,242.9 380.0,243.1 380.4,242.8 380.8,243.6 381.2,243.2 381.6,243.3 382.0,243.6 382.4,242.6 382.8,243.4 383.2,243.6 383.6,243.9 384.0,243.5 384.4,243.2 384.8,243.8 385.2,243.8 385.6,244.1 386.0,244.1 386.4,243.2 386.8,243.7 387.2,243.2 387.6,242.8 388.0,243.4 388.4,243.6 388.8,242.4 389.2,243.6 389.6,242.9 390.0,243.8 390.4,243.3 390.8,243.3 391.2,243.7 391.6,243.1 392.0,243.9 392.4,242.8 392.8,242.9 393.2,242.7 393.6,243.3 394.0,243.1 394.4,243.3 394.8,243.4 395.2,243.3 395.6,243.5 396.0,243.4 396.4,243.0 396.8,242.7 397.2,242.5 397.6,243.0 398.0,242.5 398.4,242.3 398.8,242.3 399.2,242.5 399.6,242.6 400.0,242.3 400.4,241.9 400.8,242.4 401.2,241.4 401.6,242.1 402.0,242.5 402.4,242.2 402.8,242.5 403.2,242.1 403.6,242.3 404.0,242.0 404.4,241.8 404.8,242.0 405.2,242.2 405.6,241.2 406.0,241.6 406.4,241.1 406.8,241.5 407.2,241.4 407.6,241.7 408.0,241.7 408.4,242.3 408.8,242.3 409.2,241.6 409.6,241.7 410.0,242.0 410.4,241.5 410.8,241.6 411.2,241.0 411.6,242.0 412.0,241.8 412.4,241.4 412.8,241.3 413.2,241.4 413.6,241.9 414.0,241.5 414.4,241.3 414.8,241.6 415.2,241.9 415.6,242.1 416.0,242.1 416.4,241.7 416.8,241.7 417.2,241.7 417.6,241.9 418.0,241.8 418.4,241.2 418.8,241.3 419.2,241.4 419.6,241.8 420.0,241.3 420.4,241.2 420.8,241.8 421.2,242.1 421.6,241.3 422.0,241.6 422.4,242.1 422.8,241.5 423.2,242.1 423.6,241.3 424.0,241.7 424.4,242.0 424.8,242.3 425.2,242.2 425.6,241.2 426.0,241.2 426.4,241.5 426.8,242.2 427.2,242.3 427.6,242.4 428.0,242.3 428.4,241.9 428.8,242.1 429.2,241.9 429.6,242.5 430.0,241.8 430.4,242.2 430.8,242.3 431.2,242.6 431.6,241.9 432.0,242.3 432.4,241.8 432.8,242.6 433.2,242.1 433.6,242.2 434.0,242.0 434.4,242.2 434.8,242.2 435.2,242.2 435.6,242.8 436.0,242.0 436.4,242.5 436.8,242.8 437.2,242.0 437.6,241.6 438.0,242.6 438.4,241.9 438.8,242.2 439.2,242.5 439.6,242.6 440.0,242.4 440.4,242.2 440.8,242.8 441.2,242.6 441.6,243.2 442.0,242.2 442.4,242.5 442.8,242.5 443.2,242.7 443.6,242.6 444.0,242.6 444.4,243.2 444.8,242.5 445.2,242.7 445.6,242.6 446.0,242.4 446.4,242.9 446.8,241.9 447.2,243.0 447.6,242.1 448.0,242.6 448.4,242.9 448.8,242.8 449.2,242.7 449.6,243.4 450.0,243.8 450.4,243.3 450.8,243.1 451.2,242.9 451.6,242.8 452.0,243.6 452.4,243.6 452.8,243.7 453.2,243.6 453.6,243.7 454.0,243.1 454.4,243.0 454.8,242.9 455.2,243.3 455.6,243.2 456.0,243.3 456.4,242.8 456.8,243.3 457.2,243.5 457.6,243.3 458.0,242.4 458.4,243.3 458.8,243.2 459.2,243.6 459.6,243.2 460.0,243.4 460.4,243.1 460.8,243.3 461.2,243.6 461.6,243.2 462.0,243.4 462.4,243.3 462.8,243.4 463.2,243.2 463.6,243.4 464.0,242.6 464.4,243.2 464.8,243.7 465.2,243.6 465.6,243.0 466.0,243.1 466.4,243.5 466.8,243.4 467.2,243.4 467.6,243.4 468.0,243.3 468.4,243.7 468.8,243.0 469.2,242.9 469.6,243.7 470.0,243.1 470.4,243.5 470.8,243.1 471.2,243.0 471.6,243.9 472.0,243.4 472.4,243.0 472.8,243.4 473.2,243.3 473.6,243.4 474.0,243.6 474.4,243.0 474.8,243.4 475.2,243.7 475.6,243.8 476.0,243.6 476.4,243.4 476.8,243.0 477.2,244.2 477.6,243.3 478.0,243.5 478.4,243.8 478.8,243.9 479.2,243.7 479.6,243.5 480.0,243.7 480.4,244.4 480.8,244.5 481.2,243.6 481.6,244.0 482.0,243.2 482.4,243.8 482.8,244.1 483.2,243.7 483.6,244.5 484.0,244.2 484.4,244.1 484.8,243.1 485.2,243.8 485.6,244.2 486.0,243.7 486.4,243.3 486.8,243.8 487.2,244.6 487.6,244.2 488.0,244.3 488.4,244.1 488.8,244.6 489.2,243.1 489.6,243.7 490.0,244.8 490.4,244.5 490.8,244.3 491.2,244.1 491.6,243.5 492.0,244.1 492.4,244.1 492.8,243.8 493.2,244.5 493.6,244.5 494.0,244.1 494.4,244.5 494.8,244.1 495.2,244.2 495.6,243.9 496.0,245.0 496.4,243.6 496.8,244.1 497.2,244.4 497.6,244.4 498.0,243.5 498.4,243.8 498.8,244.1 499.2,243.8 499.6,243.8 500.0,243.9 500.4,243.9 500.8,244.4 501.2,243.4 501.6,244.4 502.0,243.9 502.4,244.2 502.8,243.8 503.2,244.8 503.6,243.5 504.0,244.5 504.4,244.0 504.8,244.1 505.2,244.7 505.6,244.1 506.0,244.5 506.4,244.6 506.8,243.9 507.2,244.8 507.6,244.6 508.0,244.1 508.4,244.2 508.8,244.0 509.2,244.4 509.6,244.6 510.0,244.6 510.4,244.3 510.8,244.0 511.2,244.0 511.6,243.8 512.0,244.0 512.4,244.4 512.8,243.9 513.2,243.8 513.6,243.7 514.0,244.3 514.4,244.1 514.8,243.7 515.2,244.6 515.6,244.6 516.0,244.2 516.4,244.2 516.8,244.2 517.2,243.9 517.6,244.6 518.0,244.8 518.4,244.7 518.8,244.5 519.2,244.5 519.6,244.6 520.0,244.9 520.4,244.1 520.8,244.3 521.2,244.0 521.6,243.8 522.0,244.4 522.4,244.6 522.8,243.9 523.2,244.6 523.6,244.5 524.0,244.4 524.4,244.6 524.8,243.9 525.2,244.8 525.6,244.0 526.0,244.3 526.4,243.6 526.8,244.5 527.2,244.1 527.6,244.0 528.0,243.8 528.4,244.4 528.8,244.8 529.2,244.5 529.6,244.2 530.0,244.1 530.4,244.1 530.8,244.3 531.2,243.8 531.6,244.2 532.0,244.7 532.4,244.4 532.8,244.4 533.2,244.2 533.6,244.6"/>
<polyline fill="none" stroke="#34C393" stroke-width="0.9" stroke-linejoin="round" points="49.6,244.0 50.0,243.8 50.4,244.0 50.8,243.2 51.2,243.8 51.6,243.2 52.0,243.1 52.4,243.8 52.8,243.2 53.2,243.4 53.6,243.7 54.0,243.0 54.4,243.5 54.8,243.9 55.2,243.0 55.6,243.4 56.0,243.3 56.4,242.5 56.8,242.5 57.2,242.9 57.6,242.2 58.0,242.9 58.4,242.9 58.8,243.0 59.2,243.0 59.6,243.3 60.0,242.8 60.4,243.4 60.8,243.1 61.2,243.2 61.6,242.9 62.0,243.3 62.4,242.6 62.8,243.2 63.2,243.5 63.6,242.8 64.0,242.6 64.4,242.7 64.8,243.1 65.2,243.3 65.6,243.4 66.0,243.8 66.4,243.7 66.8,243.2 67.2,242.9 67.6,242.7 68.0,243.4 68.4,243.2 68.8,242.8 69.2,242.8 69.6,242.7 70.0,241.8 70.4,242.8 70.8,242.9 71.2,242.8 71.6,242.4 72.0,242.9 72.4,243.1 72.8,243.5 73.2,243.1 73.6,242.9 74.0,242.8 74.4,242.3 74.8,242.7 75.2,242.4 75.6,242.9 76.0,243.3 76.4,243.3 76.8,243.3 77.2,243.0 77.6,243.4 78.0,243.1 78.4,242.6 78.8,243.3 79.2,243.4 79.6,242.8 80.0,243.3 80.4,242.7 80.8,243.5 81.2,244.1 81.6,243.6 82.0,244.3 82.4,243.9 82.8,243.6 83.2,243.3 83.6,244.2 84.0,244.2 84.4,243.6 84.8,243.9 85.2,244.5 85.6,243.9 86.0,244.3 86.4,243.5 86.8,243.8 87.2,244.3 87.6,243.6 88.0,243.6 88.4,243.7 88.8,244.0 89.2,243.5 89.6,244.1 90.0,244.3 90.4,244.8 90.8,244.1 91.2,244.8 91.6,244.4 92.0,244.2 92.4,244.4 92.8,244.8 93.2,244.8 93.6,244.6 94.0,244.4 94.4,244.7 94.8,244.5 95.2,244.6 95.6,244.7 96.0,245.3 96.4,244.2 96.8,244.5 97.2,244.2 97.6,245.0 98.0,245.1 98.4,245.2 98.8,244.6 99.2,244.7 99.6,244.9 100.0,244.7 100.4,244.8 100.8,244.7 101.2,244.8 101.6,244.6 102.0,244.9 102.4,244.1 102.8,244.5 103.2,244.2 103.6,244.6 104.0,244.4 104.4,244.8 104.8,245.1 105.2,244.3 105.6,244.5 106.0,244.9 106.4,245.3 106.8,245.0 107.2,244.9 107.6,244.9 108.0,244.8 108.4,245.1 108.8,245.2 109.2,245.1 109.6,244.8 110.0,244.5 110.4,244.7 110.8,244.9 111.2,244.5 111.6,245.0 112.0,244.4 112.4,244.9 112.8,245.2 113.2,245.4 113.6,245.2 114.0,245.5 114.4,244.9 114.8,244.8 115.2,245.5 115.6,244.8 116.0,245.0 116.4,244.5 116.8,245.5 117.2,245.3 117.6,244.8 118.0,244.4 118.4,245.1 118.8,245.1 119.2,245.4 119.6,245.7 120.0,245.1 120.4,244.9 120.8,244.8 121.2,244.8 121.6,244.4 122.0,244.5 122.4,244.8 122.8,244.1 123.2,244.3 123.6,245.1 124.0,244.5 124.4,245.0 124.8,245.0 125.2,244.7 125.6,245.0 126.0,244.6 126.4,244.4 126.8,244.7 127.2,244.7 127.6,244.7 128.0,244.7 128.4,244.5 128.8,245.0 129.2,244.6 129.6,244.5 130.0,244.9 130.4,244.2 130.8,244.6 131.2,245.2 131.6,244.7 132.0,245.2 132.4,244.6 132.8,244.4 133.2,244.6 133.6,244.3 134.0,244.3 134.4,244.3 134.8,244.7 135.2,244.5 135.6,244.2 136.0,244.1 136.4,245.5 136.8,244.2 137.2,244.7 137.6,243.7 138.0,243.9 138.4,244.5 138.8,243.7 139.2,243.7 139.6,243.9 140.0,243.6 140.4,243.8 140.8,244.0 141.2,244.2 141.6,243.9 142.0,243.9 142.4,244.2 142.8,244.2 143.2,243.6 143.6,243.0 144.0,243.3 144.4,244.0 144.8,243.3 145.2,243.2 145.6,243.4 146.0,244.0 146.4,243.5 146.8,243.3 147.2,243.1 147.6,242.9 148.0,244.3 148.4,243.2 148.8,243.2 149.2,243.0 149.6,243.4 150.0,242.6 150.4,242.2 150.8,242.4 151.2,242.6 151.6,243.2 152.0,242.2 152.4,241.7 152.8,241.8 153.2,241.6 153.6,241.4 154.0,241.5 154.4,241.3 154.8,240.7 155.2,241.2 155.6,240.6 156.0,240.5 156.4,240.0 156.8,240.1 157.2,239.9 157.6,239.8 158.0,239.1 158.4,239.4 158.8,238.9 159.2,239.0 159.6,239.1 160.0,239.1 160.4,238.3 160.8,237.8 161.2,238.0 161.6,238.0 162.0,237.3 162.4,238.1 162.8,236.4 163.2,237.4 163.6,237.1 164.0,236.8 164.4,236.0 164.8,236.7 165.2,236.5 165.6,236.4 166.0,235.8 166.4,235.6 166.8,236.0 167.2,235.4 167.6,235.1 168.0,234.8 168.4,235.1 168.8,234.4 169.2,235.0 169.6,234.8 170.0,234.2 170.4,234.9 170.8,235.0 171.2,234.5 171.6,233.9 172.0,234.0 172.4,234.4 172.8,233.5 173.2,233.6 173.6,234.1 174.0,233.5 174.4,233.3 174.8,233.8 175.2,234.1 175.6,233.6 176.0,233.0 176.4,232.8 176.8,233.2 177.2,232.6 177.6,233.1 178.0,233.5 178.4,232.1 178.8,232.9 179.2,233.0 179.6,232.6 180.0,232.7 180.4,232.5 180.8,232.4 181.2,232.5 181.6,231.0 182.0,229.6 182.4,228.3 182.8,227.2 183.2,227.7 183.6,228.2 184.0,229.4 184.4,230.4 184.8,231.8 185.2,232.3 185.6,232.8 186.0,232.6 186.4,233.0 186.8,232.9 187.2,233.3 187.6,233.7 188.0,233.4 188.4,233.8 188.8,234.9 189.2,234.2 189.6,233.8 190.0,233.9 190.4,234.3 190.8,234.6 191.2,234.1 191.6,234.2 192.0,233.7 192.4,232.9 192.8,233.3 193.2,232.4 193.6,232.9 194.0,231.7 194.4,231.5 194.8,231.2 195.2,231.0 195.6,231.2 196.0,230.9 196.4,231.3 196.8,231.1 197.2,231.7 197.6,231.5 198.0,232.3 198.4,232.6 198.8,232.2 199.2,233.1 199.6,232.6 200.0,232.1 200.4,231.5 200.8,231.1 201.2,230.8 201.6,230.6 202.0,229.8 202.4,230.1 202.8,229.9 203.2,230.9 203.6,231.3 204.0,232.4 204.4,233.5 204.8,233.6 205.2,234.8 205.6,234.4 206.0,234.5 206.4,234.0 206.8,234.4 207.2,235.0 207.6,234.6 208.0,234.4 208.4,234.6 208.8,234.4 209.2,234.4 209.6,234.2 210.0,235.1 210.4,235.2 210.8,234.7 211.2,234.3 211.6,234.8 212.0,235.6 212.4,234.5 212.8,234.9 213.2,235.0 213.6,235.4 214.0,234.5 214.4,235.2 214.8,234.8 215.2,235.1 215.6,234.8 216.0,235.6 216.4,235.2 216.8,235.3 217.2,235.9 217.6,235.6 218.0,236.2 218.4,235.7 218.8,235.5 219.2,235.6 219.6,236.5 220.0,236.0 220.4,235.5 220.8,235.7 221.2,235.5 221.6,236.0 222.0,235.8 222.4,236.0 222.8,236.6 223.2,237.1 223.6,237.0 224.0,237.2 224.4,237.1 224.8,236.5 225.2,237.4 225.6,237.5 226.0,237.9 226.4,238.6 226.8,238.3 227.2,237.5 227.6,238.3 228.0,238.4 228.4,238.8 228.8,238.7 229.2,238.2 229.6,238.7 230.0,239.0 230.4,238.5 230.8,239.3 231.2,239.3 231.6,239.9 232.0,239.6 232.4,239.5 232.8,239.7 233.2,239.8 233.6,240.3 234.0,239.7 234.4,239.2 234.8,241.1 235.2,240.4 235.6,240.2 236.0,241.1 236.4,239.9 236.8,240.0 237.2,240.2 237.6,240.5 238.0,240.2 238.4,240.6 238.8,240.2 239.2,240.8 239.6,240.5 240.0,239.8 240.4,240.4 240.8,240.1 241.2,240.5 241.6,240.6 242.0,241.3 242.4,240.5 242.8,240.0 243.2,240.7 243.6,240.3 244.0,241.5 244.4,241.1 244.8,241.4 245.2,240.8 245.6,240.6 246.0,241.1 246.4,240.7 246.8,240.9 247.2,241.0 247.6,241.2 248.0,240.8 248.4,240.5 248.8,241.8 249.2,241.0 249.6,241.1 250.0,241.5 250.4,241.6 250.8,241.2 251.2,241.3 251.6,242.0 252.0,241.9 252.4,241.7 252.8,242.2 253.2,240.9 253.6,241.7 254.0,241.6 254.4,241.0 254.8,241.9 255.2,242.1 255.6,242.0 256.0,241.3 256.4,241.9 256.8,242.2 257.2,242.0 257.6,242.4 258.0,242.5 258.4,242.7 258.8,242.3 259.2,243.3 259.6,242.5 260.0,242.6 260.4,242.7 260.8,242.5 261.2,242.3 261.6,242.9 262.0,241.7 262.4,241.8 262.8,243.1 263.2,242.6 263.6,242.5 264.0,242.4 264.4,242.4 264.8,242.0 265.2,242.2 265.6,241.9 266.0,242.7 266.4,242.5 266.8,242.5 267.2,242.6 267.6,242.3 268.0,241.9 268.4,243.0 268.8,242.6 269.2,242.3 269.6,242.7 270.0,243.0 270.4,243.0 270.8,242.9 271.2,243.0 271.6,242.5 272.0,243.1 272.4,243.0 272.8,243.1 273.2,242.2 273.6,242.9 274.0,242.9 274.4,242.9 274.8,241.7 275.2,242.0 275.6,242.8 276.0,242.4 276.4,242.9 276.8,242.7 277.2,243.1 277.6,242.6 278.0,242.4 278.4,242.9 278.8,242.7 279.2,242.4 279.6,242.1 280.0,244.0 280.4,242.8 280.8,242.9 281.2,242.3 281.6,242.7 282.0,243.0 282.4,243.2 282.8,243.4 283.2,242.8 283.6,243.3 284.0,243.5 284.4,243.0 284.8,243.1 285.2,242.6 285.6,242.9 286.0,242.7 286.4,243.5 286.8,243.3 287.2,243.9 287.6,243.4 288.0,243.7 288.4,243.7 288.8,243.5 289.2,243.1 289.6,244.1 290.0,243.5 290.4,242.9 290.8,243.3 291.2,243.1 291.6,244.0 292.0,244.1 292.4,244.3 292.8,244.5 293.2,243.5 293.6,243.1 294.0,243.4 294.4,243.9 294.8,242.8 295.2,243.6 295.6,244.2 296.0,243.6 296.4,243.8 296.8,243.5 297.2,244.5 297.6,244.6 298.0,243.5 298.4,243.5 298.8,243.9 299.2,244.2 299.6,244.1 300.0,244.1 300.4,244.2 300.8,244.2 301.2,244.5 301.6,243.9 302.0,243.7 302.4,243.8 302.8,244.6 303.2,244.2 303.6,244.1 304.0,244.3 304.4,244.3 304.8,244.7 305.2,243.5 305.6,243.9 306.0,244.1 306.4,244.2 306.8,243.7 307.2,243.3 307.6,243.8 308.0,243.7 308.4,244.0 308.8,244.6 309.2,244.4 309.6,243.8 310.0,243.9 310.4,244.2 310.8,244.6 311.2,244.1 311.6,244.2 312.0,243.6 312.4,244.0 312.8,244.0 313.2,244.3 313.6,244.2 314.0,243.9 314.4,243.9 314.8,244.4 315.2,244.1 315.6,244.8 316.0,244.5 316.4,244.3 316.8,244.6 317.2,243.9 317.6,244.6 318.0,244.0 318.4,244.6 318.8,244.1 319.2,244.1 319.6,243.8 320.0,244.5 320.4,244.6 320.8,243.9 321.2,245.0 321.6,244.3 322.0,244.0 322.4,245.1 322.8,244.1 323.2,244.8 323.6,243.3 324.0,245.0 324.4,244.3 324.8,244.2 325.2,244.4 325.6,243.8 326.0,244.5 326.4,244.3 326.8,244.3 327.2,244.0 327.6,243.8 328.0,244.3 328.4,244.5 328.8,244.3 329.2,244.2 329.6,244.1 330.0,244.6 330.4,244.9 330.8,244.3 331.2,244.1 331.6,245.3 332.0,243.8 332.4,244.5 332.8,244.4 333.2,244.9 333.6,244.4 334.0,243.8 334.4,244.1 334.8,244.5 335.2,244.5 335.6,244.2 336.0,244.1 336.4,243.8 336.8,243.8 337.2,244.1 337.6,244.0 338.0,244.2 338.4,243.8 338.8,244.7 339.2,243.5 339.6,244.4 340.0,244.3 340.4,244.8 340.8,244.6 341.2,243.5 341.6,244.2 342.0,244.3 342.4,244.3 342.8,244.2 343.2,243.8 343.6,244.5 344.0,244.0 344.4,243.9 344.8,244.0 345.2,243.9 345.6,243.8 346.0,244.2 346.4,245.0 346.8,244.2 347.2,244.1 347.6,243.9 348.0,244.2 348.4,243.6 348.8,244.1 349.2,244.1 349.6,244.1 350.0,244.2 350.4,243.9 350.8,244.4 351.2,244.3 351.6,244.2 352.0,244.0 352.4,244.3 352.8,244.0 353.2,244.6 353.6,244.0 354.0,244.5 354.4,244.1 354.8,244.0 355.2,243.6 355.6,244.2 356.0,244.2 356.4,244.1 356.8,244.2 357.2,244.1 357.6,243.7 358.0,243.6 358.4,244.3 358.8,244.1 359.2,244.5 359.6,244.7 360.0,244.2 360.4,244.1 360.8,244.0 361.2,243.8 361.6,243.5 362.0,242.8 362.4,244.1 362.8,244.0 363.2,243.8 363.6,243.8 364.0,244.1 364.4,244.1 364.8,243.8 365.2,243.6 365.6,243.9 366.0,244.0 366.4,244.5 366.8,243.3 367.2,243.7 367.6,243.2 368.0,243.4 368.4,244.4 368.8,243.4 369.2,243.6 369.6,243.5 370.0,243.9 370.4,243.4 370.8,242.9 371.2,243.6 371.6,243.9 372.0,243.5 372.4,243.5 372.8,243.1 373.2,243.1 373.6,243.4 374.0,243.0 374.4,243.2 374.8,243.0 375.2,243.3 375.6,243.7 376.0,243.3 376.4,243.8 376.8,243.5 377.2,243.4 377.6,243.0 378.0,243.5 378.4,243.0 378.8,243.7 379.2,243.0 379.6,242.9 380.0,243.1 380.4,242.8 380.8,243.6 381.2,243.2 381.6,243.3 382.0,243.6 382.4,242.6 382.8,243.4 383.2,243.6 383.6,243.9 384.0,243.5 384.4,243.2 384.8,243.8 385.2,243.8 385.6,244.1 386.0,244.1 386.4,243.2 386.8,243.7 387.2,243.2 387.6,242.8 388.0,243.4 388.4,243.6 388.8,242.4 389.2,243.6 389.6,242.9 390.0,243.8 390.4,243.3 390.8,243.3 391.2,243.7 391.6,243.1 392.0,243.9 392.4,242.8 392.8,242.9 393.2,242.7 393.6,243.3 394.0,243.1 394.4,243.3 394.8,243.4 395.2,243.3 395.6,243.5 396.0,243.4 396.4,243.0 396.8,242.7 397.2,242.5 397.6,243.0 398.0,242.5 398.4,242.3 398.8,242.3 399.2,242.5 399.6,242.6 400.0,242.3 400.4,241.9 400.8,242.4 401.2,241.4 401.6,242.1 402.0,242.5 402.4,242.2 402.8,242.5 403.2,242.1 403.6,242.3 404.0,242.0 404.4,241.8 404.8,242.0 405.2,242.2 405.6,241.2 406.0,241.6 406.4,241.1 406.8,241.5 407.2,241.4 407.6,241.7 408.0,241.7 408.4,242.3 408.8,242.3 409.2,241.6 409.6,241.7 410.0,242.0 410.4,241.5 410.8,241.6 411.2,241.0 411.6,242.0 412.0,241.8 412.4,241.4 412.8,241.3 413.2,241.4 413.6,241.9 414.0,241.5 414.4,241.3 414.8,241.6 415.2,241.9 415.6,242.1 416.0,242.1 416.4,241.7 416.8,241.7 417.2,241.7 417.6,241.9 418.0,241.8 418.4,241.2 418.8,241.3 419.2,241.4 419.6,241.8 420.0,241.3 420.4,241.2 420.8,241.8 421.2,242.1 421.6,241.3 422.0,241.6 422.4,242.1 422.8,241.5 423.2,242.1 423.6,241.3 424.0,241.7 424.4,242.0 424.8,242.3 425.2,242.2 425.6,241.2 426.0,241.2 426.4,241.5 426.8,242.2 427.2,242.3 427.6,242.4 428.0,242.3 428.4,241.9 428.8,242.1 429.2,241.9 429.6,242.5 430.0,241.8 430.4,242.2 430.8,242.3 431.2,242.6 431.6,241.9 432.0,242.3 432.4,241.8 432.8,242.6 433.2,242.1 433.6,242.2 434.0,242.0 434.4,242.2 434.8,242.2 435.2,242.2 435.6,242.8 436.0,242.0 436.4,242.5 436.8,242.8 437.2,242.0 437.6,241.6 438.0,242.6 438.4,241.9 438.8,242.2 439.2,242.5 439.6,242.6 440.0,242.4 440.4,242.2 440.8,242.8 441.2,242.6 441.6,243.2 442.0,242.2 442.4,242.5 442.8,242.5 443.2,242.7 443.6,242.6 444.0,242.6 444.4,243.2 444.8,242.5 445.2,242.7 445.6,242.6 446.0,242.4 446.4,242.9 446.8,241.9 447.2,243.0 447.6,242.1 448.0,242.6 448.4,242.9 448.8,242.8 449.2,242.7 449.6,243.4 450.0,243.8 450.4,243.3 450.8,243.1 451.2,242.9 451.6,242.8 452.0,243.6 452.4,243.6 452.8,243.7 453.2,243.6 453.6,243.7 454.0,243.1 454.4,243.0 454.8,242.9 455.2,243.3 455.6,243.2 456.0,243.3 456.4,242.8 456.8,243.3 457.2,243.5 457.6,243.3 458.0,242.4 458.4,243.3 458.8,243.2 459.2,243.6 459.6,243.2 460.0,243.4 460.4,243.1 460.8,243.3 461.2,243.6 461.6,243.2 462.0,243.4 462.4,243.3 462.8,243.4 463.2,243.2 463.6,243.4 464.0,242.6 464.4,243.2 464.8,243.7 465.2,243.6 465.6,243.0 466.0,243.1 466.4,243.5 466.8,243.4 467.2,243.4 467.6,243.4 468.0,243.3 468.4,243.7 468.8,243.0 469.2,242.9 469.6,243.7 470.0,243.1 470.4,243.5 470.8,243.1 471.2,243.0 471.6,243.9 472.0,243.4 472.4,243.0 472.8,243.4 473.2,243.3 473.6,243.4 474.0,243.6 474.4,243.0 474.8,243.4 475.2,243.7 475.6,243.8 476.0,243.6 476.4,243.4 476.8,243.0 477.2,244.2 477.6,243.3 478.0,243.5 478.4,243.8 478.8,243.9 479.2,243.7 479.6,243.5 480.0,243.7 480.4,244.4 480.8,244.5 481.2,243.6 481.6,244.0 482.0,243.2 482.4,243.8 482.8,244.1 483.2,243.7 483.6,244.5 484.0,244.2 484.4,244.1 484.8,243.1 485.2,243.8 485.6,244.2 486.0,243.7 486.4,243.3 486.8,243.8 487.2,244.6 487.6,244.2 488.0,244.3 488.4,244.1 488.8,244.6 489.2,243.1 489.6,243.7 490.0,244.8 490.4,244.5 490.8,244.3 491.2,244.1 491.6,243.5 492.0,244.1 492.4,244.1 492.8,243.8 493.2,244.5 493.6,244.5 494.0,244.1 494.4,244.5 494.8,244.1 495.2,244.2 495.6,243.9 496.0,245.0 496.4,243.6 496.8,244.1 497.2,244.4 497.6,244.4 498.0,243.5 498.4,243.8 498.8,244.1 499.2,243.8 499.6,243.8 500.0,243.9 500.4,243.9 500.8,244.4 501.2,243.4 501.6,244.4 502.0,243.9 502.4,244.2 502.8,243.8 503.2,244.8 503.6,243.5 504.0,244.5 504.4,244.0 504.8,244.1 505.2,244.7 505.6,244.1 506.0,244.5 506.4,244.6 506.8,243.9 507.2,244.8 507.6,244.6 508.0,244.1 508.4,244.2 508.8,244.0 509.2,244.4 509.6,244.6 510.0,244.6 510.4,244.3 510.8,244.0 511.2,244.0 511.6,243.8 512.0,244.0 512.4,244.4 512.8,243.9 513.2,243.8 513.6,243.7 514.0,244.3 514.4,244.1 514.8,243.7 515.2,244.6 515.6,244.6 516.0,244.2 516.4,244.2 516.8,244.2 517.2,243.9 517.6,244.6 518.0,244.8 518.4,244.7 518.8,244.5 519.2,244.5 519.6,244.6 520.0,244.9 520.4,244.1 520.8,244.3 521.2,244.0 521.6,243.8 522.0,244.4 522.4,244.6 522.8,243.9 523.2,244.6 523.6,244.5 524.0,244.4 524.4,244.6 524.8,243.9 525.2,244.8 525.6,244.0 526.0,244.3 526.4,243.6 526.8,244.5 527.2,244.1 527.6,244.0 528.0,243.8 528.4,244.4 528.8,244.8 529.2,244.5 529.6,244.2 530.0,244.1 530.4,244.1 530.8,244.3 531.2,243.8 531.6,244.2 532.0,244.7 532.4,244.4 532.8,244.4 533.2,244.2 533.6,244.6"/>
<polyline fill="none" stroke="#D28AF3" stroke-opacity="0.22" stroke-width="2.3" stroke-linejoin="round" points="49.6,214.3 50.0,214.2 50.4,214.2 50.8,213.7 51.2,214.0 51.6,213.8 52.0,213.2 52.4,213.4 52.8,214.2 53.2,213.7 53.6,213.9 54.0,213.4 54.4,213.6 54.8,214.1 55.2,213.8 55.6,213.5 56.0,214.3 56.4,213.7 56.8,213.7 57.2,214.1 57.6,213.1 58.0,213.9 58.4,213.2 58.8,213.3 59.2,213.3 59.6,213.5 60.0,213.5 60.4,213.5 60.8,213.4 61.2,213.9 61.6,214.0 62.0,213.6 62.4,213.5 62.8,213.2 63.2,212.9 63.6,213.5 64.0,213.3 64.4,213.6 64.8,212.7 65.2,214.2 65.6,212.8 66.0,213.3 66.4,213.6 66.8,212.8 67.2,213.1 67.6,212.6 68.0,212.8 68.4,212.7 68.8,213.4 69.2,213.5 69.6,213.3 70.0,213.8 70.4,213.9 70.8,213.4 71.2,213.3 71.6,213.2 72.0,213.2 72.4,213.8 72.8,213.4 73.2,213.2 73.6,213.2 74.0,213.5 74.4,213.2 74.8,213.5 75.2,213.4 75.6,213.9 76.0,213.8 76.4,213.0 76.8,213.4 77.2,213.8 77.6,213.4 78.0,213.8 78.4,213.7 78.8,213.8 79.2,213.6 79.6,213.8 80.0,213.9 80.4,213.2 80.8,213.4 81.2,213.4 81.6,214.3 82.0,213.9 82.4,213.9 82.8,213.8 83.2,213.6 83.6,213.5 84.0,214.1 84.4,213.7 84.8,214.3 85.2,213.8 85.6,213.8 86.0,213.8 86.4,213.8 86.8,213.9 87.2,214.4 87.6,214.7 88.0,213.4 88.4,213.9 88.8,214.1 89.2,213.6 89.6,213.7 90.0,213.7 90.4,213.0 90.8,214.1 91.2,213.9 91.6,213.9 92.0,214.0 92.4,214.1 92.8,214.9 93.2,214.2 93.6,214.5 94.0,214.0 94.4,214.4 94.8,214.2 95.2,214.3 95.6,214.1 96.0,214.2 96.4,214.7 96.8,214.8 97.2,214.7 97.6,214.3 98.0,214.8 98.4,213.8 98.8,215.1 99.2,214.8 99.6,214.9 100.0,215.3 100.4,214.8 100.8,215.2 101.2,214.8 101.6,215.1 102.0,214.8 102.4,215.1 102.8,215.4 103.2,214.7 103.6,214.7 104.0,214.8 104.4,215.0 104.8,215.7 105.2,214.6 105.6,214.1 106.0,214.5 106.4,214.2 106.8,214.5 107.2,214.7 107.6,214.4 108.0,214.5 108.4,214.0 108.8,214.8 109.2,214.4 109.6,215.1 110.0,215.1 110.4,214.4 110.8,214.6 111.2,214.8 111.6,215.0 112.0,214.2 112.4,214.8 112.8,215.5 113.2,214.8 113.6,215.0 114.0,215.0 114.4,214.5 114.8,215.2 115.2,215.0 115.6,215.0 116.0,215.3 116.4,215.4 116.8,214.5 117.2,215.4 117.6,215.0 118.0,215.2 118.4,215.0 118.8,214.9 119.2,215.7 119.6,215.4 120.0,215.3 120.4,215.4 120.8,215.5 121.2,215.6 121.6,214.8 122.0,215.3 122.4,215.5 122.8,215.9 123.2,216.2 123.6,215.4 124.0,216.4 124.4,215.8 124.8,215.8 125.2,215.4 125.6,215.3 126.0,216.0 126.4,215.4 126.8,215.5 127.2,215.9 127.6,216.1 128.0,214.9 128.4,215.4 128.8,215.3 129.2,215.9 129.6,216.1 130.0,215.2 130.4,215.3 130.8,215.5 131.2,215.5 131.6,215.0 132.0,215.3 132.4,214.7 132.8,214.0 133.2,214.5 133.6,215.1 134.0,215.3 134.4,214.2 134.8,214.4 135.2,215.0 135.6,213.7 136.0,215.0 136.4,215.2 136.8,213.7 137.2,215.1 137.6,214.7 138.0,215.3 138.4,214.9 138.8,214.7 139.2,214.9 139.6,215.1 140.0,214.8 140.4,214.8 140.8,214.3 141.2,214.9 141.6,214.7 142.0,215.2 142.4,214.6 142.8,214.5 143.2,214.2 143.6,214.7 144.0,214.3 144.4,214.2 144.8,215.0 145.2,215.0 145.6,214.3 146.0,214.1 146.4,214.8 146.8,213.9 147.2,215.1 147.6,214.1 148.0,214.4 148.4,213.5 148.8,213.9 149.2,214.1 149.6,213.8 150.0,213.4 150.4,214.4 150.8,213.7 151.2,213.4 151.6,213.2 152.0,213.2 152.4,213.7 152.8,212.8 153.2,212.9 153.6,212.6 154.0,213.2 154.4,212.6 154.8,212.9 155.2,212.6 155.6,212.1 156.0,212.3 156.4,212.2 156.8,211.3 157.2,211.6 157.6,212.4 158.0,210.9 158.4,211.0 158.8,210.1 159.2,210.4 159.6,209.9 160.0,210.2 160.4,209.8 160.8,209.3 161.2,210.0 161.6,209.5 162.0,209.1 162.4,209.5 162.8,209.2 163.2,209.6 163.6,209.5 164.0,209.5 164.4,209.9 164.8,209.2 165.2,210.1 165.6,209.1 166.0,210.4 166.4,209.9 166.8,209.8 167.2,209.7 167.6,210.2 168.0,210.0 168.4,210.0 168.8,210.3 169.2,209.7 169.6,209.7 170.0,209.8 170.4,209.9 170.8,209.3 171.2,209.2 171.6,209.0 172.0,209.1 172.4,209.2 172.8,208.1 173.2,208.2 173.6,208.1 174.0,208.1 174.4,208.3 174.8,207.7 175.2,207.6 175.6,207.7 176.0,206.6 176.4,206.4 176.8,206.0 177.2,205.4 177.6,204.7 178.0,203.4 178.4,203.6 178.8,202.8 179.2,203.8 179.6,205.3 180.0,206.1 180.4,206.7 180.8,207.4 181.2,208.1 181.6,208.2 182.0,208.7 182.4,208.4 182.8,209.0 183.2,208.6 183.6,209.1 184.0,209.2 184.4,210.2 184.8,209.7 185.2,210.0 185.6,209.7 186.0,209.8 186.4,209.8 186.8,209.4 187.2,209.8 187.6,208.7 188.0,209.4 188.4,210.0 188.8,208.6 189.2,208.8 189.6,208.0 190.0,208.3 190.4,207.5 190.8,208.1 191.2,207.6 191.6,206.9 192.0,207.0 192.4,206.9 192.8,207.4 193.2,207.9 193.6,207.7 194.0,207.5 194.4,207.9 194.8,208.3 195.2,207.4 195.6,208.3 196.0,208.1 196.4,206.6 196.8,207.7 197.2,206.6 197.6,207.1 198.0,207.8 198.4,207.0 198.8,207.1 199.2,207.6 199.6,207.9 200.0,208.6 200.4,208.7 200.8,208.9 201.2,209.1 201.6,209.2 202.0,209.0 202.4,209.4 202.8,209.3 203.2,208.9 203.6,209.9 204.0,208.8 204.4,209.6 204.8,209.1 205.2,209.5 205.6,209.5 206.0,209.6 206.4,209.7 206.8,208.9 207.2,210.2 207.6,209.4 208.0,209.0 208.4,208.7 208.8,210.1 209.2,209.8 209.6,209.2 210.0,209.6 210.4,209.8 210.8,209.4 211.2,209.2 211.6,209.3 212.0,209.7 212.4,209.4 212.8,208.8 213.2,209.5 213.6,208.6 214.0,208.8 214.4,209.6 214.8,209.4 215.2,209.4 215.6,209.5 216.0,209.9 216.4,209.7 216.8,209.1 217.2,210.0 217.6,208.9 218.0,209.4 218.4,210.8 218.8,210.8 219.2,210.4 219.6,210.7 220.0,210.9 220.4,211.3 220.8,210.8 221.2,210.9 221.6,211.1 222.0,211.4 222.4,211.6 222.8,211.5 223.2,211.9 223.6,211.4 224.0,211.8 224.4,211.5 224.8,211.5 225.2,212.4 225.6,212.0 226.0,211.8 226.4,212.1 226.8,211.8 227.2,212.5 227.6,212.6 228.0,212.7 228.4,212.0 228.8,212.4 229.2,213.1 229.6,212.4 230.0,213.0 230.4,213.1 230.8,212.0 231.2,212.9 231.6,212.8 232.0,212.8 232.4,213.0 232.8,212.7 233.2,212.5 233.6,212.8 234.0,212.4 234.4,212.8 234.8,212.0 235.2,213.4 235.6,212.7 236.0,213.1 236.4,213.0 236.8,213.1 237.2,213.1 237.6,213.2 238.0,212.6 238.4,213.0 238.8,213.6 239.2,212.9 239.6,212.9 240.0,214.1 240.4,213.8 240.8,214.0 241.2,213.4 241.6,213.6 242.0,213.8 242.4,213.7 242.8,213.5 243.2,213.0 243.6,213.3 244.0,213.1 244.4,214.2 244.8,213.5 245.2,213.6 245.6,213.9 246.0,213.7 246.4,213.9 246.8,213.6 247.2,213.3 247.6,214.5 248.0,213.7 248.4,213.9 248.8,213.7 249.2,213.9 249.6,214.1 250.0,214.4 250.4,213.8 250.8,214.4 251.2,214.1 251.6,214.8 252.0,214.0 252.4,214.4 252.8,214.6 253.2,213.9 253.6,214.4 254.0,214.4 254.4,214.1 254.8,214.4 255.2,214.9 255.6,214.6 256.0,214.4 256.4,214.5 256.8,214.8 257.2,215.1 257.6,214.9 258.0,214.9 258.4,215.2 258.8,214.2 259.2,214.2 259.6,213.9 260.0,215.0 260.4,213.9 260.8,214.8 261.2,215.1 261.6,214.3 262.0,214.5 262.4,214.6 262.8,214.9 263.2,214.2 263.6,214.7 264.0,215.0 264.4,214.8 264.8,214.7 265.2,215.1 265.6,214.7 266.0,214.6 266.4,214.5 266.8,214.8 267.2,214.5 267.6,214.8 268.0,214.7 268.4,215.0 268.8,214.3 269.2,214.6 269.6,214.7 270.0,214.8 270.4,215.0 270.8,214.9 271.2,215.1 271.6,215.5 272.0,215.1 272.4,214.3 272.8,214.2 273.2,214.9 273.6,214.6 274.0,214.9 274.4,214.8 274.8,215.4 275.2,215.4 275.6,214.5 276.0,215.0 276.4,214.8 276.8,214.5 277.2,215.2 277.6,214.9 278.0,215.1 278.4,215.8 278.8,215.5 279.2,215.4 279.6,214.9 280.0,214.7 280.4,215.6 280.8,215.2 281.2,215.3 281.6,215.2 282.0,215.3 282.4,216.1 282.8,215.1 283.2,215.0 283.6,215.2 284.0,215.3 284.4,214.8 284.8,214.5 285.2,214.9 285.6,215.1 286.0,214.9 286.4,214.8 286.8,214.8 287.2,215.0 287.6,215.0 288.0,214.4 288.4,214.8 288.8,215.1 289.2,214.9 289.6,214.5 290.0,214.8 290.4,215.0 290.8,215.3 291.2,214.6 291.6,215.4 292.0,215.1 292.4,215.3 292.8,215.5 293.2,215.0 293.6,215.1 294.0,215.4 294.4,215.8 294.8,215.3 295.2,215.0 295.6,215.3 296.0,215.6 296.4,215.9 296.8,215.3 297.2,215.4 297.6,215.4 298.0,215.5 298.4,215.2 298.8,215.4 299.2,215.6 299.6,215.6 300.0,215.5 300.4,215.2 300.8,215.3 301.2,215.3 301.6,215.8 302.0,216.0 302.4,215.5 302.8,215.9 303.2,215.3 303.6,215.3 304.0,215.1 304.4,215.6 304.8,215.4 305.2,215.5 305.6,215.6 306.0,215.3 306.4,215.0 306.8,215.4 307.2,215.3 307.6,215.3 308.0,215.5 308.4,215.2 308.8,215.2 309.2,215.8 309.6,215.6 310.0,215.3 310.4,215.0 310.8,215.2 311.2,215.5 311.6,215.6 312.0,216.1 312.4,215.2 312.8,215.3 313.2,215.1 313.6,215.3 314.0,215.2 314.4,215.1 314.8,215.7 315.2,215.4 315.6,215.8 316.0,215.2 316.4,215.5 316.8,215.6 317.2,214.7 317.6,214.9 318.0,215.6 318.4,215.3 318.8,214.6 319.2,214.9 319.6,214.7 320.0,215.0 320.4,215.7 320.8,215.0 321.2,215.8 321.6,215.1 322.0,214.9 322.4,215.7 322.8,215.5 323.2,215.8 323.6,216.0 324.0,215.7 324.4,215.8 324.8,214.8 325.2,215.1 325.6,215.6 326.0,215.6 326.4,215.8 326.8,215.4 327.2,216.0 327.6,216.4 328.0,215.8 328.4,215.9 328.8,215.8 329.2,215.9 329.6,215.7 330.0,215.5 330.4,215.8 330.8,215.7 331.2,215.1 331.6,215.6 332.0,215.5 332.4,215.6 332.8,215.3 333.2,215.6 333.6,215.6 334.0,215.1 334.4,215.4 334.8,215.6 335.2,215.5 335.6,214.9 336.0,214.9 336.4,215.3 336.8,214.9 337.2,216.2 337.6,215.1 338.0,215.1 338.4,215.5 338.8,215.0 339.2,214.4 339.6,215.2 340.0,214.9 340.4,215.1 340.8,214.7 341.2,215.0 341.6,215.3 342.0,215.4 342.4,215.0 342.8,215.2 343.2,215.1 343.6,215.5 344.0,215.5 344.4,215.1 344.8,215.8 345.2,215.4 345.6,215.7 346.0,215.2 346.4,215.6 346.8,215.4 347.2,215.5 347.6,215.7 348.0,215.7 348.4,215.6 348.8,215.5 349.2,215.0 349.6,215.3 350.0,214.6 350.4,214.5 350.8,215.2 351.2,215.2 351.6,215.7 352.0,215.4 352.4,215.5 352.8,215.1 353.2,215.3 353.6,215.5 354.0,215.3 354.4,215.3 354.8,215.2 355.2,214.9 355.6,214.9 356.0,214.7 356.4,215.4 356.8,215.3 357.2,215.2 357.6,215.6 358.0,215.4 358.4,215.9 358.8,216.3 359.2,215.7 359.6,215.4 360.0,215.2 360.4,216.4 360.8,215.8 361.2,215.2 361.6,215.9 362.0,215.0 362.4,215.4 362.8,215.4 363.2,215.4 363.6,215.1 364.0,216.2 364.4,215.3 364.8,215.5 365.2,215.3 365.6,214.7 366.0,215.1 366.4,215.3 366.8,215.5 367.2,215.0 367.6,215.3 368.0,215.0 368.4,215.3 368.8,214.3 369.2,215.4 369.6,214.9 370.0,215.0 370.4,214.3 370.8,214.9 371.2,215.4 371.6,216.0 372.0,214.9 372.4,214.9 372.8,215.4 373.2,215.3 373.6,215.0 374.0,215.1 374.4,215.0 374.8,215.3 375.2,215.3 375.6,215.7 376.0,215.3 376.4,215.2 376.8,215.1 377.2,215.4 377.6,214.6 378.0,215.7 378.4,215.0 378.8,215.3 379.2,214.6 379.6,215.4 380.0,215.2 380.4,215.0 380.8,214.9 381.2,214.8 381.6,215.7 382.0,215.6 382.4,215.2 382.8,215.3 383.2,215.0 383.6,214.7 384.0,214.6 384.4,215.0 384.8,215.2 385.2,214.9 385.6,215.4 386.0,215.3 386.4,215.2 386.8,214.5 387.2,215.0 387.6,215.1 388.0,214.5 388.4,214.2 388.8,215.7 389.2,215.2 389.6,214.8 390.0,215.4 390.4,215.2 390.8,215.0 391.2,214.9 391.6,215.1 392.0,215.3 392.4,214.8 392.8,214.7 393.2,215.0 393.6,213.7 394.0,214.8 394.4,214.7 394.8,214.9 395.2,214.8 395.6,215.1 396.0,215.0 396.4,215.0 396.8,214.9 397.2,215.0 397.6,214.6 398.0,215.1 398.4,214.2 398.8,214.8 399.2,214.9 399.6,214.2 400.0,214.4 400.4,215.1 400.8,214.6 401.2,214.2 401.6,213.4 402.0,214.6 402.4,214.4 402.8,214.5 403.2,214.9 403.6,214.2 404.0,214.2 404.4,213.9 404.8,214.0 405.2,214.0 405.6,214.3 406.0,214.2 406.4,213.8 406.8,213.9 407.2,214.5 407.6,213.6 408.0,214.2 408.4,214.6 408.8,214.1 409.2,214.0 409.6,214.4 410.0,214.1 410.4,213.9 410.8,213.9 411.2,214.3 411.6,214.2 412.0,214.4 412.4,213.7 412.8,213.7 413.2,213.8 413.6,214.0 414.0,213.6 414.4,214.1 414.8,213.9 415.2,213.5 415.6,212.8 416.0,213.3 416.4,214.4 416.8,213.8 417.2,213.9 417.6,213.7 418.0,214.0 418.4,213.2 418.8,213.2 419.2,213.3 419.6,214.0 420.0,214.2 420.4,214.2 420.8,214.0 421.2,213.6 421.6,214.3 422.0,214.0 422.4,214.2 422.8,214.2 423.2,214.1 423.6,213.9 424.0,214.0 424.4,213.7 424.8,214.2 425.2,214.2 425.6,214.5 426.0,213.5 426.4,214.6 426.8,214.1 427.2,214.1 427.6,213.8 428.0,213.7 428.4,213.5 428.8,214.4 429.2,213.9 429.6,214.3 430.0,214.3 430.4,213.8 430.8,213.9 431.2,213.8 431.6,214.2 432.0,214.0 432.4,214.0 432.8,214.2 433.2,213.9 433.6,214.7 434.0,213.6 434.4,214.4 434.8,214.4 435.2,213.5 435.6,214.2 436.0,214.0 436.4,214.2 436.8,213.5 437.2,214.0 437.6,213.6 438.0,213.9 438.4,214.5 438.8,214.0 439.2,213.2 439.6,213.5 440.0,213.7 440.4,214.4 440.8,213.9 441.2,213.5 441.6,214.4 442.0,214.1 442.4,214.2 442.8,213.9 443.2,214.7 443.6,214.2 444.0,213.6 444.4,214.0 444.8,214.1 445.2,214.4 445.6,214.7 446.0,214.2 446.4,214.2 446.8,215.3 447.2,214.5 447.6,214.3 448.0,214.5 448.4,214.1 448.8,214.7 449.2,214.9 449.6,214.4 450.0,215.0 450.4,214.6 450.8,214.8 451.2,214.4 451.6,214.4 452.0,214.1 452.4,214.7 452.8,214.5 453.2,214.5 453.6,214.1 454.0,214.1 454.4,214.3 454.8,214.8 455.2,214.7 455.6,214.4 456.0,214.7 456.4,215.2 456.8,214.6 457.2,215.3 457.6,214.8 458.0,215.2 458.4,214.5 458.8,215.0 459.2,214.2 459.6,214.7 460.0,214.5 460.4,214.0 460.8,214.2 461.2,215.1 461.6,214.9 462.0,215.3 462.4,215.0 462.8,213.9 463.2,215.0 463.6,214.7 464.0,214.6 464.4,214.6 464.8,214.5 465.2,214.5 465.6,215.3 466.0,215.0 466.4,214.6 466.8,214.6 467.2,215.1 467.6,214.9 468.0,214.9 468.4,214.4 468.8,214.7 469.2,214.4 469.6,214.1 470.0,215.2 470.4,214.7 470.8,214.7 471.2,214.5 471.6,215.1 472.0,215.7 472.4,215.2 472.8,215.4 473.2,214.6 473.6,215.2 474.0,215.2 474.4,215.6 474.8,215.2 475.2,214.8 475.6,215.2 476.0,215.1 476.4,215.7 476.8,215.5 477.2,215.4 477.6,215.3 478.0,215.5 478.4,215.0 478.8,214.9 479.2,214.5 479.6,215.5 480.0,215.3 480.4,215.3 480.8,215.1 481.2,215.7 481.6,214.8 482.0,215.5 482.4,214.8 482.8,215.0 483.2,214.6 483.6,215.2 484.0,215.0 484.4,215.4 484.8,214.9 485.2,214.6 485.6,215.3 486.0,215.5 486.4,215.3 486.8,215.1 487.2,215.2 487.6,214.5 488.0,215.0 488.4,215.5 488.8,215.3 489.2,214.8 489.6,215.3 490.0,215.0 490.4,215.3 490.8,214.5 491.2,214.9 491.6,215.1 492.0,215.1 492.4,215.2 492.8,214.9 493.2,214.9 493.6,215.1 494.0,215.2 494.4,214.4 494.8,214.9 495.2,215.0 495.6,215.1 496.0,215.5 496.4,214.7 496.8,215.3 497.2,214.5 497.6,214.9 498.0,215.0 498.4,215.1 498.8,215.0 499.2,215.0 499.6,215.0 500.0,215.1 500.4,214.5 500.8,214.7 501.2,215.0 501.6,215.4 502.0,215.6 502.4,216.3 502.8,215.3 503.2,215.0 503.6,215.3 504.0,215.5 504.4,215.3 504.8,214.8 505.2,215.2 505.6,215.2 506.0,214.7 506.4,214.8 506.8,215.7 507.2,214.5 507.6,215.3 508.0,215.2 508.4,215.8 508.8,215.5 509.2,215.0 509.6,215.7 510.0,215.1 510.4,216.0 510.8,215.8 511.2,215.3 511.6,215.6 512.0,215.5 512.4,215.0 512.8,215.6 513.2,215.5 513.6,215.6 514.0,215.8 514.4,215.8 514.8,215.7 515.2,215.3 515.6,215.5 516.0,215.5 516.4,215.4 516.8,215.4 517.2,216.1 517.6,215.6 518.0,216.2 518.4,215.2 518.8,215.5 519.2,215.4 519.6,215.4 520.0,215.3 520.4,215.4 520.8,215.4 521.2,216.1 521.6,215.8 522.0,215.3 522.4,215.2 522.8,215.7 523.2,215.7 523.6,215.3 524.0,215.8 524.4,214.9 524.8,215.2 525.2,216.0 525.6,214.5 526.0,215.3 526.4,215.7 526.8,215.3 527.2,215.1 527.6,215.0 528.0,214.6 528.4,214.9 528.8,215.4 529.2,215.2 529.6,215.4 530.0,215.3 530.4,215.6 530.8,215.0 531.2,215.4 531.6,215.3 532.0,215.3 532.4,215.1 532.8,214.7 533.2,215.6 533.6,215.7"/>
<polyline fill="none" stroke="#D28AF3" stroke-width="0.9" stroke-linejoin="round" points="49.6,214.3 50.0,214.2 50.4,214.2 50.8,213.7 51.2,214.0 51.6,213.8 52.0,213.2 52.4,213.4 52.8,214.2 53.2,213.7 53.6,213.9 54.0,213.4 54.4,213.6 54.8,214.1 55.2,213.8 55.6,213.5 56.0,214.3 56.4,213.7 56.8,213.7 57.2,214.1 57.6,213.1 58.0,213.9 58.4,213.2 58.8,213.3 59.2,213.3 59.6,213.5 60.0,213.5 60.4,213.5 60.8,213.4 61.2,213.9 61.6,214.0 62.0,213.6 62.4,213.5 62.8,213.2 63.2,212.9 63.6,213.5 64.0,213.3 64.4,213.6 64.8,212.7 65.2,214.2 65.6,212.8 66.0,213.3 66.4,213.6 66.8,212.8 67.2,213.1 67.6,212.6 68.0,212.8 68.4,212.7 68.8,213.4 69.2,213.5 69.6,213.3 70.0,213.8 70.4,213.9 70.8,213.4 71.2,213.3 71.6,213.2 72.0,213.2 72.4,213.8 72.8,213.4 73.2,213.2 73.6,213.2 74.0,213.5 74.4,213.2 74.8,213.5 75.2,213.4 75.6,213.9 76.0,213.8 76.4,213.0 76.8,213.4 77.2,213.8 77.6,213.4 78.0,213.8 78.4,213.7 78.8,213.8 79.2,213.6 79.6,213.8 80.0,213.9 80.4,213.2 80.8,213.4 81.2,213.4 81.6,214.3 82.0,213.9 82.4,213.9 82.8,213.8 83.2,213.6 83.6,213.5 84.0,214.1 84.4,213.7 84.8,214.3 85.2,213.8 85.6,213.8 86.0,213.8 86.4,213.8 86.8,213.9 87.2,214.4 87.6,214.7 88.0,213.4 88.4,213.9 88.8,214.1 89.2,213.6 89.6,213.7 90.0,213.7 90.4,213.0 90.8,214.1 91.2,213.9 91.6,213.9 92.0,214.0 92.4,214.1 92.8,214.9 93.2,214.2 93.6,214.5 94.0,214.0 94.4,214.4 94.8,214.2 95.2,214.3 95.6,214.1 96.0,214.2 96.4,214.7 96.8,214.8 97.2,214.7 97.6,214.3 98.0,214.8 98.4,213.8 98.8,215.1 99.2,214.8 99.6,214.9 100.0,215.3 100.4,214.8 100.8,215.2 101.2,214.8 101.6,215.1 102.0,214.8 102.4,215.1 102.8,215.4 103.2,214.7 103.6,214.7 104.0,214.8 104.4,215.0 104.8,215.7 105.2,214.6 105.6,214.1 106.0,214.5 106.4,214.2 106.8,214.5 107.2,214.7 107.6,214.4 108.0,214.5 108.4,214.0 108.8,214.8 109.2,214.4 109.6,215.1 110.0,215.1 110.4,214.4 110.8,214.6 111.2,214.8 111.6,215.0 112.0,214.2 112.4,214.8 112.8,215.5 113.2,214.8 113.6,215.0 114.0,215.0 114.4,214.5 114.8,215.2 115.2,215.0 115.6,215.0 116.0,215.3 116.4,215.4 116.8,214.5 117.2,215.4 117.6,215.0 118.0,215.2 118.4,215.0 118.8,214.9 119.2,215.7 119.6,215.4 120.0,215.3 120.4,215.4 120.8,215.5 121.2,215.6 121.6,214.8 122.0,215.3 122.4,215.5 122.8,215.9 123.2,216.2 123.6,215.4 124.0,216.4 124.4,215.8 124.8,215.8 125.2,215.4 125.6,215.3 126.0,216.0 126.4,215.4 126.8,215.5 127.2,215.9 127.6,216.1 128.0,214.9 128.4,215.4 128.8,215.3 129.2,215.9 129.6,216.1 130.0,215.2 130.4,215.3 130.8,215.5 131.2,215.5 131.6,215.0 132.0,215.3 132.4,214.7 132.8,214.0 133.2,214.5 133.6,215.1 134.0,215.3 134.4,214.2 134.8,214.4 135.2,215.0 135.6,213.7 136.0,215.0 136.4,215.2 136.8,213.7 137.2,215.1 137.6,214.7 138.0,215.3 138.4,214.9 138.8,214.7 139.2,214.9 139.6,215.1 140.0,214.8 140.4,214.8 140.8,214.3 141.2,214.9 141.6,214.7 142.0,215.2 142.4,214.6 142.8,214.5 143.2,214.2 143.6,214.7 144.0,214.3 144.4,214.2 144.8,215.0 145.2,215.0 145.6,214.3 146.0,214.1 146.4,214.8 146.8,213.9 147.2,215.1 147.6,214.1 148.0,214.4 148.4,213.5 148.8,213.9 149.2,214.1 149.6,213.8 150.0,213.4 150.4,214.4 150.8,213.7 151.2,213.4 151.6,213.2 152.0,213.2 152.4,213.7 152.8,212.8 153.2,212.9 153.6,212.6 154.0,213.2 154.4,212.6 154.8,212.9 155.2,212.6 155.6,212.1 156.0,212.3 156.4,212.2 156.8,211.3 157.2,211.6 157.6,212.4 158.0,210.9 158.4,211.0 158.8,210.1 159.2,210.4 159.6,209.9 160.0,210.2 160.4,209.8 160.8,209.3 161.2,210.0 161.6,209.5 162.0,209.1 162.4,209.5 162.8,209.2 163.2,209.6 163.6,209.5 164.0,209.5 164.4,209.9 164.8,209.2 165.2,210.1 165.6,209.1 166.0,210.4 166.4,209.9 166.8,209.8 167.2,209.7 167.6,210.2 168.0,210.0 168.4,210.0 168.8,210.3 169.2,209.7 169.6,209.7 170.0,209.8 170.4,209.9 170.8,209.3 171.2,209.2 171.6,209.0 172.0,209.1 172.4,209.2 172.8,208.1 173.2,208.2 173.6,208.1 174.0,208.1 174.4,208.3 174.8,207.7 175.2,207.6 175.6,207.7 176.0,206.6 176.4,206.4 176.8,206.0 177.2,205.4 177.6,204.7 178.0,203.4 178.4,203.6 178.8,202.8 179.2,203.8 179.6,205.3 180.0,206.1 180.4,206.7 180.8,207.4 181.2,208.1 181.6,208.2 182.0,208.7 182.4,208.4 182.8,209.0 183.2,208.6 183.6,209.1 184.0,209.2 184.4,210.2 184.8,209.7 185.2,210.0 185.6,209.7 186.0,209.8 186.4,209.8 186.8,209.4 187.2,209.8 187.6,208.7 188.0,209.4 188.4,210.0 188.8,208.6 189.2,208.8 189.6,208.0 190.0,208.3 190.4,207.5 190.8,208.1 191.2,207.6 191.6,206.9 192.0,207.0 192.4,206.9 192.8,207.4 193.2,207.9 193.6,207.7 194.0,207.5 194.4,207.9 194.8,208.3 195.2,207.4 195.6,208.3 196.0,208.1 196.4,206.6 196.8,207.7 197.2,206.6 197.6,207.1 198.0,207.8 198.4,207.0 198.8,207.1 199.2,207.6 199.6,207.9 200.0,208.6 200.4,208.7 200.8,208.9 201.2,209.1 201.6,209.2 202.0,209.0 202.4,209.4 202.8,209.3 203.2,208.9 203.6,209.9 204.0,208.8 204.4,209.6 204.8,209.1 205.2,209.5 205.6,209.5 206.0,209.6 206.4,209.7 206.8,208.9 207.2,210.2 207.6,209.4 208.0,209.0 208.4,208.7 208.8,210.1 209.2,209.8 209.6,209.2 210.0,209.6 210.4,209.8 210.8,209.4 211.2,209.2 211.6,209.3 212.0,209.7 212.4,209.4 212.8,208.8 213.2,209.5 213.6,208.6 214.0,208.8 214.4,209.6 214.8,209.4 215.2,209.4 215.6,209.5 216.0,209.9 216.4,209.7 216.8,209.1 217.2,210.0 217.6,208.9 218.0,209.4 218.4,210.8 218.8,210.8 219.2,210.4 219.6,210.7 220.0,210.9 220.4,211.3 220.8,210.8 221.2,210.9 221.6,211.1 222.0,211.4 222.4,211.6 222.8,211.5 223.2,211.9 223.6,211.4 224.0,211.8 224.4,211.5 224.8,211.5 225.2,212.4 225.6,212.0 226.0,211.8 226.4,212.1 226.8,211.8 227.2,212.5 227.6,212.6 228.0,212.7 228.4,212.0 228.8,212.4 229.2,213.1 229.6,212.4 230.0,213.0 230.4,213.1 230.8,212.0 231.2,212.9 231.6,212.8 232.0,212.8 232.4,213.0 232.8,212.7 233.2,212.5 233.6,212.8 234.0,212.4 234.4,212.8 234.8,212.0 235.2,213.4 235.6,212.7 236.0,213.1 236.4,213.0 236.8,213.1 237.2,213.1 237.6,213.2 238.0,212.6 238.4,213.0 238.8,213.6 239.2,212.9 239.6,212.9 240.0,214.1 240.4,213.8 240.8,214.0 241.2,213.4 241.6,213.6 242.0,213.8 242.4,213.7 242.8,213.5 243.2,213.0 243.6,213.3 244.0,213.1 244.4,214.2 244.8,213.5 245.2,213.6 245.6,213.9 246.0,213.7 246.4,213.9 246.8,213.6 247.2,213.3 247.6,214.5 248.0,213.7 248.4,213.9 248.8,213.7 249.2,213.9 249.6,214.1 250.0,214.4 250.4,213.8 250.8,214.4 251.2,214.1 251.6,214.8 252.0,214.0 252.4,214.4 252.8,214.6 253.2,213.9 253.6,214.4 254.0,214.4 254.4,214.1 254.8,214.4 255.2,214.9 255.6,214.6 256.0,214.4 256.4,214.5 256.8,214.8 257.2,215.1 257.6,214.9 258.0,214.9 258.4,215.2 258.8,214.2 259.2,214.2 259.6,213.9 260.0,215.0 260.4,213.9 260.8,214.8 261.2,215.1 261.6,214.3 262.0,214.5 262.4,214.6 262.8,214.9 263.2,214.2 263.6,214.7 264.0,215.0 264.4,214.8 264.8,214.7 265.2,215.1 265.6,214.7 266.0,214.6 266.4,214.5 266.8,214.8 267.2,214.5 267.6,214.8 268.0,214.7 268.4,215.0 268.8,214.3 269.2,214.6 269.6,214.7 270.0,214.8 270.4,215.0 270.8,214.9 271.2,215.1 271.6,215.5 272.0,215.1 272.4,214.3 272.8,214.2 273.2,214.9 273.6,214.6 274.0,214.9 274.4,214.8 274.8,215.4 275.2,215.4 275.6,214.5 276.0,215.0 276.4,214.8 276.8,214.5 277.2,215.2 277.6,214.9 278.0,215.1 278.4,215.8 278.8,215.5 279.2,215.4 279.6,214.9 280.0,214.7 280.4,215.6 280.8,215.2 281.2,215.3 281.6,215.2 282.0,215.3 282.4,216.1 282.8,215.1 283.2,215.0 283.6,215.2 284.0,215.3 284.4,214.8 284.8,214.5 285.2,214.9 285.6,215.1 286.0,214.9 286.4,214.8 286.8,214.8 287.2,215.0 287.6,215.0 288.0,214.4 288.4,214.8 288.8,215.1 289.2,214.9 289.6,214.5 290.0,214.8 290.4,215.0 290.8,215.3 291.2,214.6 291.6,215.4 292.0,215.1 292.4,215.3 292.8,215.5 293.2,215.0 293.6,215.1 294.0,215.4 294.4,215.8 294.8,215.3 295.2,215.0 295.6,215.3 296.0,215.6 296.4,215.9 296.8,215.3 297.2,215.4 297.6,215.4 298.0,215.5 298.4,215.2 298.8,215.4 299.2,215.6 299.6,215.6 300.0,215.5 300.4,215.2 300.8,215.3 301.2,215.3 301.6,215.8 302.0,216.0 302.4,215.5 302.8,215.9 303.2,215.3 303.6,215.3 304.0,215.1 304.4,215.6 304.8,215.4 305.2,215.5 305.6,215.6 306.0,215.3 306.4,215.0 306.8,215.4 307.2,215.3 307.6,215.3 308.0,215.5 308.4,215.2 308.8,215.2 309.2,215.8 309.6,215.6 310.0,215.3 310.4,215.0 310.8,215.2 311.2,215.5 311.6,215.6 312.0,216.1 312.4,215.2 312.8,215.3 313.2,215.1 313.6,215.3 314.0,215.2 314.4,215.1 314.8,215.7 315.2,215.4 315.6,215.8 316.0,215.2 316.4,215.5 316.8,215.6 317.2,214.7 317.6,214.9 318.0,215.6 318.4,215.3 318.8,214.6 319.2,214.9 319.6,214.7 320.0,215.0 320.4,215.7 320.8,215.0 321.2,215.8 321.6,215.1 322.0,214.9 322.4,215.7 322.8,215.5 323.2,215.8 323.6,216.0 324.0,215.7 324.4,215.8 324.8,214.8 325.2,215.1 325.6,215.6 326.0,215.6 326.4,215.8 326.8,215.4 327.2,216.0 327.6,216.4 328.0,215.8 328.4,215.9 328.8,215.8 329.2,215.9 329.6,215.7 330.0,215.5 330.4,215.8 330.8,215.7 331.2,215.1 331.6,215.6 332.0,215.5 332.4,215.6 332.8,215.3 333.2,215.6 333.6,215.6 334.0,215.1 334.4,215.4 334.8,215.6 335.2,215.5 335.6,214.9 336.0,214.9 336.4,215.3 336.8,214.9 337.2,216.2 337.6,215.1 338.0,215.1 338.4,215.5 338.8,215.0 339.2,214.4 339.6,215.2 340.0,214.9 340.4,215.1 340.8,214.7 341.2,215.0 341.6,215.3 342.0,215.4 342.4,215.0 342.8,215.2 343.2,215.1 343.6,215.5 344.0,215.5 344.4,215.1 344.8,215.8 345.2,215.4 345.6,215.7 346.0,215.2 346.4,215.6 346.8,215.4 347.2,215.5 347.6,215.7 348.0,215.7 348.4,215.6 348.8,215.5 349.2,215.0 349.6,215.3 350.0,214.6 350.4,214.5 350.8,215.2 351.2,215.2 351.6,215.7 352.0,215.4 352.4,215.5 352.8,215.1 353.2,215.3 353.6,215.5 354.0,215.3 354.4,215.3 354.8,215.2 355.2,214.9 355.6,214.9 356.0,214.7 356.4,215.4 356.8,215.3 357.2,215.2 357.6,215.6 358.0,215.4 358.4,215.9 358.8,216.3 359.2,215.7 359.6,215.4 360.0,215.2 360.4,216.4 360.8,215.8 361.2,215.2 361.6,215.9 362.0,215.0 362.4,215.4 362.8,215.4 363.2,215.4 363.6,215.1 364.0,216.2 364.4,215.3 364.8,215.5 365.2,215.3 365.6,214.7 366.0,215.1 366.4,215.3 366.8,215.5 367.2,215.0 367.6,215.3 368.0,215.0 368.4,215.3 368.8,214.3 369.2,215.4 369.6,214.9 370.0,215.0 370.4,214.3 370.8,214.9 371.2,215.4 371.6,216.0 372.0,214.9 372.4,214.9 372.8,215.4 373.2,215.3 373.6,215.0 374.0,215.1 374.4,215.0 374.8,215.3 375.2,215.3 375.6,215.7 376.0,215.3 376.4,215.2 376.8,215.1 377.2,215.4 377.6,214.6 378.0,215.7 378.4,215.0 378.8,215.3 379.2,214.6 379.6,215.4 380.0,215.2 380.4,215.0 380.8,214.9 381.2,214.8 381.6,215.7 382.0,215.6 382.4,215.2 382.8,215.3 383.2,215.0 383.6,214.7 384.0,214.6 384.4,215.0 384.8,215.2 385.2,214.9 385.6,215.4 386.0,215.3 386.4,215.2 386.8,214.5 387.2,215.0 387.6,215.1 388.0,214.5 388.4,214.2 388.8,215.7 389.2,215.2 389.6,214.8 390.0,215.4 390.4,215.2 390.8,215.0 391.2,214.9 391.6,215.1 392.0,215.3 392.4,214.8 392.8,214.7 393.2,215.0 393.6,213.7 394.0,214.8 394.4,214.7 394.8,214.9 395.2,214.8 395.6,215.1 396.0,215.0 396.4,215.0 396.8,214.9 397.2,215.0 397.6,214.6 398.0,215.1 398.4,214.2 398.8,214.8 399.2,214.9 399.6,214.2 400.0,214.4 400.4,215.1 400.8,214.6 401.2,214.2 401.6,213.4 402.0,214.6 402.4,214.4 402.8,214.5 403.2,214.9 403.6,214.2 404.0,214.2 404.4,213.9 404.8,214.0 405.2,214.0 405.6,214.3 406.0,214.2 406.4,213.8 406.8,213.9 407.2,214.5 407.6,213.6 408.0,214.2 408.4,214.6 408.8,214.1 409.2,214.0 409.6,214.4 410.0,214.1 410.4,213.9 410.8,213.9 411.2,214.3 411.6,214.2 412.0,214.4 412.4,213.7 412.8,213.7 413.2,213.8 413.6,214.0 414.0,213.6 414.4,214.1 414.8,213.9 415.2,213.5 415.6,212.8 416.0,213.3 416.4,214.4 416.8,213.8 417.2,213.9 417.6,213.7 418.0,214.0 418.4,213.2 418.8,213.2 419.2,213.3 419.6,214.0 420.0,214.2 420.4,214.2 420.8,214.0 421.2,213.6 421.6,214.3 422.0,214.0 422.4,214.2 422.8,214.2 423.2,214.1 423.6,213.9 424.0,214.0 424.4,213.7 424.8,214.2 425.2,214.2 425.6,214.5 426.0,213.5 426.4,214.6 426.8,214.1 427.2,214.1 427.6,213.8 428.0,213.7 428.4,213.5 428.8,214.4 429.2,213.9 429.6,214.3 430.0,214.3 430.4,213.8 430.8,213.9 431.2,213.8 431.6,214.2 432.0,214.0 432.4,214.0 432.8,214.2 433.2,213.9 433.6,214.7 434.0,213.6 434.4,214.4 434.8,214.4 435.2,213.5 435.6,214.2 436.0,214.0 436.4,214.2 436.8,213.5 437.2,214.0 437.6,213.6 438.0,213.9 438.4,214.5 438.8,214.0 439.2,213.2 439.6,213.5 440.0,213.7 440.4,214.4 440.8,213.9 441.2,213.5 441.6,214.4 442.0,214.1 442.4,214.2 442.8,213.9 443.2,214.7 443.6,214.2 444.0,213.6 444.4,214.0 444.8,214.1 445.2,214.4 445.6,214.7 446.0,214.2 446.4,214.2 446.8,215.3 447.2,214.5 447.6,214.3 448.0,214.5 448.4,214.1 448.8,214.7 449.2,214.9 449.6,214.4 450.0,215.0 450.4,214.6 450.8,214.8 451.2,214.4 451.6,214.4 452.0,214.1 452.4,214.7 452.8,214.5 453.2,214.5 453.6,214.1 454.0,214.1 454.4,214.3 454.8,214.8 455.2,214.7 455.6,214.4 456.0,214.7 456.4,215.2 456.8,214.6 457.2,215.3 457.6,214.8 458.0,215.2 458.4,214.5 458.8,215.0 459.2,214.2 459.6,214.7 460.0,214.5 460.4,214.0 460.8,214.2 461.2,215.1 461.6,214.9 462.0,215.3 462.4,215.0 462.8,213.9 463.2,215.0 463.6,214.7 464.0,214.6 464.4,214.6 464.8,214.5 465.2,214.5 465.6,215.3 466.0,215.0 466.4,214.6 466.8,214.6 467.2,215.1 467.6,214.9 468.0,214.9 468.4,214.4 468.8,214.7 469.2,214.4 469.6,214.1 470.0,215.2 470.4,214.7 470.8,214.7 471.2,214.5 471.6,215.1 472.0,215.7 472.4,215.2 472.8,215.4 473.2,214.6 473.6,215.2 474.0,215.2 474.4,215.6 474.8,215.2 475.2,214.8 475.6,215.2 476.0,215.1 476.4,215.7 476.8,215.5 477.2,215.4 477.6,215.3 478.0,215.5 478.4,215.0 478.8,214.9 479.2,214.5 479.6,215.5 480.0,215.3 480.4,215.3 480.8,215.1 481.2,215.7 481.6,214.8 482.0,215.5 482.4,214.8 482.8,215.0 483.2,214.6 483.6,215.2 484.0,215.0 484.4,215.4 484.8,214.9 485.2,214.6 485.6,215.3 486.0,215.5 486.4,215.3 486.8,215.1 487.2,215.2 487.6,214.5 488.0,215.0 488.4,215.5 488.8,215.3 489.2,214.8 489.6,215.3 490.0,215.0 490.4,215.3 490.8,214.5 491.2,214.9 491.6,215.1 492.0,215.1 492.4,215.2 492.8,214.9 493.2,214.9 493.6,215.1 494.0,215.2 494.4,214.4 494.8,214.9 495.2,215.0 495.6,215.1 496.0,215.5 496.4,214.7 496.8,215.3 497.2,214.5 497.6,214.9 498.0,215.0 498.4,215.1 498.8,215.0 499.2,215.0 499.6,215.0 500.0,215.1 500.4,214.5 500.8,214.7 501.2,215.0 501.6,215.4 502.0,215.6 502.4,216.3 502.8,215.3 503.2,215.0 503.6,215.3 504.0,215.5 504.4,215.3 504.8,214.8 505.2,215.2 505.6,215.2 506.0,214.7 506.4,214.8 506.8,215.7 507.2,214.5 507.6,215.3 508.0,215.2 508.4,215.8 508.8,215.5 509.2,215.0 509.6,215.7 510.0,215.1 510.4,216.0 510.8,215.8 511.2,215.3 511.6,215.6 512.0,215.5 512.4,215.0 512.8,215.6 513.2,215.5 513.6,215.6 514.0,215.8 514.4,215.8 514.8,215.7 515.2,215.3 515.6,215.5 516.0,215.5 516.4,215.4 516.8,215.4 517.2,216.1 517.6,215.6 518.0,216.2 518.4,215.2 518.8,215.5 519.2,215.4 519.6,215.4 520.0,215.3 520.4,215.4 520.8,215.4 521.2,216.1 521.6,215.8 522.0,215.3 522.4,215.2 522.8,215.7 523.2,215.7 523.6,215.3 524.0,215.8 524.4,214.9 524.8,215.2 525.2,216.0 525.6,214.5 526.0,215.3 526.4,215.7 526.8,215.3 527.2,215.1 527.6,215.0 528.0,214.6 528.4,214.9 528.8,215.4 529.2,215.2 529.6,215.4 530.0,215.3 530.4,215.6 530.8,215.0 531.2,215.4 531.6,215.3 532.0,215.3 532.4,215.1 532.8,214.7 533.2,215.6 533.6,215.7"/>
<polyline fill="none" stroke="#EEB032" stroke-opacity="0.22" stroke-width="2.4" stroke-linejoin="round" points="49.6,86.7 50.0,88.3 50.4,89.0 50.8,88.5 51.2,89.7 51.6,90.4 52.0,92.2 52.4,92.7 52.8,94.5 53.2,93.5 53.6,97.3 54.0,96.9 54.4,98.4 54.8,98.3 55.2,98.8 55.6,100.4 56.0,101.4 56.4,101.4 56.8,102.4 57.2,104.1 57.6,103.7 58.0,104.0 58.4,106.8 58.8,106.8 59.2,106.7 59.6,108.3 60.0,109.6 60.4,109.9 60.8,110.6 61.2,112.7 61.6,114.4 62.0,114.4 62.4,115.0 62.8,116.9 63.2,118.3 63.6,118.5 64.0,120.1 64.4,121.1 64.8,120.6 65.2,120.6 65.6,122.1 66.0,122.5 66.4,124.0 66.8,122.6 67.2,123.7 67.6,123.9 68.0,123.7 68.4,125.9 68.8,126.7 69.2,126.1 69.6,128.7 70.0,129.0 70.4,130.1 70.8,130.9 71.2,132.5 71.6,131.6 72.0,134.3 72.4,135.0 72.8,133.8 73.2,136.2 73.6,136.3 74.0,137.7 74.4,137.4 74.8,138.2 75.2,139.1 75.6,138.8 76.0,140.9 76.4,141.0 76.8,142.3 77.2,142.1 77.6,144.4 78.0,144.9 78.4,145.1 78.8,146.3 79.2,147.7 79.6,149.0 80.0,147.1 80.4,150.0 80.8,150.6 81.2,151.0 81.6,151.0 82.0,153.8 82.4,152.5 82.8,154.7 83.2,156.1 83.6,154.1 84.0,155.5 84.4,155.1 84.8,156.6 85.2,158.1 85.6,159.2 86.0,156.2 86.4,157.5 86.8,159.0 87.2,160.4 87.6,159.7 88.0,159.0 88.4,160.3 88.8,160.4 89.2,160.7 89.6,160.7 90.0,162.2 90.4,162.5 90.8,162.5 91.2,162.6 91.6,162.1 92.0,163.1 92.4,165.0 92.8,164.3 93.2,163.8 93.6,166.4 94.0,166.2 94.4,168.1 94.8,166.8 95.2,166.8 95.6,166.3 96.0,168.8 96.4,170.5 96.8,168.0 97.2,168.5 97.6,169.9 98.0,169.1 98.4,169.9 98.8,170.0 99.2,170.8 99.6,172.0 100.0,171.5 100.4,172.6 100.8,171.9 101.2,172.9 101.6,170.9 102.0,172.1 102.4,174.1 102.8,173.2 103.2,174.5 103.6,174.6 104.0,175.4 104.4,175.6 104.8,175.9 105.2,175.0 105.6,174.5 106.0,174.7 106.4,175.2 106.8,174.8 107.2,175.6 107.6,176.4 108.0,177.0 108.4,176.6 108.8,175.6 109.2,177.0 109.6,177.5 110.0,178.5 110.4,178.1 110.8,177.2 111.2,177.0 111.6,179.3 112.0,178.4 112.4,179.5 112.8,179.7 113.2,177.3 113.6,178.6 114.0,178.9 114.4,179.2 114.8,179.3 115.2,179.2 115.6,179.3 116.0,177.8 116.4,179.0 116.8,178.5 117.2,179.3 117.6,179.1 118.0,179.9 118.4,180.2 118.8,179.9 119.2,180.2 119.6,180.4 120.0,180.1 120.4,180.5 120.8,180.4 121.2,181.4 121.6,181.3 122.0,181.7 122.4,180.3 122.8,182.3 123.2,180.8 123.6,180.7 124.0,181.1 124.4,180.9 124.8,181.6 125.2,180.9 125.6,180.6 126.0,180.8 126.4,182.9 126.8,181.9 127.2,180.9 127.6,181.7 128.0,180.4 128.4,183.4 128.8,180.8 129.2,182.6 129.6,182.7 130.0,181.2 130.4,182.8 130.8,183.3 131.2,182.8 131.6,182.9 132.0,183.8 132.4,182.9 132.8,183.3 133.2,182.9 133.6,183.7 134.0,182.2 134.4,183.8 134.8,182.7 135.2,182.1 135.6,183.4 136.0,184.8 136.4,184.2 136.8,182.9 137.2,183.9 137.6,182.7 138.0,183.1 138.4,183.2 138.8,181.3 139.2,183.4 139.6,182.3 140.0,182.3 140.4,181.6 140.8,181.8 141.2,182.2 141.6,183.8 142.0,184.3 142.4,182.9 142.8,183.8 143.2,182.6 143.6,181.1 144.0,182.7 144.4,182.8 144.8,181.8 145.2,182.3 145.6,182.0 146.0,180.5 146.4,179.1 146.8,179.5 147.2,179.0 147.6,179.0 148.0,180.7 148.4,182.0 148.8,180.7 149.2,182.0 149.6,182.4 150.0,182.4 150.4,182.8 150.8,181.6 151.2,182.6 151.6,183.6 152.0,182.5 152.4,181.2 152.8,181.9 153.2,182.2 153.6,181.2 154.0,180.2 154.4,181.8 154.8,179.4 155.2,180.5 155.6,179.7 156.0,178.4 156.4,180.4 156.8,179.5 157.2,178.0 157.6,179.3 158.0,178.2 158.4,176.7 158.8,177.5 159.2,178.0 159.6,178.2 160.0,177.4 160.4,177.1 160.8,177.2 161.2,176.4 161.6,177.4 162.0,176.3 162.4,176.2 162.8,176.1 163.2,174.3 163.6,174.3 164.0,175.8 164.4,174.3 164.8,173.1 165.2,172.9 165.6,171.4 166.0,171.4 166.4,170.5 166.8,171.6 167.2,170.6 167.6,173.7 168.0,172.6 168.4,172.0 168.8,173.4 169.2,173.5 169.6,174.1 170.0,173.1 170.4,174.5 170.8,177.2 171.2,173.0 171.6,174.3 172.0,173.5 172.4,173.8 172.8,171.8 173.2,172.1 173.6,173.3 174.0,172.7 174.4,174.0 174.8,171.6 175.2,172.1 175.6,174.1 176.0,170.7 176.4,170.3 176.8,171.0 177.2,170.7 177.6,171.2 178.0,170.2 178.4,169.1 178.8,169.6 179.2,171.2 179.6,169.5 180.0,165.4 180.4,166.8 180.8,164.8 181.2,164.7 181.6,162.1 182.0,161.3 182.4,157.3 182.8,153.7 183.2,150.0 183.6,148.6 184.0,150.0 184.4,153.7 184.8,156.4 185.2,158.7 185.6,162.7 186.0,163.7 186.4,164.9 186.8,165.4 187.2,166.4 187.6,167.0 188.0,165.7 188.4,169.5 188.8,169.6 189.2,169.4 189.6,170.6 190.0,170.4 190.4,170.5 190.8,168.3 191.2,170.3 191.6,171.4 192.0,172.3 192.4,172.8 192.8,172.6 193.2,170.4 193.6,169.4 194.0,171.5 194.4,170.7 194.8,170.9 195.2,169.4 195.6,169.2 196.0,167.3 196.4,168.8 196.8,168.0 197.2,168.6 197.6,168.6 198.0,168.2 198.4,168.5 198.8,168.3 199.2,168.7 199.6,168.6 200.0,167.2 200.4,166.9 200.8,168.3 201.2,166.0 201.6,166.2 202.0,164.7 202.4,163.1 202.8,162.8 203.2,164.5 203.6,166.0 204.0,167.6 204.4,167.2 204.8,168.8 205.2,169.8 205.6,172.0 206.0,169.1 206.4,172.0 206.8,171.7 207.2,172.9 207.6,172.5 208.0,173.5 208.4,174.9 208.8,174.1 209.2,174.4 209.6,174.4 210.0,173.7 210.4,174.9 210.8,174.4 211.2,173.9 211.6,174.5 212.0,174.4 212.4,175.2 212.8,174.4 213.2,173.9 213.6,175.6 214.0,175.1 214.4,175.5 214.8,174.9 215.2,174.4 215.6,173.9 216.0,174.0 216.4,174.9 216.8,174.0 217.2,172.7 217.6,173.8 218.0,172.5 218.4,173.7 218.8,172.5 219.2,172.1 219.6,172.9 220.0,172.4 220.4,170.4 220.8,172.0 221.2,172.7 221.6,169.2 222.0,172.1 222.4,170.4 222.8,171.2 223.2,172.3 223.6,171.7 224.0,174.7 224.4,174.4 224.8,173.7 225.2,174.3 225.6,173.4 226.0,174.6 226.4,175.8 226.8,173.6 227.2,174.7 227.6,175.3 228.0,176.3 228.4,176.7 228.8,175.2 229.2,175.0 229.6,176.2 230.0,175.6 230.4,175.8 230.8,177.3 231.2,178.1 231.6,176.9 232.0,176.6 232.4,177.4 232.8,175.4 233.2,177.1 233.6,176.4 234.0,179.4 234.4,178.0 234.8,177.8 235.2,177.7 235.6,175.8 236.0,178.6 236.4,179.7 236.8,177.7 237.2,179.0 237.6,179.2 238.0,177.5 238.4,179.8 238.8,180.2 239.2,179.2 239.6,179.1 240.0,180.0 240.4,178.3 240.8,179.7 241.2,180.8 241.6,179.0 242.0,181.2 242.4,179.9 242.8,178.6 243.2,180.3 243.6,179.6 244.0,181.0 244.4,179.7 244.8,181.6 245.2,180.2 245.6,181.3 246.0,180.5 246.4,180.8 246.8,182.3 247.2,181.5 247.6,181.1 248.0,180.4 248.4,182.3 248.8,181.9 249.2,181.0 249.6,181.4 250.0,180.6 250.4,180.4 250.8,180.8 251.2,182.0 251.6,181.9 252.0,181.2 252.4,182.5 252.8,182.6 253.2,182.3 253.6,183.0 254.0,182.0 254.4,182.2 254.8,182.6 255.2,182.0 255.6,182.9 256.0,181.2 256.4,183.5 256.8,181.7 257.2,182.2 257.6,181.5 258.0,183.1 258.4,183.7 258.8,183.6 259.2,183.5 259.6,181.5 260.0,182.3 260.4,182.5 260.8,181.9 261.2,183.6 261.6,182.9 262.0,182.9 262.4,183.2 262.8,182.1 263.2,182.2 263.6,182.2 264.0,183.4 264.4,183.3 264.8,183.8 265.2,184.2 265.6,182.2 266.0,182.9 266.4,183.8 266.8,182.3 267.2,183.1 267.6,184.5 268.0,184.5 268.4,184.5 268.8,183.7 269.2,183.7 269.6,184.9 270.0,183.6 270.4,184.2 270.8,185.1 271.2,183.6 271.6,183.4 272.0,183.8 272.4,184.4 272.8,184.1 273.2,183.5 273.6,183.4 274.0,181.0 274.4,181.4 274.8,182.3 275.2,182.0 275.6,182.2 276.0,182.7 276.4,183.4 276.8,184.1 277.2,183.6 277.6,184.8 278.0,186.2 278.4,184.6 278.8,185.8 279.2,185.0 279.6,184.0 280.0,184.7 280.4,184.4 280.8,185.8 281.2,184.1 281.6,185.9 282.0,185.3 282.4,183.1 282.8,185.3 283.2,186.0 283.6,184.2 284.0,185.8 284.4,183.3 284.8,185.3 285.2,183.8 285.6,185.5 286.0,183.6 286.4,182.8 286.8,185.6 287.2,187.3 287.6,185.0 288.0,186.3 288.4,185.8 288.8,185.5 289.2,186.2 289.6,187.2 290.0,185.0 290.4,186.5 290.8,186.5 291.2,185.0 291.6,187.6 292.0,187.8 292.4,185.2 292.8,187.6 293.2,186.1 293.6,185.8 294.0,187.2 294.4,186.2 294.8,186.3 295.2,187.2 295.6,187.0 296.0,186.5 296.4,184.5 296.8,184.3 297.2,186.5 297.6,184.8 298.0,185.8 298.4,184.8 298.8,185.7 299.2,184.9 299.6,187.4 300.0,185.2 300.4,186.0 300.8,186.0 301.2,187.3 301.6,185.0 302.0,186.5 302.4,186.3 302.8,187.0 303.2,187.2 303.6,186.5 304.0,187.3 304.4,187.0 304.8,187.7 305.2,187.3 305.6,186.9 306.0,187.5 306.4,187.8 306.8,189.4 307.2,187.1 307.6,187.8 308.0,188.8 308.4,185.8 308.8,186.0 309.2,186.5 309.6,187.5 310.0,189.7 310.4,187.9 310.8,188.9 311.2,187.8 311.6,185.8 312.0,186.0 312.4,188.9 312.8,188.1 313.2,186.8 313.6,188.8 314.0,186.6 314.4,189.0 314.8,189.2 315.2,187.5 315.6,187.2 316.0,189.0 316.4,187.3 316.8,189.0 317.2,187.5 317.6,189.3 318.0,188.7 318.4,188.3 318.8,187.9 319.2,188.6 319.6,186.7 320.0,188.1 320.4,188.1 320.8,188.8 321.2,187.0 321.6,189.7 322.0,188.1 322.4,187.5 322.8,189.6 323.2,190.1 323.6,188.4 324.0,187.8 324.4,188.3 324.8,187.7 325.2,188.1 325.6,189.5 326.0,188.4 326.4,188.0 326.8,188.2 327.2,188.0 327.6,189.0 328.0,189.2 328.4,188.1 328.8,188.2 329.2,190.3 329.6,188.8 330.0,188.2 330.4,189.9 330.8,188.1 331.2,187.0 331.6,188.4 332.0,187.2 332.4,187.7 332.8,188.6 333.2,188.3 333.6,187.9 334.0,188.1 334.4,188.2 334.8,189.9 335.2,188.4 335.6,188.5 336.0,190.6 336.4,188.2 336.8,190.2 337.2,190.2 337.6,189.0 338.0,187.8 338.4,189.6 338.8,189.9 339.2,190.3 339.6,189.4 340.0,190.5 340.4,190.4 340.8,188.3 341.2,190.6 341.6,189.5 342.0,188.7 342.4,188.9 342.8,190.9 343.2,190.0 343.6,187.5 344.0,189.0 344.4,188.6 344.8,188.6 345.2,188.2 345.6,187.2 346.0,189.3 346.4,187.7 346.8,187.9 347.2,187.7 347.6,187.4 348.0,188.7 348.4,188.3 348.8,187.5 349.2,186.9 349.6,187.0 350.0,188.2 350.4,187.5 350.8,187.5 351.2,186.9 351.6,187.1 352.0,187.4 352.4,185.6 352.8,188.6 353.2,186.5 353.6,186.8 354.0,188.5 354.4,187.3 354.8,187.1 355.2,186.7 355.6,185.8 356.0,187.4 356.4,188.3 356.8,186.5 357.2,188.5 357.6,186.7 358.0,186.9 358.4,187.9 358.8,187.5 359.2,188.1 359.6,186.8 360.0,186.4 360.4,185.9 360.8,186.4 361.2,186.4 361.6,186.1 362.0,187.4 362.4,186.7 362.8,185.6 363.2,189.5 363.6,186.8 364.0,186.4 364.4,188.5 364.8,188.3 365.2,186.3 365.6,186.0 366.0,186.3 366.4,188.3 366.8,187.0 367.2,186.5 367.6,187.1 368.0,188.2 368.4,186.1 368.8,186.9 369.2,186.1 369.6,189.2 370.0,189.1 370.4,188.2 370.8,187.0 371.2,187.5 371.6,185.0 372.0,187.1 372.4,185.7 372.8,185.6 373.2,186.1 373.6,186.5 374.0,187.3 374.4,187.5 374.8,186.9 375.2,186.0 375.6,187.3 376.0,186.7 376.4,187.8 376.8,186.0 377.2,184.3 377.6,186.3 378.0,188.4 378.4,186.7 378.8,186.4 379.2,187.4 379.6,187.3 380.0,187.2 380.4,186.3 380.8,186.6 381.2,186.6 381.6,185.9 382.0,185.3 382.4,186.3 382.8,187.0 383.2,186.8 383.6,186.8 384.0,186.7 384.4,188.5 384.8,186.4 385.2,187.2 385.6,188.0 386.0,186.1 386.4,186.4 386.8,187.1 387.2,187.6 387.6,186.5 388.0,186.4 388.4,186.2 388.8,185.1 389.2,187.1 389.6,186.1 390.0,184.7 390.4,186.1 390.8,184.7 391.2,185.1 391.6,186.1 392.0,185.2 392.4,187.0 392.8,184.9 393.2,186.3 393.6,186.5 394.0,187.2 394.4,186.9 394.8,186.1 395.2,186.1 395.6,185.9 396.0,186.9 396.4,185.5 396.8,186.6 397.2,185.9 397.6,186.2 398.0,185.9 398.4,188.0 398.8,185.6 399.2,186.5 399.6,186.6 400.0,186.9 400.4,186.6 400.8,186.5 401.2,187.1 401.6,184.8 402.0,186.2 402.4,185.3 402.8,186.5 403.2,185.3 403.6,185.6 404.0,186.6 404.4,187.8 404.8,187.2 405.2,187.0 405.6,188.1 406.0,186.3 406.4,185.1 406.8,186.6 407.2,186.7 407.6,188.1 408.0,189.1 408.4,186.1 408.8,189.5 409.2,188.8 409.6,188.2 410.0,187.9 410.4,189.6 410.8,187.6 411.2,187.1 411.6,187.7 412.0,186.4 412.4,187.9 412.8,187.4 413.2,187.4 413.6,187.4 414.0,186.2 414.4,188.1 414.8,186.2 415.2,187.8 415.6,185.8 416.0,187.5 416.4,186.4 416.8,186.9 417.2,186.4 417.6,185.1 418.0,186.0 418.4,187.1 418.8,187.7 419.2,185.9 419.6,185.3 420.0,186.5 420.4,187.1 420.8,186.8 421.2,186.9 421.6,188.5 422.0,188.6 422.4,188.4 422.8,187.0 423.2,187.8 423.6,187.8 424.0,186.5 424.4,188.5 424.8,187.8 425.2,187.5 425.6,189.2 426.0,188.7 426.4,188.8 426.8,189.1 427.2,188.6 427.6,186.9 428.0,187.8 428.4,188.8 428.8,187.3 429.2,188.2 429.6,188.2 430.0,189.2 430.4,189.0 430.8,188.7 431.2,187.9 431.6,189.0 432.0,188.6 432.4,187.9 432.8,189.1 433.2,188.4 433.6,187.3 434.0,189.0 434.4,187.7 434.8,188.4 435.2,186.6 435.6,187.9 436.0,187.0 436.4,187.0 436.8,186.2 437.2,189.7 437.6,187.5 438.0,187.9 438.4,188.5 438.8,187.6 439.2,188.1 439.6,186.4 440.0,187.5 440.4,187.1 440.8,187.9 441.2,187.9 441.6,186.5 442.0,186.1 442.4,186.8 442.8,188.4 443.2,188.0 443.6,187.9 444.0,186.0 444.4,185.5 444.8,187.1 445.2,187.6 445.6,187.1 446.0,187.8 446.4,187.2 446.8,186.5 447.2,186.8 447.6,187.7 448.0,187.7 448.4,187.6 448.8,189.6 449.2,187.6 449.6,187.7 450.0,186.9 450.4,187.5 450.8,188.2 451.2,188.2 451.6,187.5 452.0,188.2 452.4,187.7 452.8,186.1 453.2,185.0 453.6,189.7 454.0,188.6 454.4,188.1 454.8,186.9 455.2,187.3 455.6,189.4 456.0,185.6 456.4,187.7 456.8,188.8 457.2,188.0 457.6,188.4 458.0,187.7 458.4,189.9 458.8,187.2 459.2,187.0 459.6,188.3 460.0,189.4 460.4,187.9 460.8,189.0 461.2,187.7 461.6,187.1 462.0,189.2 462.4,189.3 462.8,189.2 463.2,187.6 463.6,187.2 464.0,187.3 464.4,188.4 464.8,189.1 465.2,189.0 465.6,187.6 466.0,189.1 466.4,188.9 466.8,188.9 467.2,188.7 467.6,188.4 468.0,189.2 468.4,188.7 468.8,188.9 469.2,188.1 469.6,189.0 470.0,188.5 470.4,186.9 470.8,189.2 471.2,188.7 471.6,189.4 472.0,188.3 472.4,188.1 472.8,188.2 473.2,188.0 473.6,187.8 474.0,186.3 474.4,189.4 474.8,186.4 475.2,187.4 475.6,188.1 476.0,188.1 476.4,188.2 476.8,188.5 477.2,188.9 477.6,188.1 478.0,190.6 478.4,187.3 478.8,188.3 479.2,187.8 479.6,187.5 480.0,188.3 480.4,189.4 480.8,187.6 481.2,187.7 481.6,188.8 482.0,188.5 482.4,189.8 482.8,189.1 483.2,188.3 483.6,187.8 484.0,188.5 484.4,188.0 484.8,186.9 485.2,188.1 485.6,188.1 486.0,187.8 486.4,187.3 486.8,189.2 487.2,188.3 487.6,188.5 488.0,187.1 488.4,186.9 488.8,187.4 489.2,187.8 489.6,187.4 490.0,187.6 490.4,188.7 490.8,188.0 491.2,187.1 491.6,187.8 492.0,187.7 492.4,188.3 492.8,187.0 493.2,187.8 493.6,188.5 494.0,187.9 494.4,187.1 494.8,187.5 495.2,188.0 495.6,188.2 496.0,188.4 496.4,187.6 496.8,186.5 497.2,188.9 497.6,188.2 498.0,188.1 498.4,188.0 498.8,186.9 499.2,187.6 499.6,188.1 500.0,188.4 500.4,187.4 500.8,184.7 501.2,187.2 501.6,188.0 502.0,188.8 502.4,188.4 502.8,189.8 503.2,188.8 503.6,188.8 504.0,188.5 504.4,186.6 504.8,188.6 505.2,188.4 505.6,187.4 506.0,188.2 506.4,188.1 506.8,187.4 507.2,187.7 507.6,187.5 508.0,187.9 508.4,187.5 508.8,188.4 509.2,186.3 509.6,187.7 510.0,186.3 510.4,187.3 510.8,188.2 511.2,187.8 511.6,187.8 512.0,188.0 512.4,189.5 512.8,187.3 513.2,188.9 513.6,186.8 514.0,187.8 514.4,188.5 514.8,187.7 515.2,188.5 515.6,188.8 516.0,187.2 516.4,188.2 516.8,187.9 517.2,186.7 517.6,188.2 518.0,187.6 518.4,189.5 518.8,187.6 519.2,189.8 519.6,188.0 520.0,190.0 520.4,188.7 520.8,188.5 521.2,188.5 521.6,188.7 522.0,188.9 522.4,189.0 522.8,187.2 523.2,186.4 523.6,185.4 524.0,187.2 524.4,188.2 524.8,188.0 525.2,187.7 525.6,187.1 526.0,186.8 526.4,187.2 526.8,187.7 527.2,185.7 527.6,187.7 528.0,185.9 528.4,186.9 528.8,186.7 529.2,186.8 529.6,186.5 530.0,186.4 530.4,187.3 530.8,186.7 531.2,189.7 531.6,187.2 532.0,186.7 532.4,186.9 532.8,186.3 533.2,185.0 533.6,187.1"/>
<polyline fill="none" stroke="#EEB032" stroke-width="1.0" stroke-linejoin="round" points="49.6,86.7 50.0,88.3 50.4,89.0 50.8,88.5 51.2,89.7 51.6,90.4 52.0,92.2 52.4,92.7 52.8,94.5 53.2,93.5 53.6,97.3 54.0,96.9 54.4,98.4 54.8,98.3 55.2,98.8 55.6,100.4 56.0,101.4 56.4,101.4 56.8,102.4 57.2,104.1 57.6,103.7 58.0,104.0 58.4,106.8 58.8,106.8 59.2,106.7 59.6,108.3 60.0,109.6 60.4,109.9 60.8,110.6 61.2,112.7 61.6,114.4 62.0,114.4 62.4,115.0 62.8,116.9 63.2,118.3 63.6,118.5 64.0,120.1 64.4,121.1 64.8,120.6 65.2,120.6 65.6,122.1 66.0,122.5 66.4,124.0 66.8,122.6 67.2,123.7 67.6,123.9 68.0,123.7 68.4,125.9 68.8,126.7 69.2,126.1 69.6,128.7 70.0,129.0 70.4,130.1 70.8,130.9 71.2,132.5 71.6,131.6 72.0,134.3 72.4,135.0 72.8,133.8 73.2,136.2 73.6,136.3 74.0,137.7 74.4,137.4 74.8,138.2 75.2,139.1 75.6,138.8 76.0,140.9 76.4,141.0 76.8,142.3 77.2,142.1 77.6,144.4 78.0,144.9 78.4,145.1 78.8,146.3 79.2,147.7 79.6,149.0 80.0,147.1 80.4,150.0 80.8,150.6 81.2,151.0 81.6,151.0 82.0,153.8 82.4,152.5 82.8,154.7 83.2,156.1 83.6,154.1 84.0,155.5 84.4,155.1 84.8,156.6 85.2,158.1 85.6,159.2 86.0,156.2 86.4,157.5 86.8,159.0 87.2,160.4 87.6,159.7 88.0,159.0 88.4,160.3 88.8,160.4 89.2,160.7 89.6,160.7 90.0,162.2 90.4,162.5 90.8,162.5 91.2,162.6 91.6,162.1 92.0,163.1 92.4,165.0 92.8,164.3 93.2,163.8 93.6,166.4 94.0,166.2 94.4,168.1 94.8,166.8 95.2,166.8 95.6,166.3 96.0,168.8 96.4,170.5 96.8,168.0 97.2,168.5 97.6,169.9 98.0,169.1 98.4,169.9 98.8,170.0 99.2,170.8 99.6,172.0 100.0,171.5 100.4,172.6 100.8,171.9 101.2,172.9 101.6,170.9 102.0,172.1 102.4,174.1 102.8,173.2 103.2,174.5 103.6,174.6 104.0,175.4 104.4,175.6 104.8,175.9 105.2,175.0 105.6,174.5 106.0,174.7 106.4,175.2 106.8,174.8 107.2,175.6 107.6,176.4 108.0,177.0 108.4,176.6 108.8,175.6 109.2,177.0 109.6,177.5 110.0,178.5 110.4,178.1 110.8,177.2 111.2,177.0 111.6,179.3 112.0,178.4 112.4,179.5 112.8,179.7 113.2,177.3 113.6,178.6 114.0,178.9 114.4,179.2 114.8,179.3 115.2,179.2 115.6,179.3 116.0,177.8 116.4,179.0 116.8,178.5 117.2,179.3 117.6,179.1 118.0,179.9 118.4,180.2 118.8,179.9 119.2,180.2 119.6,180.4 120.0,180.1 120.4,180.5 120.8,180.4 121.2,181.4 121.6,181.3 122.0,181.7 122.4,180.3 122.8,182.3 123.2,180.8 123.6,180.7 124.0,181.1 124.4,180.9 124.8,181.6 125.2,180.9 125.6,180.6 126.0,180.8 126.4,182.9 126.8,181.9 127.2,180.9 127.6,181.7 128.0,180.4 128.4,183.4 128.8,180.8 129.2,182.6 129.6,182.7 130.0,181.2 130.4,182.8 130.8,183.3 131.2,182.8 131.6,182.9 132.0,183.8 132.4,182.9 132.8,183.3 133.2,182.9 133.6,183.7 134.0,182.2 134.4,183.8 134.8,182.7 135.2,182.1 135.6,183.4 136.0,184.8 136.4,184.2 136.8,182.9 137.2,183.9 137.6,182.7 138.0,183.1 138.4,183.2 138.8,181.3 139.2,183.4 139.6,182.3 140.0,182.3 140.4,181.6 140.8,181.8 141.2,182.2 141.6,183.8 142.0,184.3 142.4,182.9 142.8,183.8 143.2,182.6 143.6,181.1 144.0,182.7 144.4,182.8 144.8,181.8 145.2,182.3 145.6,182.0 146.0,180.5 146.4,179.1 146.8,179.5 147.2,179.0 147.6,179.0 148.0,180.7 148.4,182.0 148.8,180.7 149.2,182.0 149.6,182.4 150.0,182.4 150.4,182.8 150.8,181.6 151.2,182.6 151.6,183.6 152.0,182.5 152.4,181.2 152.8,181.9 153.2,182.2 153.6,181.2 154.0,180.2 154.4,181.8 154.8,179.4 155.2,180.5 155.6,179.7 156.0,178.4 156.4,180.4 156.8,179.5 157.2,178.0 157.6,179.3 158.0,178.2 158.4,176.7 158.8,177.5 159.2,178.0 159.6,178.2 160.0,177.4 160.4,177.1 160.8,177.2 161.2,176.4 161.6,177.4 162.0,176.3 162.4,176.2 162.8,176.1 163.2,174.3 163.6,174.3 164.0,175.8 164.4,174.3 164.8,173.1 165.2,172.9 165.6,171.4 166.0,171.4 166.4,170.5 166.8,171.6 167.2,170.6 167.6,173.7 168.0,172.6 168.4,172.0 168.8,173.4 169.2,173.5 169.6,174.1 170.0,173.1 170.4,174.5 170.8,177.2 171.2,173.0 171.6,174.3 172.0,173.5 172.4,173.8 172.8,171.8 173.2,172.1 173.6,173.3 174.0,172.7 174.4,174.0 174.8,171.6 175.2,172.1 175.6,174.1 176.0,170.7 176.4,170.3 176.8,171.0 177.2,170.7 177.6,171.2 178.0,170.2 178.4,169.1 178.8,169.6 179.2,171.2 179.6,169.5 180.0,165.4 180.4,166.8 180.8,164.8 181.2,164.7 181.6,162.1 182.0,161.3 182.4,157.3 182.8,153.7 183.2,150.0 183.6,148.6 184.0,150.0 184.4,153.7 184.8,156.4 185.2,158.7 185.6,162.7 186.0,163.7 186.4,164.9 186.8,165.4 187.2,166.4 187.6,167.0 188.0,165.7 188.4,169.5 188.8,169.6 189.2,169.4 189.6,170.6 190.0,170.4 190.4,170.5 190.8,168.3 191.2,170.3 191.6,171.4 192.0,172.3 192.4,172.8 192.8,172.6 193.2,170.4 193.6,169.4 194.0,171.5 194.4,170.7 194.8,170.9 195.2,169.4 195.6,169.2 196.0,167.3 196.4,168.8 196.8,168.0 197.2,168.6 197.6,168.6 198.0,168.2 198.4,168.5 198.8,168.3 199.2,168.7 199.6,168.6 200.0,167.2 200.4,166.9 200.8,168.3 201.2,166.0 201.6,166.2 202.0,164.7 202.4,163.1 202.8,162.8 203.2,164.5 203.6,166.0 204.0,167.6 204.4,167.2 204.8,168.8 205.2,169.8 205.6,172.0 206.0,169.1 206.4,172.0 206.8,171.7 207.2,172.9 207.6,172.5 208.0,173.5 208.4,174.9 208.8,174.1 209.2,174.4 209.6,174.4 210.0,173.7 210.4,174.9 210.8,174.4 211.2,173.9 211.6,174.5 212.0,174.4 212.4,175.2 212.8,174.4 213.2,173.9 213.6,175.6 214.0,175.1 214.4,175.5 214.8,174.9 215.2,174.4 215.6,173.9 216.0,174.0 216.4,174.9 216.8,174.0 217.2,172.7 217.6,173.8 218.0,172.5 218.4,173.7 218.8,172.5 219.2,172.1 219.6,172.9 220.0,172.4 220.4,170.4 220.8,172.0 221.2,172.7 221.6,169.2 222.0,172.1 222.4,170.4 222.8,171.2 223.2,172.3 223.6,171.7 224.0,174.7 224.4,174.4 224.8,173.7 225.2,174.3 225.6,173.4 226.0,174.6 226.4,175.8 226.8,173.6 227.2,174.7 227.6,175.3 228.0,176.3 228.4,176.7 228.8,175.2 229.2,175.0 229.6,176.2 230.0,175.6 230.4,175.8 230.8,177.3 231.2,178.1 231.6,176.9 232.0,176.6 232.4,177.4 232.8,175.4 233.2,177.1 233.6,176.4 234.0,179.4 234.4,178.0 234.8,177.8 235.2,177.7 235.6,175.8 236.0,178.6 236.4,179.7 236.8,177.7 237.2,179.0 237.6,179.2 238.0,177.5 238.4,179.8 238.8,180.2 239.2,179.2 239.6,179.1 240.0,180.0 240.4,178.3 240.8,179.7 241.2,180.8 241.6,179.0 242.0,181.2 242.4,179.9 242.8,178.6 243.2,180.3 243.6,179.6 244.0,181.0 244.4,179.7 244.8,181.6 245.2,180.2 245.6,181.3 246.0,180.5 246.4,180.8 246.8,182.3 247.2,181.5 247.6,181.1 248.0,180.4 248.4,182.3 248.8,181.9 249.2,181.0 249.6,181.4 250.0,180.6 250.4,180.4 250.8,180.8 251.2,182.0 251.6,181.9 252.0,181.2 252.4,182.5 252.8,182.6 253.2,182.3 253.6,183.0 254.0,182.0 254.4,182.2 254.8,182.6 255.2,182.0 255.6,182.9 256.0,181.2 256.4,183.5 256.8,181.7 257.2,182.2 257.6,181.5 258.0,183.1 258.4,183.7 258.8,183.6 259.2,183.5 259.6,181.5 260.0,182.3 260.4,182.5 260.8,181.9 261.2,183.6 261.6,182.9 262.0,182.9 262.4,183.2 262.8,182.1 263.2,182.2 263.6,182.2 264.0,183.4 264.4,183.3 264.8,183.8 265.2,184.2 265.6,182.2 266.0,182.9 266.4,183.8 266.8,182.3 267.2,183.1 267.6,184.5 268.0,184.5 268.4,184.5 268.8,183.7 269.2,183.7 269.6,184.9 270.0,183.6 270.4,184.2 270.8,185.1 271.2,183.6 271.6,183.4 272.0,183.8 272.4,184.4 272.8,184.1 273.2,183.5 273.6,183.4 274.0,181.0 274.4,181.4 274.8,182.3 275.2,182.0 275.6,182.2 276.0,182.7 276.4,183.4 276.8,184.1 277.2,183.6 277.6,184.8 278.0,186.2 278.4,184.6 278.8,185.8 279.2,185.0 279.6,184.0 280.0,184.7 280.4,184.4 280.8,185.8 281.2,184.1 281.6,185.9 282.0,185.3 282.4,183.1 282.8,185.3 283.2,186.0 283.6,184.2 284.0,185.8 284.4,183.3 284.8,185.3 285.2,183.8 285.6,185.5 286.0,183.6 286.4,182.8 286.8,185.6 287.2,187.3 287.6,185.0 288.0,186.3 288.4,185.8 288.8,185.5 289.2,186.2 289.6,187.2 290.0,185.0 290.4,186.5 290.8,186.5 291.2,185.0 291.6,187.6 292.0,187.8 292.4,185.2 292.8,187.6 293.2,186.1 293.6,185.8 294.0,187.2 294.4,186.2 294.8,186.3 295.2,187.2 295.6,187.0 296.0,186.5 296.4,184.5 296.8,184.3 297.2,186.5 297.6,184.8 298.0,185.8 298.4,184.8 298.8,185.7 299.2,184.9 299.6,187.4 300.0,185.2 300.4,186.0 300.8,186.0 301.2,187.3 301.6,185.0 302.0,186.5 302.4,186.3 302.8,187.0 303.2,187.2 303.6,186.5 304.0,187.3 304.4,187.0 304.8,187.7 305.2,187.3 305.6,186.9 306.0,187.5 306.4,187.8 306.8,189.4 307.2,187.1 307.6,187.8 308.0,188.8 308.4,185.8 308.8,186.0 309.2,186.5 309.6,187.5 310.0,189.7 310.4,187.9 310.8,188.9 311.2,187.8 311.6,185.8 312.0,186.0 312.4,188.9 312.8,188.1 313.2,186.8 313.6,188.8 314.0,186.6 314.4,189.0 314.8,189.2 315.2,187.5 315.6,187.2 316.0,189.0 316.4,187.3 316.8,189.0 317.2,187.5 317.6,189.3 318.0,188.7 318.4,188.3 318.8,187.9 319.2,188.6 319.6,186.7 320.0,188.1 320.4,188.1 320.8,188.8 321.2,187.0 321.6,189.7 322.0,188.1 322.4,187.5 322.8,189.6 323.2,190.1 323.6,188.4 324.0,187.8 324.4,188.3 324.8,187.7 325.2,188.1 325.6,189.5 326.0,188.4 326.4,188.0 326.8,188.2 327.2,188.0 327.6,189.0 328.0,189.2 328.4,188.1 328.8,188.2 329.2,190.3 329.6,188.8 330.0,188.2 330.4,189.9 330.8,188.1 331.2,187.0 331.6,188.4 332.0,187.2 332.4,187.7 332.8,188.6 333.2,188.3 333.6,187.9 334.0,188.1 334.4,188.2 334.8,189.9 335.2,188.4 335.6,188.5 336.0,190.6 336.4,188.2 336.8,190.2 337.2,190.2 337.6,189.0 338.0,187.8 338.4,189.6 338.8,189.9 339.2,190.3 339.6,189.4 340.0,190.5 340.4,190.4 340.8,188.3 341.2,190.6 341.6,189.5 342.0,188.7 342.4,188.9 342.8,190.9 343.2,190.0 343.6,187.5 344.0,189.0 344.4,188.6 344.8,188.6 345.2,188.2 345.6,187.2 346.0,189.3 346.4,187.7 346.8,187.9 347.2,187.7 347.6,187.4 348.0,188.7 348.4,188.3 348.8,187.5 349.2,186.9 349.6,187.0 350.0,188.2 350.4,187.5 350.8,187.5 351.2,186.9 351.6,187.1 352.0,187.4 352.4,185.6 352.8,188.6 353.2,186.5 353.6,186.8 354.0,188.5 354.4,187.3 354.8,187.1 355.2,186.7 355.6,185.8 356.0,187.4 356.4,188.3 356.8,186.5 357.2,188.5 357.6,186.7 358.0,186.9 358.4,187.9 358.8,187.5 359.2,188.1 359.6,186.8 360.0,186.4 360.4,185.9 360.8,186.4 361.2,186.4 361.6,186.1 362.0,187.4 362.4,186.7 362.8,185.6 363.2,189.5 363.6,186.8 364.0,186.4 364.4,188.5 364.8,188.3 365.2,186.3 365.6,186.0 366.0,186.3 366.4,188.3 366.8,187.0 367.2,186.5 367.6,187.1 368.0,188.2 368.4,186.1 368.8,186.9 369.2,186.1 369.6,189.2 370.0,189.1 370.4,188.2 370.8,187.0 371.2,187.5 371.6,185.0 372.0,187.1 372.4,185.7 372.8,185.6 373.2,186.1 373.6,186.5 374.0,187.3 374.4,187.5 374.8,186.9 375.2,186.0 375.6,187.3 376.0,186.7 376.4,187.8 376.8,186.0 377.2,184.3 377.6,186.3 378.0,188.4 378.4,186.7 378.8,186.4 379.2,187.4 379.6,187.3 380.0,187.2 380.4,186.3 380.8,186.6 381.2,186.6 381.6,185.9 382.0,185.3 382.4,186.3 382.8,187.0 383.2,186.8 383.6,186.8 384.0,186.7 384.4,188.5 384.8,186.4 385.2,187.2 385.6,188.0 386.0,186.1 386.4,186.4 386.8,187.1 387.2,187.6 387.6,186.5 388.0,186.4 388.4,186.2 388.8,185.1 389.2,187.1 389.6,186.1 390.0,184.7 390.4,186.1 390.8,184.7 391.2,185.1 391.6,186.1 392.0,185.2 392.4,187.0 392.8,184.9 393.2,186.3 393.6,186.5 394.0,187.2 394.4,186.9 394.8,186.1 395.2,186.1 395.6,185.9 396.0,186.9 396.4,185.5 396.8,186.6 397.2,185.9 397.6,186.2 398.0,185.9 398.4,188.0 398.8,185.6 399.2,186.5 399.6,186.6 400.0,186.9 400.4,186.6 400.8,186.5 401.2,187.1 401.6,184.8 402.0,186.2 402.4,185.3 402.8,186.5 403.2,185.3 403.6,185.6 404.0,186.6 404.4,187.8 404.8,187.2 405.2,187.0 405.6,188.1 406.0,186.3 406.4,185.1 406.8,186.6 407.2,186.7 407.6,188.1 408.0,189.1 408.4,186.1 408.8,189.5 409.2,188.8 409.6,188.2 410.0,187.9 410.4,189.6 410.8,187.6 411.2,187.1 411.6,187.7 412.0,186.4 412.4,187.9 412.8,187.4 413.2,187.4 413.6,187.4 414.0,186.2 414.4,188.1 414.8,186.2 415.2,187.8 415.6,185.8 416.0,187.5 416.4,186.4 416.8,186.9 417.2,186.4 417.6,185.1 418.0,186.0 418.4,187.1 418.8,187.7 419.2,185.9 419.6,185.3 420.0,186.5 420.4,187.1 420.8,186.8 421.2,186.9 421.6,188.5 422.0,188.6 422.4,188.4 422.8,187.0 423.2,187.8 423.6,187.8 424.0,186.5 424.4,188.5 424.8,187.8 425.2,187.5 425.6,189.2 426.0,188.7 426.4,188.8 426.8,189.1 427.2,188.6 427.6,186.9 428.0,187.8 428.4,188.8 428.8,187.3 429.2,188.2 429.6,188.2 430.0,189.2 430.4,189.0 430.8,188.7 431.2,187.9 431.6,189.0 432.0,188.6 432.4,187.9 432.8,189.1 433.2,188.4 433.6,187.3 434.0,189.0 434.4,187.7 434.8,188.4 435.2,186.6 435.6,187.9 436.0,187.0 436.4,187.0 436.8,186.2 437.2,189.7 437.6,187.5 438.0,187.9 438.4,188.5 438.8,187.6 439.2,188.1 439.6,186.4 440.0,187.5 440.4,187.1 440.8,187.9 441.2,187.9 441.6,186.5 442.0,186.1 442.4,186.8 442.8,188.4 443.2,188.0 443.6,187.9 444.0,186.0 444.4,185.5 444.8,187.1 445.2,187.6 445.6,187.1 446.0,187.8 446.4,187.2 446.8,186.5 447.2,186.8 447.6,187.7 448.0,187.7 448.4,187.6 448.8,189.6 449.2,187.6 449.6,187.7 450.0,186.9 450.4,187.5 450.8,188.2 451.2,188.2 451.6,187.5 452.0,188.2 452.4,187.7 452.8,186.1 453.2,185.0 453.6,189.7 454.0,188.6 454.4,188.1 454.8,186.9 455.2,187.3 455.6,189.4 456.0,185.6 456.4,187.7 456.8,188.8 457.2,188.0 457.6,188.4 458.0,187.7 458.4,189.9 458.8,187.2 459.2,187.0 459.6,188.3 460.0,189.4 460.4,187.9 460.8,189.0 461.2,187.7 461.6,187.1 462.0,189.2 462.4,189.3 462.8,189.2 463.2,187.6 463.6,187.2 464.0,187.3 464.4,188.4 464.8,189.1 465.2,189.0 465.6,187.6 466.0,189.1 466.4,188.9 466.8,188.9 467.2,188.7 467.6,188.4 468.0,189.2 468.4,188.7 468.8,188.9 469.2,188.1 469.6,189.0 470.0,188.5 470.4,186.9 470.8,189.2 471.2,188.7 471.6,189.4 472.0,188.3 472.4,188.1 472.8,188.2 473.2,188.0 473.6,187.8 474.0,186.3 474.4,189.4 474.8,186.4 475.2,187.4 475.6,188.1 476.0,188.1 476.4,188.2 476.8,188.5 477.2,188.9 477.6,188.1 478.0,190.6 478.4,187.3 478.8,188.3 479.2,187.8 479.6,187.5 480.0,188.3 480.4,189.4 480.8,187.6 481.2,187.7 481.6,188.8 482.0,188.5 482.4,189.8 482.8,189.1 483.2,188.3 483.6,187.8 484.0,188.5 484.4,188.0 484.8,186.9 485.2,188.1 485.6,188.1 486.0,187.8 486.4,187.3 486.8,189.2 487.2,188.3 487.6,188.5 488.0,187.1 488.4,186.9 488.8,187.4 489.2,187.8 489.6,187.4 490.0,187.6 490.4,188.7 490.8,188.0 491.2,187.1 491.6,187.8 492.0,187.7 492.4,188.3 492.8,187.0 493.2,187.8 493.6,188.5 494.0,187.9 494.4,187.1 494.8,187.5 495.2,188.0 495.6,188.2 496.0,188.4 496.4,187.6 496.8,186.5 497.2,188.9 497.6,188.2 498.0,188.1 498.4,188.0 498.8,186.9 499.2,187.6 499.6,188.1 500.0,188.4 500.4,187.4 500.8,184.7 501.2,187.2 501.6,188.0 502.0,188.8 502.4,188.4 502.8,189.8 503.2,188.8 503.6,188.8 504.0,188.5 504.4,186.6 504.8,188.6 505.2,188.4 505.6,187.4 506.0,188.2 506.4,188.1 506.8,187.4 507.2,187.7 507.6,187.5 508.0,187.9 508.4,187.5 508.8,188.4 509.2,186.3 509.6,187.7 510.0,186.3 510.4,187.3 510.8,188.2 511.2,187.8 511.6,187.8 512.0,188.0 512.4,189.5 512.8,187.3 513.2,188.9 513.6,186.8 514.0,187.8 514.4,188.5 514.8,187.7 515.2,188.5 515.6,188.8 516.0,187.2 516.4,188.2 516.8,187.9 517.2,186.7 517.6,188.2 518.0,187.6 518.4,189.5 518.8,187.6 519.2,189.8 519.6,188.0 520.0,190.0 520.4,188.7 520.8,188.5 521.2,188.5 521.6,188.7 522.0,188.9 522.4,189.0 522.8,187.2 523.2,186.4 523.6,185.4 524.0,187.2 524.4,188.2 524.8,188.0 525.2,187.7 525.6,187.1 526.0,186.8 526.4,187.2 526.8,187.7 527.2,185.7 527.6,187.7 528.0,185.9 528.4,186.9 528.8,186.7 529.2,186.8 529.6,186.5 530.0,186.4 530.4,187.3 530.8,186.7 531.2,189.7 531.6,187.2 532.0,186.7 532.4,186.9 532.8,186.3 533.2,185.0 533.6,187.1"/>
</g>
<rect x="49" y="9" width="486" height="359" fill="none" stroke="#000" stroke-width="2"/>
<line x1="42" y1="368.0" x2="49" y2="368.0" stroke="#000" stroke-width="2"/>
<line x1="45" y1="340.4" x2="49" y2="340.4" stroke="#000" stroke-width="2"/>
<line x1="42" y1="312.8" x2="49" y2="312.8" stroke="#000" stroke-width="2"/>
<line x1="45" y1="285.2" x2="49" y2="285.2" stroke="#000" stroke-width="2"/>
<line x1="42" y1="257.6" x2="49" y2="257.6" stroke="#000" stroke-width="2"/>
<line x1="45" y1="230.0" x2="49" y2="230.0" stroke="#000" stroke-width="2"/>
<line x1="42" y1="202.4" x2="49" y2="202.4" stroke="#000" stroke-width="2"/>
<line x1="45" y1="174.8" x2="49" y2="174.8" stroke="#000" stroke-width="2"/>
<line x1="42" y1="147.2" x2="49" y2="147.2" stroke="#000" stroke-width="2"/>
<line x1="45" y1="119.6" x2="49" y2="119.6" stroke="#000" stroke-width="2"/>
<line x1="42" y1="92.0" x2="49" y2="92.0" stroke="#000" stroke-width="2"/>
<line x1="45" y1="64.4" x2="49" y2="64.4" stroke="#000" stroke-width="2"/>
<line x1="42" y1="36.8" x2="49" y2="36.8" stroke="#000" stroke-width="2"/>
<line x1="49.0" y1="368" x2="49.0" y2="375" stroke="#000" stroke-width="2"/>
<line x1="89.5" y1="368" x2="89.5" y2="372" stroke="#000" stroke-width="2"/>
<line x1="130.0" y1="368" x2="130.0" y2="375" stroke="#000" stroke-width="2"/>
<line x1="170.5" y1="368" x2="170.5" y2="372" stroke="#000" stroke-width="2"/>
<line x1="211.0" y1="368" x2="211.0" y2="375" stroke="#000" stroke-width="2"/>
<line x1="251.5" y1="368" x2="251.5" y2="372" stroke="#000" stroke-width="2"/>
<line x1="292.0" y1="368" x2="292.0" y2="375" stroke="#000" stroke-width="2"/>
<line x1="332.5" y1="368" x2="332.5" y2="372" stroke="#000" stroke-width="2"/>
<line x1="373.0" y1="368" x2="373.0" y2="375" stroke="#000" stroke-width="2"/>
<line x1="413.5" y1="368" x2="413.5" y2="372" stroke="#000" stroke-width="2"/>
<line x1="454.0" y1="368" x2="454.0" y2="375" stroke="#000" stroke-width="2"/>
<line x1="494.5" y1="368" x2="494.5" y2="372" stroke="#000" stroke-width="2"/>
<line x1="535.0" y1="368" x2="535.0" y2="375" stroke="#000" stroke-width="2"/>
<text x="49.0" y="391.9" text-anchor="middle" class="tk">20</text>
<text x="130.0" y="391.9" text-anchor="middle" class="tk">30</text>
<text x="211.0" y="391.9" text-anchor="middle" class="tk">40</text>
<text x="292.0" y="391.9" text-anchor="middle" class="tk">50</text>
<text x="373.0" y="391.9" text-anchor="middle" class="tk">60</text>
<text x="454.0" y="391.9" text-anchor="middle" class="tk">70</text>
<text x="535.0" y="391.9" text-anchor="middle" class="tk">80</text>
<text x="292.2" y="420.2" text-anchor="middle" class="al">2-theta (θ)</text>
<text transform="translate(21.9,187.7) rotate(-90)" text-anchor="middle" class="al">Intensity (a.u)</text>
<line x1="340.5" y1="26.4" x2="382.7" y2="26.4" stroke="#F5D9A6" stroke-width="1.5"/>
<text x="388" y="32.7" class="lg">SPS150_180min</text>
<line x1="340.5" y1="49.1" x2="382.7" y2="49.1" stroke="#E7C4F7" stroke-width="1.5"/>
<text x="388" y="55.5" class="lg">SPS150_90min</text>
<line x1="340.5" y1="71.7" x2="382.7" y2="71.7" stroke="#A9E5CF" stroke-width="1.5"/>
<text x="388" y="78.3" class="lg">SPS150_60min</text>
<line x1="340.5" y1="94.4" x2="382.7" y2="94.4" stroke="#A9CCF5" stroke-width="1.5"/>
<text x="388" y="101.1" class="lg">SPS150_30min</text>
<line x1="340.5" y1="117.0" x2="382.7" y2="117.0" stroke="#F8B4B6" stroke-width="1.5"/>
<text x="388" y="123.9" class="lg">SPS150_15min</text>
<line x1="340.5" y1="139.7" x2="382.7" y2="139.7" stroke="#CFCFCF" stroke-width="1.5"/>
<text x="388" y="146.7" class="lg">CPC</text>
<text x="134.3" y="167.6" class="an" textLength="22.6" lengthAdjust="spacingAndGlyphs">α-Mg</text>
<text x="155.1" y="157.6" class="an" textLength="22.9" lengthAdjust="spacingAndGlyphs">α-Mg</text>
<text x="173.9" y="142.8" class="an" textLength="22.9" lengthAdjust="spacingAndGlyphs">α-Mg</text>
<text x="191.1" y="154.4" class="an" textLength="30.8" lengthAdjust="spacingAndGlyphs">Mg<tspan class="sb" dy="2.3">7</tspan><tspan dy="-2.3">Zn</tspan><tspan class="sb" dy="2.3">3</tspan></text>
<text x="213.6" y="165.3" class="an" textLength="31.4" lengthAdjust="spacingAndGlyphs">Mg<tspan class="sb" dy="2.3">7</tspan><tspan dy="-2.3">Zn</tspan><tspan class="sb" dy="2.3">3</tspan></text>
</svg>
</body></html>
